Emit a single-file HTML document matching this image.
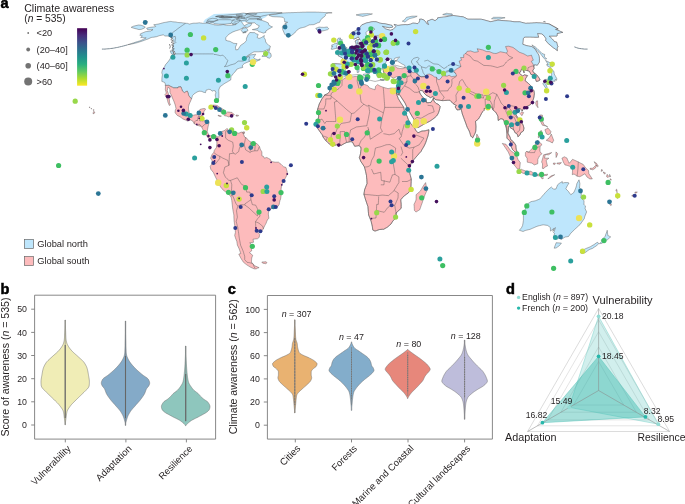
<!DOCTYPE html>
<html><head><meta charset="utf-8"><title>Climate awareness figure</title>
<style>html,body{margin:0;padding:0;background:#fff;overflow:hidden}svg{display:block}</style></head>
<body><svg width="685" height="504" viewBox="0 0 685 504" font-family="Liberation Sans, Arial, Helvetica, sans-serif">
<rect width="685" height="504" fill="#fff"/>
<clipPath id="eaclip"><path d="M336.3,78.4L335.3,77.4L334.5,76.7L333.7,76.0L332.6,76.2L331.4,76.4L331.6,74.9L331.7,73.5L330.7,72.9L331.5,71.3L331.8,70.0L332.0,68.6L331.9,67.6L331.8,66.5L331.3,64.8L332.8,63.7L333.8,63.7L334.7,63.7L336.1,63.8L337.6,63.9L339.0,64.0L340.4,64.1L341.3,64.1L342.2,64.1L342.5,63.1L342.9,62.0L343.0,60.7L343.0,59.3L342.4,58.3L341.7,57.3L340.6,56.9L339.5,56.4L338.5,56.0L338.1,55.0L339.0,54.6L339.9,54.3L341.2,54.3L342.5,54.4L342.1,52.7L343.1,53.2L344.1,53.1L345.0,53.0L346.0,52.4L346.9,51.8L346.9,50.6L347.9,50.2L348.8,49.9L350.1,48.9L351.0,47.2L352.0,46.4L353.0,46.3L354.0,46.2L355.0,46.1L356.0,46.0L356.2,44.6L356.0,42.9L355.3,41.3L355.8,40.4L357.0,39.9L358.3,39.5L359.1,39.5L359.9,39.5L359.4,38.5L358.9,37.6L357.9,36.7L357.4,37.5L356.1,38.2L354.9,38.8L354.0,38.8L353.0,38.7L351.8,37.5L351.5,36.4L351.2,35.4L351.0,34.5L350.9,33.6L351.6,32.4L352.7,31.9L353.8,31.5L354.7,31.2L355.6,30.8L356.4,30.2L357.3,29.6L358.3,29.0L359.3,28.3L359.9,27.5L360.5,26.6L361.2,25.7L361.9,24.8L363.0,24.4L364.1,24.0L365.1,23.5L366.2,23.1L367.2,22.8L368.3,22.6L369.2,22.4L370.1,22.2L371.0,21.9L371.8,21.8L372.6,21.7L373.4,21.6L374.3,21.7L375.1,21.7L375.9,21.7L377.1,22.1L378.4,22.5L379.7,23.1L380.9,23.3L382.1,23.5L383.3,23.6L384.4,23.7L385.6,23.9L386.9,24.2L388.1,24.5L389.4,24.8L390.7,25.1L392.0,25.4L392.4,26.1L392.9,26.9L392.3,27.1L391.6,27.4L390.5,27.5L389.3,27.7L388.3,27.5L387.3,27.3L386.3,27.1L385.3,26.9L384.3,26.7L383.3,26.5L382.3,26.3L383.4,27.1L384.5,28.0L385.7,29.0L386.8,29.3L388.0,29.6L389.1,30.0L390.3,30.3L391.2,30.0L392.1,29.8L393.0,29.5L393.7,28.8L394.4,28.1L395.1,27.4L395.9,26.5L395.0,25.5L394.2,24.4L394.9,24.6L395.7,24.8L396.7,25.1L397.7,25.4L398.8,25.3L399.9,25.2L401.0,25.0L402.1,24.9L403.2,24.8L404.2,24.7L405.3,24.6L406.2,24.7L407.2,24.8L408.1,24.6L409.0,24.4L409.9,24.3L410.7,24.1L411.5,23.7L412.2,23.4L412.9,23.1L414.2,23.2L415.4,23.3L416.6,23.5L417.8,23.6L418.5,22.9L419.1,22.3L419.5,21.2L419.8,20.2L419.6,19.2L420.7,19.2L421.8,19.2L423.0,19.7L424.2,20.2L424.9,21.1L425.7,22.0L426.4,23.0L427.2,24.0L428.7,24.6L428.2,23.4L427.7,22.3L427.2,21.2L428.0,20.8L428.9,20.5L429.7,20.2L430.5,19.8L431.3,19.5L432.1,19.2L433.5,19.9L435.1,20.7L435.7,20.2L436.3,19.7L436.9,19.2L437.6,18.7L437.7,17.8L438.7,17.6L439.6,17.5L440.6,17.4L441.5,17.3L442.5,17.2L443.4,17.1L444.4,17.0L445.3,16.9L446.2,16.7L447.0,16.6L447.9,16.4L448.8,16.2L449.6,16.1L450.4,16.0L451.2,15.8L451.9,15.7L452.7,15.6L453.5,15.5L454.6,15.7L455.8,15.9L457.0,16.1L458.2,16.2L459.5,16.4L460.7,16.6L462.0,16.7L463.3,16.9L464.8,17.6L466.3,18.4L467.9,19.2L468.8,19.2L469.8,19.2L470.8,19.2L471.8,19.2L472.7,19.2L473.8,19.2L474.9,19.2L476.0,19.2L477.1,19.2L478.2,19.2L479.3,19.2L480.5,19.2L481.6,19.3L483.3,19.7L485.1,20.2L486.8,20.7L488.7,21.2L490.6,21.7L491.4,21.5L492.3,21.4L493.1,21.2L494.0,21.0L494.8,20.8L495.6,20.7L496.5,20.5L497.3,20.3L498.2,20.2L499.4,20.3L500.7,20.4L501.9,20.5L503.2,20.6L504.5,20.7L505.7,20.8L507.0,20.9L508.3,21.0L509.6,21.1L510.8,21.2L512.5,21.5L514.1,21.8L515.2,21.8L516.3,21.8L517.4,21.8L518.6,21.8L519.7,21.8L521.6,22.3L523.5,22.8L525.5,23.3L526.6,23.3L527.6,23.2L528.7,23.2L529.8,23.2L530.8,23.1L531.9,23.1L532.9,23.0L533.9,22.9L534.7,22.9L535.5,22.8L536.3,22.7L537.5,22.8L538.6,22.9L539.7,22.9L540.9,23.0L542.0,23.1L543.2,23.2L544.4,23.3L545.6,23.4L546.8,23.5L548.2,23.8L549.6,24.1L551.7,25.3L553.9,26.5L556.1,27.7L558.2,29.0L557.3,29.1L556.3,29.2L555.4,29.4L557.8,30.3L560.2,31.3L562.7,32.4L561.8,32.5L560.8,32.7L559.9,32.9L559.0,33.1L558.0,33.3L557.1,33.5L557.1,34.3L557.1,35.1L557.0,36.0L555.8,36.0L554.5,36.0L553.3,36.0L552.0,36.0L551.1,36.0L550.1,36.1L549.1,36.1L550.7,37.5L552.3,39.0L553.5,40.4L554.6,41.8L555.5,41.9L556.5,42.0L556.9,43.3L557.2,44.6L557.6,45.8L558.1,47.0L557.5,47.4L557.0,47.9L557.2,49.2L557.4,50.6L555.5,49.2L553.6,47.9L551.9,46.5L550.2,45.1L548.4,43.7L547.4,42.5L546.4,41.3L545.4,40.1L545.9,39.5L546.3,39.0L545.4,37.7L544.5,36.5L543.5,35.2L541.6,33.8L540.2,33.7L538.8,33.6L537.5,33.5L537.9,34.7L538.2,35.9L538.6,37.2L537.3,37.2L536.1,37.2L534.8,37.2L533.5,37.1L532.2,37.1L530.8,37.0L529.6,37.0L528.3,37.0L527.1,37.0L525.8,37.0L524.6,37.0L524.2,37.6L523.7,38.1L523.3,38.7L523.2,39.6L523.1,40.4L523.0,41.3L522.9,42.3L522.8,43.3L522.7,44.2L524.7,45.0L526.8,45.7L528.4,46.0L530.0,46.3L531.6,46.5L533.2,47.6L534.8,48.7L535.8,50.4L536.8,52.1L537.8,53.5L538.7,54.8L539.1,56.6L539.4,58.4L539.4,60.2L539.4,62.0L538.7,63.1L538.0,64.1L537.3,65.2L536.0,64.9L534.6,64.6L534.3,65.4L533.9,66.2L534.0,67.4L534.1,68.6L533.4,69.6L532.8,70.5L533.0,71.9L535.0,73.5L536.9,75.0L538.2,76.7L539.4,78.4L540.1,80.0L539.0,80.6L538.0,81.2L537.1,81.3L536.3,81.4L535.6,79.4L534.9,78.1L534.3,76.8L533.6,75.4L532.2,74.9L530.9,74.4L530.2,72.9L529.4,71.3L527.6,70.7L526.3,70.4L525.0,70.0L523.7,69.6L523.9,71.2L524.1,72.9L523.8,71.7L523.4,70.5L521.6,69.0L521.0,70.5L520.4,72.1L519.6,72.4L518.8,72.7L520.0,73.8L521.2,74.8L522.8,76.0L523.6,75.4L524.4,74.8L526.0,75.2L527.6,75.6L526.9,76.5L526.3,77.5L525.7,78.4L525.4,79.5L525.1,80.6L526.8,82.0L528.4,83.4L530.4,85.3L532.3,87.3L532.4,88.9L534.0,90.8L534.2,92.2L534.4,93.7L534.2,95.3L534.0,96.8L533.7,98.1L533.3,99.4L532.8,100.7L532.2,102.1L531.3,103.4L530.4,104.7L529.4,105.2L528.3,105.8L527.3,106.4L526.2,107.0L524.8,107.8L523.4,108.5L522.8,109.8L522.3,111.1L521.2,109.8L520.2,108.5L519.1,108.5L518.1,108.5L517.1,109.4L516.1,110.2L515.8,112.1L515.5,113.9L516.5,115.5L517.4,117.2L519.1,118.8L520.8,120.5L521.6,122.1L522.4,123.7L523.2,125.3L523.6,126.7L524.0,128.1L523.7,129.6L523.4,131.0L522.1,131.9L520.7,132.8L520.1,134.8L519.0,135.8L517.9,136.8L517.6,135.4L517.2,134.1L516.1,133.3L514.9,132.6L514.3,131.1L513.6,129.7L511.9,128.7L510.2,127.7L509.8,125.9L508.4,126.6L508.5,127.9L508.6,129.2L508.3,131.1L507.9,133.0L509.0,135.2L510.2,137.4L510.5,138.7L510.9,139.9L512.1,140.6L513.9,142.3L514.9,143.8L515.8,145.2L516.0,147.2L516.2,149.2L516.8,151.0L517.4,152.8L516.1,153.0L514.9,151.9L513.8,150.8L512.6,149.7L511.7,147.8L510.9,145.9L510.6,143.9L510.4,142.7L510.2,141.4L508.5,139.8L506.9,138.1L506.9,136.0L506.9,133.9L506.7,132.0L506.5,130.1L506.3,128.1L505.6,125.9L504.9,123.7L504.1,121.5L503.3,119.4L502.1,119.0L500.9,118.7L499.5,119.6L498.2,120.5L498.0,118.3L497.9,116.1L496.8,114.1L495.7,112.2L494.4,111.2L493.2,110.2L492.3,108.5L491.4,106.8L490.5,107.1L489.5,107.4L488.4,107.7L487.2,107.9L485.7,108.2L484.1,108.5L484.3,110.2L483.2,111.3L482.0,112.4L481.3,113.9L480.6,115.4L479.5,117.3L478.4,119.1L477.0,120.2L475.5,121.3L475.7,123.2L475.9,125.0L476.0,126.8L475.9,128.9L475.8,131.0L475.2,133.0L474.4,134.6L473.6,136.1L472.7,137.9L471.7,137.0L470.8,136.1L470.3,134.4L469.8,132.7L469.2,131.0L468.2,129.1L467.2,127.3L466.5,125.4L465.8,123.4L465.1,121.5L464.4,119.6L463.7,117.7L463.0,115.8L462.3,113.9L461.9,112.3L461.5,110.7L461.2,109.2L460.7,108.0L460.3,106.8L460.3,108.2L460.3,109.6L458.7,109.8L457.1,110.0L456.1,108.4L455.0,106.8L456.4,105.5L455.0,104.8L453.7,104.0L452.3,102.7L450.9,101.5L449.8,100.2L448.5,100.3L447.2,100.3L445.9,100.4L444.7,100.5L443.4,100.6L442.2,100.6L440.7,100.4L439.3,100.2L437.8,100.0L436.3,99.8L435.2,99.4L434.1,98.0L433.1,96.6L431.8,97.1L430.5,97.7L429.0,96.8L427.6,96.0L426.1,95.2L425.0,94.0L423.9,92.9L423.2,91.7L422.4,90.6L421.4,90.6L420.4,90.6L419.3,91.6L420.0,93.2L420.8,94.7L421.8,96.0L422.9,97.2L423.8,98.5L424.5,100.0L425.2,101.5L426.1,101.9L426.3,100.4L425.9,98.7L425.4,99.8L426.1,101.3L426.7,102.7L428.1,102.7L429.6,102.5L431.0,102.3L432.2,100.4L432.8,99.3L433.4,98.1L433.7,99.7L434.0,101.3L435.4,102.5L436.7,103.8L438.0,104.0L439.1,105.2L440.2,106.4L439.8,108.5L439.2,110.7L438.7,112.3L438.0,113.9L437.3,115.0L436.5,116.1L435.3,117.2L434.0,118.3L432.6,119.3L431.2,120.3L429.7,121.3L428.5,121.9L427.2,122.5L426.0,123.1L424.7,123.7L423.2,124.7L421.6,125.6L420.0,126.5L418.4,127.5L417.2,127.6L416.0,127.7L415.3,125.7L414.6,123.7L414.3,121.5L414.0,119.4L412.9,117.7L411.9,116.1L410.8,114.2L409.7,112.3L408.6,110.4L407.5,108.5L406.7,106.7L405.9,105.0L405.1,103.2L403.7,101.0L402.3,98.9L400.9,96.8L399.5,94.7L399.3,93.2L399.1,91.6L399.0,91.6L398.7,93.4L398.4,95.2L397.0,93.7L396.2,92.2L395.3,90.8L396.0,92.4L396.6,94.1L397.2,95.8L397.8,97.2L398.3,98.7L399.3,100.3L400.2,101.8L401.2,103.4L402.5,105.4L403.8,107.4L404.1,109.2L404.4,110.9L404.7,112.6L405.9,114.4L407.1,116.1L407.7,117.8L408.4,119.6L409.1,121.3L410.4,123.1L411.7,124.8L413.2,126.5L414.7,128.1L415.6,130.1L416.8,131.5L417.9,132.8L419.3,132.2L420.6,131.6L421.9,131.0L423.6,130.9L425.2,130.8L426.4,130.4L427.7,130.1L428.9,129.7L428.8,131.2L428.6,132.8L428.3,134.3L428.0,135.9L427.2,138.1L426.5,140.3L425.7,142.6L425.0,144.2L424.2,145.9L423.1,147.8L422.0,149.6L421.0,151.5L419.3,153.3L417.7,155.2L416.0,157.1L414.8,158.5L413.5,160.0L412.4,161.5L411.3,163.1L410.5,165.1L410.0,166.9L409.6,168.7L409.2,170.4L409.7,171.1L409.8,172.4L409.9,173.8L410.4,175.6L410.9,177.5L411.3,179.3L411.2,181.5L411.1,183.7L411.0,185.9L410.8,188.1L411.1,189.2L409.6,191.2L408.1,193.2L406.8,194.0L405.6,194.9L404.3,195.8L402.5,197.7L400.8,199.7L400.9,201.3L401.1,202.9L401.2,204.4L401.2,206.4L401.2,208.3L399.4,209.9L397.7,211.5L396.1,212.9L396.1,215.1L396.0,217.1L394.6,219.2L392.8,221.1L391.9,222.5L391.0,224.0L389.3,225.5L387.6,227.0L386.3,227.8L385.0,228.5L383.7,229.3L382.4,229.3L381.0,229.4L379.7,229.5L378.1,230.0L376.6,230.6L375.0,231.1L373.9,230.6L372.8,230.1L372.7,229.3L372.5,227.9L372.3,226.4L371.9,224.7L371.5,223.0L371.1,221.3L370.3,219.2L369.5,217.1L368.6,215.1L368.5,213.3L368.3,211.6L368.2,209.9L368.0,208.1L367.9,206.4L367.1,204.3L366.4,202.2L365.7,200.1L365.1,198.2L364.5,196.2L363.9,194.3L364.1,192.7L364.4,191.2L364.6,189.7L365.4,187.6L366.2,185.6L367.0,183.5L366.9,181.5L366.8,179.5L366.6,177.5L366.5,175.6L366.0,173.6L365.6,171.6L365.1,169.5L364.7,168.1L364.3,166.7L363.1,164.9L362.0,163.2L360.8,161.5L360.1,159.6L359.3,157.7L359.9,155.7L360.5,153.7L360.7,151.5L361.0,149.2L360.8,147.0L359.8,146.3L358.8,145.7L357.6,145.9L356.3,146.1L354.7,146.3L353.8,144.7L353.0,143.0L352.2,141.9L351.3,141.8L350.4,141.7L349.0,142.0L347.7,142.3L346.4,142.6L344.7,143.4L343.1,144.3L341.4,145.2L341.3,145.5L339.7,144.9L338.1,144.3L336.7,144.8L335.2,145.2L333.8,145.7L332.3,146.1L330.7,144.9L329.0,143.7L327.4,142.1L325.7,140.6L324.4,138.8L323.0,137.0L322.2,134.8L321.1,133.3L320.1,131.9L318.9,130.2L317.7,128.6L317.5,127.3L317.3,125.9L316.7,124.6L316.2,123.3L317.0,121.9L317.9,120.5L318.3,118.3L318.7,116.1L318.4,114.5L318.1,112.8L317.8,111.2L317.5,109.6L318.1,107.7L318.7,105.7L319.3,103.8L320.2,102.2L321.0,100.6L321.9,98.9L323.1,97.2L324.4,95.6L324.6,94.9L326.1,94.3L327.6,93.7L328.5,92.7L329.5,91.6L329.9,89.8L329.8,88.6L329.7,87.5L330.7,85.6L331.8,83.8L333.2,83.2L334.4,82.4L335.0,80.9L335.7,79.4L335.9,78.8Z"/></clipPath>
<path d="M336.3,78.4L335.3,77.4L334.5,76.7L333.7,76.0L332.6,76.2L331.4,76.4L331.6,74.9L331.7,73.5L330.7,72.9L331.5,71.3L331.8,70.0L332.0,68.6L331.9,67.6L331.8,66.5L331.3,64.8L332.8,63.7L333.8,63.7L334.7,63.7L336.1,63.8L337.6,63.9L339.0,64.0L340.4,64.1L341.3,64.1L342.2,64.1L342.5,63.1L342.9,62.0L343.0,60.7L343.0,59.3L342.4,58.3L341.7,57.3L340.6,56.9L339.5,56.4L338.5,56.0L338.1,55.0L339.0,54.6L339.9,54.3L341.2,54.3L342.5,54.4L342.1,52.7L343.1,53.2L344.1,53.1L345.0,53.0L346.0,52.4L346.9,51.8L346.9,50.6L347.9,50.2L348.8,49.9L350.1,48.9L351.0,47.2L352.0,46.4L353.0,46.3L354.0,46.2L355.0,46.1L356.0,46.0L356.2,44.6L356.0,42.9L355.3,41.3L355.8,40.4L357.0,39.9L358.3,39.5L359.1,39.5L359.9,39.5L359.4,38.5L358.9,37.6L357.9,36.7L357.4,37.5L356.1,38.2L354.9,38.8L354.0,38.8L353.0,38.7L351.8,37.5L351.5,36.4L351.2,35.4L351.0,34.5L350.9,33.6L351.6,32.4L352.7,31.9L353.8,31.5L354.7,31.2L355.6,30.8L356.4,30.2L357.3,29.6L358.3,29.0L359.3,28.3L359.9,27.5L360.5,26.6L361.2,25.7L361.9,24.8L363.0,24.4L364.1,24.0L365.1,23.5L366.2,23.1L367.2,22.8L368.3,22.6L369.2,22.4L370.1,22.2L371.0,21.9L371.8,21.8L372.6,21.7L373.4,21.6L374.3,21.7L375.1,21.7L375.9,21.7L377.1,22.1L378.4,22.5L379.7,23.1L380.9,23.3L382.1,23.5L383.3,23.6L384.4,23.7L385.6,23.9L386.9,24.2L388.1,24.5L389.4,24.8L390.7,25.1L392.0,25.4L392.4,26.1L392.9,26.9L392.3,27.1L391.6,27.4L390.5,27.5L389.3,27.7L388.3,27.5L387.3,27.3L386.3,27.1L385.3,26.9L384.3,26.7L383.3,26.5L382.3,26.3L383.4,27.1L384.5,28.0L385.7,29.0L386.8,29.3L388.0,29.6L389.1,30.0L390.3,30.3L391.2,30.0L392.1,29.8L393.0,29.5L393.7,28.8L394.4,28.1L395.1,27.4L395.9,26.5L395.0,25.5L394.2,24.4L394.9,24.6L395.7,24.8L396.7,25.1L397.7,25.4L398.8,25.3L399.9,25.2L401.0,25.0L402.1,24.9L403.2,24.8L404.2,24.7L405.3,24.6L406.2,24.7L407.2,24.8L408.1,24.6L409.0,24.4L409.9,24.3L410.7,24.1L411.5,23.7L412.2,23.4L412.9,23.1L414.2,23.2L415.4,23.3L416.6,23.5L417.8,23.6L418.5,22.9L419.1,22.3L419.5,21.2L419.8,20.2L419.6,19.2L420.7,19.2L421.8,19.2L423.0,19.7L424.2,20.2L424.9,21.1L425.7,22.0L426.4,23.0L427.2,24.0L428.7,24.6L428.2,23.4L427.7,22.3L427.2,21.2L428.0,20.8L428.9,20.5L429.7,20.2L430.5,19.8L431.3,19.5L432.1,19.2L433.5,19.9L435.1,20.7L435.7,20.2L436.3,19.7L436.9,19.2L437.6,18.7L437.7,17.8L438.7,17.6L439.6,17.5L440.6,17.4L441.5,17.3L442.5,17.2L443.4,17.1L444.4,17.0L445.3,16.9L446.2,16.7L447.0,16.6L447.9,16.4L448.8,16.2L449.6,16.1L450.4,16.0L451.2,15.8L451.9,15.7L452.7,15.6L453.5,15.5L454.6,15.7L455.8,15.9L457.0,16.1L458.2,16.2L459.5,16.4L460.7,16.6L462.0,16.7L463.3,16.9L464.8,17.6L466.3,18.4L467.9,19.2L468.8,19.2L469.8,19.2L470.8,19.2L471.8,19.2L472.7,19.2L473.8,19.2L474.9,19.2L476.0,19.2L477.1,19.2L478.2,19.2L479.3,19.2L480.5,19.2L481.6,19.3L483.3,19.7L485.1,20.2L486.8,20.7L488.7,21.2L490.6,21.7L491.4,21.5L492.3,21.4L493.1,21.2L494.0,21.0L494.8,20.8L495.6,20.7L496.5,20.5L497.3,20.3L498.2,20.2L499.4,20.3L500.7,20.4L501.9,20.5L503.2,20.6L504.5,20.7L505.7,20.8L507.0,20.9L508.3,21.0L509.6,21.1L510.8,21.2L512.5,21.5L514.1,21.8L515.2,21.8L516.3,21.8L517.4,21.8L518.6,21.8L519.7,21.8L521.6,22.3L523.5,22.8L525.5,23.3L526.6,23.3L527.6,23.2L528.7,23.2L529.8,23.2L530.8,23.1L531.9,23.1L532.9,23.0L533.9,22.9L534.7,22.9L535.5,22.8L536.3,22.7L537.5,22.8L538.6,22.9L539.7,22.9L540.9,23.0L542.0,23.1L543.2,23.2L544.4,23.3L545.6,23.4L546.8,23.5L548.2,23.8L549.6,24.1L551.7,25.3L553.9,26.5L556.1,27.7L558.2,29.0L557.3,29.1L556.3,29.2L555.4,29.4L557.8,30.3L560.2,31.3L562.7,32.4L561.8,32.5L560.8,32.7L559.9,32.9L559.0,33.1L558.0,33.3L557.1,33.5L557.1,34.3L557.1,35.1L557.0,36.0L555.8,36.0L554.5,36.0L553.3,36.0L552.0,36.0L551.1,36.0L550.1,36.1L549.1,36.1L550.7,37.5L552.3,39.0L553.5,40.4L554.6,41.8L555.5,41.9L556.5,42.0L556.9,43.3L557.2,44.6L557.6,45.8L558.1,47.0L557.5,47.4L557.0,47.9L557.2,49.2L557.4,50.6L555.5,49.2L553.6,47.9L551.9,46.5L550.2,45.1L548.4,43.7L547.4,42.5L546.4,41.3L545.4,40.1L545.9,39.5L546.3,39.0L545.4,37.7L544.5,36.5L543.5,35.2L541.6,33.8L540.2,33.7L538.8,33.6L537.5,33.5L537.9,34.7L538.2,35.9L538.6,37.2L537.3,37.2L536.1,37.2L534.8,37.2L533.5,37.1L532.2,37.1L530.8,37.0L529.6,37.0L528.3,37.0L527.1,37.0L525.8,37.0L524.6,37.0L524.2,37.6L523.7,38.1L523.3,38.7L523.2,39.6L523.1,40.4L523.0,41.3L522.9,42.3L522.8,43.3L522.7,44.2L524.7,45.0L526.8,45.7L528.4,46.0L530.0,46.3L531.6,46.5L533.2,47.6L534.8,48.7L535.8,50.4L536.8,52.1L537.8,53.5L538.7,54.8L539.1,56.6L539.4,58.4L539.4,60.2L539.4,62.0L538.7,63.1L538.0,64.1L537.3,65.2L536.0,64.9L534.6,64.6L534.3,65.4L533.9,66.2L534.0,67.4L534.1,68.6L533.4,69.6L532.8,70.5L533.0,71.9L535.0,73.5L536.9,75.0L538.2,76.7L539.4,78.4L540.1,80.0L539.0,80.6L538.0,81.2L537.1,81.3L536.3,81.4L535.6,79.4L534.9,78.1L534.3,76.8L533.6,75.4L532.2,74.9L530.9,74.4L530.2,72.9L529.4,71.3L527.6,70.7L526.3,70.4L525.0,70.0L523.7,69.6L523.9,71.2L524.1,72.9L523.8,71.7L523.4,70.5L521.6,69.0L521.0,70.5L520.4,72.1L519.6,72.4L518.8,72.7L520.0,73.8L521.2,74.8L522.8,76.0L523.6,75.4L524.4,74.8L526.0,75.2L527.6,75.6L526.9,76.5L526.3,77.5L525.7,78.4L525.4,79.5L525.1,80.6L526.8,82.0L528.4,83.4L530.4,85.3L532.3,87.3L532.4,88.9L534.0,90.8L534.2,92.2L534.4,93.7L534.2,95.3L534.0,96.8L533.7,98.1L533.3,99.4L532.8,100.7L532.2,102.1L531.3,103.4L530.4,104.7L529.4,105.2L528.3,105.8L527.3,106.4L526.2,107.0L524.8,107.8L523.4,108.5L522.8,109.8L522.3,111.1L521.2,109.8L520.2,108.5L519.1,108.5L518.1,108.5L517.1,109.4L516.1,110.2L515.8,112.1L515.5,113.9L516.5,115.5L517.4,117.2L519.1,118.8L520.8,120.5L521.6,122.1L522.4,123.7L523.2,125.3L523.6,126.7L524.0,128.1L523.7,129.6L523.4,131.0L522.1,131.9L520.7,132.8L520.1,134.8L519.0,135.8L517.9,136.8L517.6,135.4L517.2,134.1L516.1,133.3L514.9,132.6L514.3,131.1L513.6,129.7L511.9,128.7L510.2,127.7L509.8,125.9L508.4,126.6L508.5,127.9L508.6,129.2L508.3,131.1L507.9,133.0L509.0,135.2L510.2,137.4L510.5,138.7L510.9,139.9L512.1,140.6L513.9,142.3L514.9,143.8L515.8,145.2L516.0,147.2L516.2,149.2L516.8,151.0L517.4,152.8L516.1,153.0L514.9,151.9L513.8,150.8L512.6,149.7L511.7,147.8L510.9,145.9L510.6,143.9L510.4,142.7L510.2,141.4L508.5,139.8L506.9,138.1L506.9,136.0L506.9,133.9L506.7,132.0L506.5,130.1L506.3,128.1L505.6,125.9L504.9,123.7L504.1,121.5L503.3,119.4L502.1,119.0L500.9,118.7L499.5,119.6L498.2,120.5L498.0,118.3L497.9,116.1L496.8,114.1L495.7,112.2L494.4,111.2L493.2,110.2L492.3,108.5L491.4,106.8L490.5,107.1L489.5,107.4L488.4,107.7L487.2,107.9L485.7,108.2L484.1,108.5L484.3,110.2L483.2,111.3L482.0,112.4L481.3,113.9L480.6,115.4L479.5,117.3L478.4,119.1L477.0,120.2L475.5,121.3L475.7,123.2L475.9,125.0L476.0,126.8L475.9,128.9L475.8,131.0L475.2,133.0L474.4,134.6L473.6,136.1L472.7,137.9L471.7,137.0L470.8,136.1L470.3,134.4L469.8,132.7L469.2,131.0L468.2,129.1L467.2,127.3L466.5,125.4L465.8,123.4L465.1,121.5L464.4,119.6L463.7,117.7L463.0,115.8L462.3,113.9L461.9,112.3L461.5,110.7L461.2,109.2L460.7,108.0L460.3,106.8L460.3,108.2L460.3,109.6L458.7,109.8L457.1,110.0L456.1,108.4L455.0,106.8L456.4,105.5L455.0,104.8L453.7,104.0L452.3,102.7L450.9,101.5L449.8,100.2L448.5,100.3L447.2,100.3L445.9,100.4L444.7,100.5L443.4,100.6L442.2,100.6L440.7,100.4L439.3,100.2L437.8,100.0L436.3,99.8L435.2,99.4L434.1,98.0L433.1,96.6L431.8,97.1L430.5,97.7L429.0,96.8L427.6,96.0L426.1,95.2L425.0,94.0L423.9,92.9L423.2,91.7L422.4,90.6L421.4,90.6L420.4,90.6L419.3,91.6L420.0,93.2L420.8,94.7L421.8,96.0L422.9,97.2L423.8,98.5L424.5,100.0L425.2,101.5L426.1,101.9L426.3,100.4L425.9,98.7L425.4,99.8L426.1,101.3L426.7,102.7L428.1,102.7L429.6,102.5L431.0,102.3L432.2,100.4L432.8,99.3L433.4,98.1L433.7,99.7L434.0,101.3L435.4,102.5L436.7,103.8L438.0,104.0L439.1,105.2L440.2,106.4L439.8,108.5L439.2,110.7L438.7,112.3L438.0,113.9L437.3,115.0L436.5,116.1L435.3,117.2L434.0,118.3L432.6,119.3L431.2,120.3L429.7,121.3L428.5,121.9L427.2,122.5L426.0,123.1L424.7,123.7L423.2,124.7L421.6,125.6L420.0,126.5L418.4,127.5L417.2,127.6L416.0,127.7L415.3,125.7L414.6,123.7L414.3,121.5L414.0,119.4L412.9,117.7L411.9,116.1L410.8,114.2L409.7,112.3L408.6,110.4L407.5,108.5L406.7,106.7L405.9,105.0L405.1,103.2L403.7,101.0L402.3,98.9L400.9,96.8L399.5,94.7L399.3,93.2L399.1,91.6L399.0,91.6L398.7,93.4L398.4,95.2L397.0,93.7L396.2,92.2L395.3,90.8L396.0,92.4L396.6,94.1L397.2,95.8L397.8,97.2L398.3,98.7L399.3,100.3L400.2,101.8L401.2,103.4L402.5,105.4L403.8,107.4L404.1,109.2L404.4,110.9L404.7,112.6L405.9,114.4L407.1,116.1L407.7,117.8L408.4,119.6L409.1,121.3L410.4,123.1L411.7,124.8L413.2,126.5L414.7,128.1L415.6,130.1L416.8,131.5L417.9,132.8L419.3,132.2L420.6,131.6L421.9,131.0L423.6,130.9L425.2,130.8L426.4,130.4L427.7,130.1L428.9,129.7L428.8,131.2L428.6,132.8L428.3,134.3L428.0,135.9L427.2,138.1L426.5,140.3L425.7,142.6L425.0,144.2L424.2,145.9L423.1,147.8L422.0,149.6L421.0,151.5L419.3,153.3L417.7,155.2L416.0,157.1L414.8,158.5L413.5,160.0L412.4,161.5L411.3,163.1L410.5,165.1L410.0,166.9L409.6,168.7L409.2,170.4L409.7,171.1L409.8,172.4L409.9,173.8L410.4,175.6L410.9,177.5L411.3,179.3L411.2,181.5L411.1,183.7L411.0,185.9L410.8,188.1L411.1,189.2L409.6,191.2L408.1,193.2L406.8,194.0L405.6,194.9L404.3,195.8L402.5,197.7L400.8,199.7L400.9,201.3L401.1,202.9L401.2,204.4L401.2,206.4L401.2,208.3L399.4,209.9L397.7,211.5L396.1,212.9L396.1,215.1L396.0,217.1L394.6,219.2L392.8,221.1L391.9,222.5L391.0,224.0L389.3,225.5L387.6,227.0L386.3,227.8L385.0,228.5L383.7,229.3L382.4,229.3L381.0,229.4L379.7,229.5L378.1,230.0L376.6,230.6L375.0,231.1L373.9,230.6L372.8,230.1L372.7,229.3L372.5,227.9L372.3,226.4L371.9,224.7L371.5,223.0L371.1,221.3L370.3,219.2L369.5,217.1L368.6,215.1L368.5,213.3L368.3,211.6L368.2,209.9L368.0,208.1L367.9,206.4L367.1,204.3L366.4,202.2L365.7,200.1L365.1,198.2L364.5,196.2L363.9,194.3L364.1,192.7L364.4,191.2L364.6,189.7L365.4,187.6L366.2,185.6L367.0,183.5L366.9,181.5L366.8,179.5L366.6,177.5L366.5,175.6L366.0,173.6L365.6,171.6L365.1,169.5L364.7,168.1L364.3,166.7L363.1,164.9L362.0,163.2L360.8,161.5L360.1,159.6L359.3,157.7L359.9,155.7L360.5,153.7L360.7,151.5L361.0,149.2L360.8,147.0L359.8,146.3L358.8,145.7L357.6,145.9L356.3,146.1L354.7,146.3L353.8,144.7L353.0,143.0L352.2,141.9L351.3,141.8L350.4,141.7L349.0,142.0L347.7,142.3L346.4,142.6L344.7,143.4L343.1,144.3L341.4,145.2L341.3,145.5L339.7,144.9L338.1,144.3L336.7,144.8L335.2,145.2L333.8,145.7L332.3,146.1L330.7,144.9L329.0,143.7L327.4,142.1L325.7,140.6L324.4,138.8L323.0,137.0L322.2,134.8L321.1,133.3L320.1,131.9L318.9,130.2L317.7,128.6L317.5,127.3L317.3,125.9L316.7,124.6L316.2,123.3L317.0,121.9L317.9,120.5L318.3,118.3L318.7,116.1L318.4,114.5L318.1,112.8L317.8,111.2L317.5,109.6L318.1,107.7L318.7,105.7L319.3,103.8L320.2,102.2L321.0,100.6L321.9,98.9L323.1,97.2L324.4,95.6L324.6,94.9L326.1,94.3L327.6,93.7L328.5,92.7L329.5,91.6L329.9,89.8L329.8,88.6L329.7,87.5L330.7,85.6L331.8,83.8L333.2,83.2L334.4,82.4L335.0,80.9L335.7,79.4L335.9,78.8Z" fill="#fdbbbc" stroke="#4a4a4a" stroke-width="0.42"/>
<path d="M312.7,17.8L312.4,18.7L312.0,19.7L311.7,20.7L311.3,21.7L311.0,22.8L310.6,24.0L310.3,25.2L309.9,26.4L309.5,27.7L309.2,29.0L308.8,30.3L308.4,31.7L308.0,33.1L307.7,34.5L307.3,36.0L306.9,37.5L306.5,39.0L306.2,40.5L305.8,42.1L305.4,43.7L305.1,45.4L304.7,47.0L304.4,48.7L304.1,50.4L303.7,52.1L303.4,53.9L303.1,55.7L302.7,57.5L302.4,59.3L302.1,61.1L301.8,63.0L301.5,64.8L301.2,66.7L300.9,68.6L300.7,70.5L300.4,72.5L300.1,74.4L299.9,76.4L299.6,78.4L299.4,80.4L299.1,82.4L298.9,84.4L298.7,86.5L298.4,88.5L298.2,90.6L299.8,90.1L301.3,89.6L302.9,89.1L304.5,88.6L306.0,88.1L307.6,87.6L309.1,87.1L310.6,86.6L312.2,86.2L313.7,85.7L315.2,85.2L316.8,84.7L318.3,84.2L319.8,83.7L321.3,83.2L322.8,82.8L324.4,82.3L325.9,81.8L327.4,81.3L328.9,80.8L330.4,80.4L331.9,79.9L333.3,79.4L334.8,78.9L336.3,78.5L337.7,78.2L339.0,77.9L340.4,77.7L341.7,77.4L343.2,77.0L344.7,76.6L346.2,76.2L347.7,75.8L349.2,75.4L350.7,75.3L352.2,75.1L353.7,74.9L355.2,74.8L356.6,74.6L358.1,74.4L359.4,74.7L360.6,75.0L361.9,75.2L363.0,76.6L364.4,78.0L365.9,79.4L367.4,79.7L368.9,80.1L370.5,80.4L372.0,80.7L373.5,81.1L375.1,81.4L376.5,81.1L377.8,80.8L379.2,80.5L380.6,80.2L382.0,80.0L383.3,79.7L384.7,79.4L384.5,77.7L384.2,76.0L384.0,74.3L383.7,72.7L383.5,71.0L383.2,69.4L382.9,68.3L382.5,67.3L383.8,67.0L385.1,66.7L386.1,66.7L387.4,66.5L388.7,66.3L390.0,66.1L391.3,65.9L392.6,65.6L393.9,65.4L395.2,65.2L396.6,65.6L398.0,65.9L399.5,66.3L400.9,66.6L402.3,67.0L403.7,67.3L405.1,67.7L406.6,67.7L408.2,68.4L408.9,70.4L409.8,70.7L410.7,71.1L411.1,71.9L412.3,72.3L413.5,72.7L414.6,72.4L415.6,72.1L416.3,73.3L417.3,73.7L418.6,75.4L419.8,76.1L421.1,76.8L422.5,76.7L424.0,76.7L425.4,76.6L425.4,75.8L426.3,75.1L427.3,74.4L428.3,74.2L429.4,74.0L430.6,74.5L431.9,75.0L433.3,76.0L434.6,77.0L435.6,77.1L436.5,77.2L437.5,79.2L439.1,79.8L440.0,79.0L441.0,78.2L441.8,77.0L442.5,75.8L443.7,75.8L444.8,75.8L446.0,76.0L447.1,76.2L448.1,75.7L449.1,75.2L450.4,76.0L451.8,76.8L453.2,76.4L454.3,76.3L455.5,76.1L456.6,76.0L456.2,74.7L455.8,73.5L453.9,71.7L454.6,70.7L455.4,69.8L456.3,69.2L457.1,68.6L458.1,68.1L459.0,67.7L460.0,67.1L461.0,66.5L460.4,64.8L459.8,63.0L459.1,61.1L460.3,60.7L461.5,60.2L461.1,58.8L460.6,57.5L461.7,57.5L462.7,57.5L463.7,57.5L463.7,56.1L463.7,54.8L464.4,54.3L465.0,53.7L465.6,53.5L466.2,52.8L466.7,52.0L467.3,51.3L468.4,51.2L469.4,51.1L470.5,50.9L471.9,51.4L473.3,51.9L474.7,52.3L476.0,52.1L477.2,51.9L478.4,51.6L477.8,50.2L477.2,48.7L478.4,49.0L479.6,49.2L481.1,49.6L482.7,49.9L484.7,50.8L486.6,51.6L488.0,51.6L489.3,51.6L491.2,52.4L493.1,53.2L494.6,53.4L496.1,53.5L497.2,53.1L498.3,52.7L499.3,52.2L500.4,51.8L501.7,52.0L503.0,52.3L504.3,52.5L505.4,52.8L506.5,53.0L507.0,52.1L507.5,51.3L506.8,49.6L506.1,47.9L505.6,46.5L506.6,46.4L507.7,46.3L508.7,46.2L510.1,46.6L511.6,47.0L513.0,47.4L515.0,48.9L517.1,50.5L519.1,52.1L520.7,52.7L522.3,53.3L523.9,53.9L525.8,55.0L527.7,56.0L528.6,55.8L529.6,55.6L530.5,55.4L531.4,55.1L531.8,56.2L532.2,57.3L532.7,58.7L533.3,60.2L532.3,60.7L531.3,61.3L532.4,63.1L533.6,65.0L533.9,66.2L534.7,66.7L536.7,68.6L538.7,70.5L539.3,72.5L539.9,74.4L540.5,76.4L541.0,78.4L541.0,80.4L540.9,82.4L541.4,84.4L541.9,86.5L542.3,88.5L543.7,90.6L545.1,92.7L546.5,94.7L547.9,96.8L549.2,98.9L550.5,101.0L552.5,102.1L554.4,103.2L556.4,104.2L558.4,105.3L560.3,106.4L562.3,107.4L564.2,108.5L566.2,109.6L568.1,110.7L570.1,111.8L571.7,111.8L573.3,111.8L574.9,111.8L576.5,111.8L578.1,111.8L579.7,111.8L581.4,111.8L583.0,111.8L584.6,111.8L586.2,111.8L587.8,111.8L589.4,111.8L591.0,111.8L592.6,111.8L594.2,111.8L595.8,111.8L597.5,111.8L599.1,111.8L600.7,111.8L602.3,111.8L603.9,111.8L605.5,111.8L607.1,111.8L608.7,111.8L610.3,111.8L611.9,111.8L613.5,111.8L615.2,111.8L616.8,111.8L618.4,111.8L620.0,111.8L621.6,111.8L623.2,111.8L624.8,111.8L626.4,111.8L628.0,111.8L629.6,111.8L631.3,111.8L632.9,111.8L634.5,111.8L633.6,109.6L632.7,107.4L631.7,105.3L630.7,103.2L629.7,101.0L628.6,98.9L627.4,96.8L626.3,94.7L625.1,92.7L623.8,90.6L622.5,88.5L621.2,86.5L619.8,84.4L618.4,82.4L617.0,80.4L615.5,78.4L614.0,76.4L612.4,74.4L610.8,72.5L609.2,70.5L607.5,68.6L605.8,66.7L604.1,64.8L602.3,63.0L600.5,61.1L598.6,59.3L596.7,57.5L594.8,55.7L592.8,53.9L590.9,52.1L588.8,50.4L586.8,48.7L584.7,47.0L582.6,45.4L580.5,43.7L578.3,42.1L576.2,40.5L574.0,39.0L571.7,37.5L569.5,36.0L567.3,34.5L565.0,33.1L562.8,31.7L560.5,30.3L558.3,29.0L556.0,27.7L553.8,26.4L551.6,25.2L549.4,24.0L547.2,22.8L545.1,21.7L543.0,20.7L541.0,19.7L539.0,18.7L537.1,17.8L535.3,16.9L533.5,16.1L531.9,15.3L530.3,14.6L528.9,13.9L527.5,13.3L526.3,12.8L525.2,12.3L524.2,11.9L523.4,11.5L522.4,11.5L521.4,11.5L520.4,11.5L519.4,11.5L518.5,11.5L517.5,11.5L516.5,11.5L515.5,11.5L514.5,11.5L513.5,11.5L512.5,11.5L511.5,11.5L510.5,11.5L509.5,11.5L508.5,11.5L507.5,11.5L506.5,11.5L505.6,11.5L504.6,11.5L503.6,11.5L502.6,11.5L501.6,11.5L500.6,11.5L499.6,11.5L498.6,11.5L497.6,11.5L496.6,11.5L495.6,11.5L494.6,11.5L493.6,11.5L492.6,11.5L491.7,11.5L490.7,11.5L489.7,11.5L488.7,11.5L487.7,11.5L486.7,11.5L485.7,11.5L484.7,11.5L483.7,11.5L482.7,11.5L481.7,11.5L480.7,11.5L479.7,11.5L478.8,11.5L477.8,11.5L476.8,11.5L475.8,11.5L474.8,11.5L473.8,11.5L472.8,11.5L471.8,11.5L470.8,11.5L469.8,11.5L468.8,11.5L467.8,11.5L466.8,11.5L465.8,11.5L464.9,11.5L463.9,11.5L462.9,11.5L461.9,11.5L460.9,11.5L459.9,11.5L458.9,11.5L457.9,11.5L456.9,11.5L455.9,11.5L454.9,11.5L453.9,11.5L452.9,11.5L451.9,11.5L451.0,11.5L450.0,11.5L449.0,11.5L448.0,11.5L447.0,11.5L446.0,11.5L445.0,11.5L444.0,11.5L443.0,11.5L442.0,11.5L441.0,11.5L440.0,11.5L439.0,11.5L438.1,11.5L437.1,11.5L436.1,11.5L435.1,11.5L434.1,11.5L433.1,11.5L432.1,11.5L431.1,11.5L430.1,11.5L429.1,11.5L428.1,11.5L427.1,11.5L426.1,11.5L425.1,11.5L424.2,11.5L423.2,11.5L422.2,11.5L421.2,11.5L420.2,11.5L419.2,11.5L418.2,11.5L417.2,11.5L416.2,11.5L415.2,11.5L414.2,11.5L413.2,11.5L412.2,11.5L411.2,11.5L410.3,11.5L409.3,11.5L408.3,11.5L407.3,11.5L406.3,11.5L405.3,11.5L404.3,11.5L403.3,11.5L402.3,11.5L401.3,11.5L400.3,11.5L399.3,11.5L398.3,11.5L397.4,11.5L396.4,11.5L395.4,11.5L394.4,11.5L393.4,11.5L392.4,11.5L391.4,11.5L390.4,11.5L389.4,11.5L388.4,11.5L387.4,11.5L386.4,11.5L385.4,11.5L384.4,11.5L383.5,11.5L382.5,11.5L381.5,11.5L380.5,11.5L379.5,11.5L378.5,11.5L377.5,11.5L376.5,11.5L375.5,11.5L374.5,11.5L373.5,11.5L372.5,11.5L371.5,11.5L370.5,11.5L369.6,11.5L368.6,11.5L367.6,11.5L366.6,11.5L365.6,11.5L364.6,11.5L363.6,11.5L362.6,11.5L361.6,11.5L360.6,11.5L359.6,11.5L358.6,11.5L357.6,11.5L356.7,11.5L355.7,11.5L354.7,11.5L353.7,11.5L352.7,11.5L351.7,11.5L350.7,11.5L349.7,11.5L348.7,11.5L347.7,11.5L346.7,11.5L345.7,11.5L344.7,11.5L343.7,11.5L342.8,11.5L341.8,11.5L340.8,11.5L339.8,11.5L338.8,11.5L337.8,11.5L336.8,11.5L335.8,11.5L334.8,11.5L333.8,11.5L332.8,11.5L331.8,11.5L330.8,11.5L329.8,11.5L328.9,11.5L327.9,11.5L326.9,11.5L325.9,11.5L324.9,11.5L323.9,11.5L322.9,11.5L321.9,11.5L320.9,11.5L319.9,11.5L318.9,11.5L317.9,11.5L316.9,11.5L316.0,11.5L315.0,11.5L314.8,11.9L314.7,12.3L314.5,12.8L314.3,13.3L314.1,13.9L313.8,14.6L313.6,15.3L313.3,16.1L313.0,16.9Z" fill="#bee6fc" clip-path="url(#eaclip)"/>
<path d="M336.3,78.4L335.3,77.4L334.5,76.7L333.7,76.0L332.6,76.2L331.4,76.4L331.6,74.9L331.7,73.5L330.7,72.9L331.5,71.3L331.8,70.0L332.0,68.6L331.9,67.6L331.8,66.5L331.3,64.8L332.8,63.7L333.8,63.7L334.7,63.7L336.1,63.8L337.6,63.9L339.0,64.0L340.4,64.1L341.3,64.1L342.2,64.1L342.5,63.1L342.9,62.0L343.0,60.7L343.0,59.3L342.4,58.3L341.7,57.3L340.6,56.9L339.5,56.4L338.5,56.0L338.1,55.0L339.0,54.6L339.9,54.3L341.2,54.3L342.5,54.4L342.1,52.7L343.1,53.2L344.1,53.1L345.0,53.0L346.0,52.4L346.9,51.8L346.9,50.6L347.9,50.2L348.8,49.9L350.1,48.9L351.0,47.2L352.0,46.4L353.0,46.3L354.0,46.2L355.0,46.1L356.0,46.0L356.2,44.6L356.0,42.9L355.3,41.3L355.8,40.4L357.0,39.9L358.3,39.5L359.1,39.5L359.9,39.5L359.4,38.5L358.9,37.6L357.9,36.7L357.4,37.5L356.1,38.2L354.9,38.8L354.0,38.8L353.0,38.7L351.8,37.5L351.5,36.4L351.2,35.4L351.0,34.5L350.9,33.6L351.6,32.4L352.7,31.9L353.8,31.5L354.7,31.2L355.6,30.8L356.4,30.2L357.3,29.6L358.3,29.0L359.3,28.3L359.9,27.5L360.5,26.6L361.2,25.7L361.9,24.8L363.0,24.4L364.1,24.0L365.1,23.5L366.2,23.1L367.2,22.8L368.3,22.6L369.2,22.4L370.1,22.2L371.0,21.9L371.8,21.8L372.6,21.7L373.4,21.6L374.3,21.7L375.1,21.7L375.9,21.7L377.1,22.1L378.4,22.5L379.7,23.1L380.9,23.3L382.1,23.5L383.3,23.6L384.4,23.7L385.6,23.9L386.9,24.2L388.1,24.5L389.4,24.8L390.7,25.1L392.0,25.4L392.4,26.1L392.9,26.9L392.3,27.1L391.6,27.4L390.5,27.5L389.3,27.7L388.3,27.5L387.3,27.3L386.3,27.1L385.3,26.9L384.3,26.7L383.3,26.5L382.3,26.3L383.4,27.1L384.5,28.0L385.7,29.0L386.8,29.3L388.0,29.6L389.1,30.0L390.3,30.3L391.2,30.0L392.1,29.8L393.0,29.5L393.7,28.8L394.4,28.1L395.1,27.4L395.9,26.5L395.0,25.5L394.2,24.4L394.9,24.6L395.7,24.8L396.7,25.1L397.7,25.4L398.8,25.3L399.9,25.2L401.0,25.0L402.1,24.9L403.2,24.8L404.2,24.7L405.3,24.6L406.2,24.7L407.2,24.8L408.1,24.6L409.0,24.4L409.9,24.3L410.7,24.1L411.5,23.7L412.2,23.4L412.9,23.1L414.2,23.2L415.4,23.3L416.6,23.5L417.8,23.6L418.5,22.9L419.1,22.3L419.5,21.2L419.8,20.2L419.6,19.2L420.7,19.2L421.8,19.2L423.0,19.7L424.2,20.2L424.9,21.1L425.7,22.0L426.4,23.0L427.2,24.0L428.7,24.6L428.2,23.4L427.7,22.3L427.2,21.2L428.0,20.8L428.9,20.5L429.7,20.2L430.5,19.8L431.3,19.5L432.1,19.2L433.5,19.9L435.1,20.7L435.7,20.2L436.3,19.7L436.9,19.2L437.6,18.7L437.7,17.8L438.7,17.6L439.6,17.5L440.6,17.4L441.5,17.3L442.5,17.2L443.4,17.1L444.4,17.0L445.3,16.9L446.2,16.7L447.0,16.6L447.9,16.4L448.8,16.2L449.6,16.1L450.4,16.0L451.2,15.8L451.9,15.7L452.7,15.6L453.5,15.5L454.6,15.7L455.8,15.9L457.0,16.1L458.2,16.2L459.5,16.4L460.7,16.6L462.0,16.7L463.3,16.9L464.8,17.6L466.3,18.4L467.9,19.2L468.8,19.2L469.8,19.2L470.8,19.2L471.8,19.2L472.7,19.2L473.8,19.2L474.9,19.2L476.0,19.2L477.1,19.2L478.2,19.2L479.3,19.2L480.5,19.2L481.6,19.3L483.3,19.7L485.1,20.2L486.8,20.7L488.7,21.2L490.6,21.7L491.4,21.5L492.3,21.4L493.1,21.2L494.0,21.0L494.8,20.8L495.6,20.7L496.5,20.5L497.3,20.3L498.2,20.2L499.4,20.3L500.7,20.4L501.9,20.5L503.2,20.6L504.5,20.7L505.7,20.8L507.0,20.9L508.3,21.0L509.6,21.1L510.8,21.2L512.5,21.5L514.1,21.8L515.2,21.8L516.3,21.8L517.4,21.8L518.6,21.8L519.7,21.8L521.6,22.3L523.5,22.8L525.5,23.3L526.6,23.3L527.6,23.2L528.7,23.2L529.8,23.2L530.8,23.1L531.9,23.1L532.9,23.0L533.9,22.9L534.7,22.9L535.5,22.8L536.3,22.7L537.5,22.8L538.6,22.9L539.7,22.9L540.9,23.0L542.0,23.1L543.2,23.2L544.4,23.3L545.6,23.4L546.8,23.5L548.2,23.8L549.6,24.1L551.7,25.3L553.9,26.5L556.1,27.7L558.2,29.0L557.3,29.1L556.3,29.2L555.4,29.4L557.8,30.3L560.2,31.3L562.7,32.4L561.8,32.5L560.8,32.7L559.9,32.9L559.0,33.1L558.0,33.3L557.1,33.5L557.1,34.3L557.1,35.1L557.0,36.0L555.8,36.0L554.5,36.0L553.3,36.0L552.0,36.0L551.1,36.0L550.1,36.1L549.1,36.1L550.7,37.5L552.3,39.0L553.5,40.4L554.6,41.8L555.5,41.9L556.5,42.0L556.9,43.3L557.2,44.6L557.6,45.8L558.1,47.0L557.5,47.4L557.0,47.9L557.2,49.2L557.4,50.6L555.5,49.2L553.6,47.9L551.9,46.5L550.2,45.1L548.4,43.7L547.4,42.5L546.4,41.3L545.4,40.1L545.9,39.5L546.3,39.0L545.4,37.7L544.5,36.5L543.5,35.2L541.6,33.8L540.2,33.7L538.8,33.6L537.5,33.5L537.9,34.7L538.2,35.9L538.6,37.2L537.3,37.2L536.1,37.2L534.8,37.2L533.5,37.1L532.2,37.1L530.8,37.0L529.6,37.0L528.3,37.0L527.1,37.0L525.8,37.0L524.6,37.0L524.2,37.6L523.7,38.1L523.3,38.7L523.2,39.6L523.1,40.4L523.0,41.3L522.9,42.3L522.8,43.3L522.7,44.2L524.7,45.0L526.8,45.7L528.4,46.0L530.0,46.3L531.6,46.5L533.2,47.6L534.8,48.7L535.8,50.4L536.8,52.1L537.8,53.5L538.7,54.8L539.1,56.6L539.4,58.4L539.4,60.2L539.4,62.0L538.7,63.1L538.0,64.1L537.3,65.2L536.0,64.9L534.6,64.6L534.3,65.4L533.9,66.2L534.0,67.4L534.1,68.6L533.4,69.6L532.8,70.5L533.0,71.9L535.0,73.5L536.9,75.0L538.2,76.7L539.4,78.4L540.1,80.0L539.0,80.6L538.0,81.2L537.1,81.3L536.3,81.4L535.6,79.4L534.9,78.1L534.3,76.8L533.6,75.4L532.2,74.9L530.9,74.4L530.2,72.9L529.4,71.3L527.6,70.7L526.3,70.4L525.0,70.0L523.7,69.6L523.9,71.2L524.1,72.9L523.8,71.7L523.4,70.5L521.6,69.0L521.0,70.5L520.4,72.1L519.6,72.4L518.8,72.7L520.0,73.8L521.2,74.8L522.8,76.0L523.6,75.4L524.4,74.8L526.0,75.2L527.6,75.6L526.9,76.5L526.3,77.5L525.7,78.4L525.4,79.5L525.1,80.6L526.8,82.0L528.4,83.4L530.4,85.3L532.3,87.3L532.4,88.9L534.0,90.8L534.2,92.2L534.4,93.7L534.2,95.3L534.0,96.8L533.7,98.1L533.3,99.4L532.8,100.7L532.2,102.1L531.3,103.4L530.4,104.7L529.4,105.2L528.3,105.8L527.3,106.4L526.2,107.0L524.8,107.8L523.4,108.5L522.8,109.8L522.3,111.1L521.2,109.8L520.2,108.5L519.1,108.5L518.1,108.5L517.1,109.4L516.1,110.2L515.8,112.1L515.5,113.9L516.5,115.5L517.4,117.2L519.1,118.8L520.8,120.5L521.6,122.1L522.4,123.7L523.2,125.3L523.6,126.7L524.0,128.1L523.7,129.6L523.4,131.0L522.1,131.9L520.7,132.8L520.1,134.8L519.0,135.8L517.9,136.8L517.6,135.4L517.2,134.1L516.1,133.3L514.9,132.6L514.3,131.1L513.6,129.7L511.9,128.7L510.2,127.7L509.8,125.9L508.4,126.6L508.5,127.9L508.6,129.2L508.3,131.1L507.9,133.0L509.0,135.2L510.2,137.4L510.5,138.7L510.9,139.9L512.1,140.6L513.9,142.3L514.9,143.8L515.8,145.2L516.0,147.2L516.2,149.2L516.8,151.0L517.4,152.8L516.1,153.0L514.9,151.9L513.8,150.8L512.6,149.7L511.7,147.8L510.9,145.9L510.6,143.9L510.4,142.7L510.2,141.4L508.5,139.8L506.9,138.1L506.9,136.0L506.9,133.9L506.7,132.0L506.5,130.1L506.3,128.1L505.6,125.9L504.9,123.7L504.1,121.5L503.3,119.4L502.1,119.0L500.9,118.7L499.5,119.6L498.2,120.5L498.0,118.3L497.9,116.1L496.8,114.1L495.7,112.2L494.4,111.2L493.2,110.2L492.3,108.5L491.4,106.8L490.5,107.1L489.5,107.4L488.4,107.7L487.2,107.9L485.7,108.2L484.1,108.5L484.3,110.2L483.2,111.3L482.0,112.4L481.3,113.9L480.6,115.4L479.5,117.3L478.4,119.1L477.0,120.2L475.5,121.3L475.7,123.2L475.9,125.0L476.0,126.8L475.9,128.9L475.8,131.0L475.2,133.0L474.4,134.6L473.6,136.1L472.7,137.9L471.7,137.0L470.8,136.1L470.3,134.4L469.8,132.7L469.2,131.0L468.2,129.1L467.2,127.3L466.5,125.4L465.8,123.4L465.1,121.5L464.4,119.6L463.7,117.7L463.0,115.8L462.3,113.9L461.9,112.3L461.5,110.7L461.2,109.2L460.7,108.0L460.3,106.8L460.3,108.2L460.3,109.6L458.7,109.8L457.1,110.0L456.1,108.4L455.0,106.8L456.4,105.5L455.0,104.8L453.7,104.0L452.3,102.7L450.9,101.5L449.8,100.2L448.5,100.3L447.2,100.3L445.9,100.4L444.7,100.5L443.4,100.6L442.2,100.6L440.7,100.4L439.3,100.2L437.8,100.0L436.3,99.8L435.2,99.4L434.1,98.0L433.1,96.6L431.8,97.1L430.5,97.7L429.0,96.8L427.6,96.0L426.1,95.2L425.0,94.0L423.9,92.9L423.2,91.7L422.4,90.6L421.4,90.6L420.4,90.6L419.3,91.6L420.0,93.2L420.8,94.7L421.8,96.0L422.9,97.2L423.8,98.5L424.5,100.0L425.2,101.5L426.1,101.9L426.3,100.4L425.9,98.7L425.4,99.8L426.1,101.3L426.7,102.7L428.1,102.7L429.6,102.5L431.0,102.3L432.2,100.4L432.8,99.3L433.4,98.1L433.7,99.7L434.0,101.3L435.4,102.5L436.7,103.8L438.0,104.0L439.1,105.2L440.2,106.4L439.8,108.5L439.2,110.7L438.7,112.3L438.0,113.9L437.3,115.0L436.5,116.1L435.3,117.2L434.0,118.3L432.6,119.3L431.2,120.3L429.7,121.3L428.5,121.9L427.2,122.5L426.0,123.1L424.7,123.7L423.2,124.7L421.6,125.6L420.0,126.5L418.4,127.5L417.2,127.6L416.0,127.7L415.3,125.7L414.6,123.7L414.3,121.5L414.0,119.4L412.9,117.7L411.9,116.1L410.8,114.2L409.7,112.3L408.6,110.4L407.5,108.5L406.7,106.7L405.9,105.0L405.1,103.2L403.7,101.0L402.3,98.9L400.9,96.8L399.5,94.7L399.3,93.2L399.1,91.6L399.0,91.6L398.7,93.4L398.4,95.2L397.0,93.7L396.2,92.2L395.3,90.8L396.0,92.4L396.6,94.1L397.2,95.8L397.8,97.2L398.3,98.7L399.3,100.3L400.2,101.8L401.2,103.4L402.5,105.4L403.8,107.4L404.1,109.2L404.4,110.9L404.7,112.6L405.9,114.4L407.1,116.1L407.7,117.8L408.4,119.6L409.1,121.3L410.4,123.1L411.7,124.8L413.2,126.5L414.7,128.1L415.6,130.1L416.8,131.5L417.9,132.8L419.3,132.2L420.6,131.6L421.9,131.0L423.6,130.9L425.2,130.8L426.4,130.4L427.7,130.1L428.9,129.7L428.8,131.2L428.6,132.8L428.3,134.3L428.0,135.9L427.2,138.1L426.5,140.3L425.7,142.6L425.0,144.2L424.2,145.9L423.1,147.8L422.0,149.6L421.0,151.5L419.3,153.3L417.7,155.2L416.0,157.1L414.8,158.5L413.5,160.0L412.4,161.5L411.3,163.1L410.5,165.1L410.0,166.9L409.6,168.7L409.2,170.4L409.7,171.1L409.8,172.4L409.9,173.8L410.4,175.6L410.9,177.5L411.3,179.3L411.2,181.5L411.1,183.7L411.0,185.9L410.8,188.1L411.1,189.2L409.6,191.2L408.1,193.2L406.8,194.0L405.6,194.9L404.3,195.8L402.5,197.7L400.8,199.7L400.9,201.3L401.1,202.9L401.2,204.4L401.2,206.4L401.2,208.3L399.4,209.9L397.7,211.5L396.1,212.9L396.1,215.1L396.0,217.1L394.6,219.2L392.8,221.1L391.9,222.5L391.0,224.0L389.3,225.5L387.6,227.0L386.3,227.8L385.0,228.5L383.7,229.3L382.4,229.3L381.0,229.4L379.7,229.5L378.1,230.0L376.6,230.6L375.0,231.1L373.9,230.6L372.8,230.1L372.7,229.3L372.5,227.9L372.3,226.4L371.9,224.7L371.5,223.0L371.1,221.3L370.3,219.2L369.5,217.1L368.6,215.1L368.5,213.3L368.3,211.6L368.2,209.9L368.0,208.1L367.9,206.4L367.1,204.3L366.4,202.2L365.7,200.1L365.1,198.2L364.5,196.2L363.9,194.3L364.1,192.7L364.4,191.2L364.6,189.7L365.4,187.6L366.2,185.6L367.0,183.5L366.9,181.5L366.8,179.5L366.6,177.5L366.5,175.6L366.0,173.6L365.6,171.6L365.1,169.5L364.7,168.1L364.3,166.7L363.1,164.9L362.0,163.2L360.8,161.5L360.1,159.6L359.3,157.7L359.9,155.7L360.5,153.7L360.7,151.5L361.0,149.2L360.8,147.0L359.8,146.3L358.8,145.7L357.6,145.9L356.3,146.1L354.7,146.3L353.8,144.7L353.0,143.0L352.2,141.9L351.3,141.8L350.4,141.7L349.0,142.0L347.7,142.3L346.4,142.6L344.7,143.4L343.1,144.3L341.4,145.2L341.3,145.5L339.7,144.9L338.1,144.3L336.7,144.8L335.2,145.2L333.8,145.7L332.3,146.1L330.7,144.9L329.0,143.7L327.4,142.1L325.7,140.6L324.4,138.8L323.0,137.0L322.2,134.8L321.1,133.3L320.1,131.9L318.9,130.2L317.7,128.6L317.5,127.3L317.3,125.9L316.7,124.6L316.2,123.3L317.0,121.9L317.9,120.5L318.3,118.3L318.7,116.1L318.4,114.5L318.1,112.8L317.8,111.2L317.5,109.6L318.1,107.7L318.7,105.7L319.3,103.8L320.2,102.2L321.0,100.6L321.9,98.9L323.1,97.2L324.4,95.6L324.6,94.9L326.1,94.3L327.6,93.7L328.5,92.7L329.5,91.6L329.9,89.8L329.8,88.6L329.7,87.5L330.7,85.6L331.8,83.8L333.2,83.2L334.4,82.4L335.0,80.9L335.7,79.4L335.9,78.8Z" fill="none" stroke="#4a4a4a" stroke-width="0.42"/>
<path d="M336.3,78.4L337.2,77.7L338.1,77.0L339.2,77.0L340.3,77.0L341.4,77.0L342.4,76.1L343.4,75.2L344.0,73.9L345.0,72.9L344.3,71.5L345.5,69.6L346.5,68.4L347.2,68.1L347.9,67.9L349.4,66.7L349.4,66.0L349.1,64.8L350.5,63.9L351.5,64.1L352.5,64.3L353.3,64.5L354.1,64.6L355.5,63.3L356.5,62.8L357.4,62.2L358.2,62.6L359.0,63.0L359.5,63.9L360.6,65.8L361.5,66.4L362.5,67.1L363.7,68.2L364.6,68.6L365.5,69.0L366.7,70.2L367.9,71.5L368.4,72.7L367.9,74.4L368.7,74.6L369.4,73.5L370.2,72.5L369.2,71.3L369.4,69.8L369.9,69.6L371.2,70.2L371.8,70.9L371.9,70.4L371.1,69.4L369.5,68.4L368.0,67.9L367.7,66.9L366.7,66.5L365.7,66.2L364.5,64.8L364.1,63.7L363.3,63.1L362.5,62.6L362.2,61.1L362.3,60.4L363.2,60.1L364.1,59.8L364.0,60.9L365.0,60.6L366.1,62.0L367.2,63.0L368.3,63.9L369.6,64.7L370.9,65.5L372.3,66.5L373.1,67.7L373.2,69.6L374.2,71.1L375.4,72.9L376.5,74.8L377.2,76.6L378.5,77.6L379.6,77.6L379.2,76.5L378.7,75.4L379.3,74.6L380.0,74.6L380.4,74.0L378.7,72.5L378.5,70.9L378.3,69.4L379.1,69.3L379.8,69.2L380.9,69.0L382.0,68.8L382.6,69.0L383.2,69.4L383.3,70.5L383.4,71.5L384.5,73.5L385.3,75.4L386.7,76.8L387.9,77.4L389.1,78.0L389.9,77.3L390.7,76.6L392.1,77.4L393.6,78.2L395.0,77.5L396.4,76.8L397.5,76.7L398.6,76.6L398.6,77.7L398.7,78.8L399.1,80.8L398.7,82.6L398.5,83.7L398.3,84.8L398.1,86.2L397.9,87.5L396.8,87.7L395.6,87.9L394.5,88.1L393.3,88.1L392.1,88.1L390.8,88.1L389.4,88.4L388.0,88.7L386.5,88.2L385.0,87.8L383.5,87.3L382.4,86.9L381.2,86.5L380.0,86.1L378.8,85.3L377.6,84.6L376.6,85.4L375.6,86.3L375.3,88.0L374.9,89.8L373.7,89.3L372.5,88.9L371.0,88.4L369.4,87.9L368.1,85.9L366.5,85.2L364.9,84.6L363.4,84.3L361.8,84.0L360.7,83.0L360.1,81.4L361.1,81.0L361.5,79.4L360.6,77.6L361.2,76.2L360.0,76.0L359.1,76.0L358.2,76.0L357.3,76.2L356.4,76.4L355.1,76.5L353.7,76.7L352.4,76.8L351.3,76.8L350.3,76.8L349.2,76.8L347.7,77.1L346.2,77.4L345.0,78.1L343.8,78.8L342.8,79.5L341.7,80.2L340.2,79.8L339.1,79.4L337.9,79.0L336.8,78.6L335.9,78.8Z" fill="#fff" stroke="#4a4a4a" stroke-width="0.42"/>
<path d="M385.5,67.5L387.0,68.2L388.2,68.2L389.5,68.2L390.7,68.2L392.0,67.5L393.3,66.7L394.6,66.7L395.8,66.7L396.7,67.4L397.6,68.1L398.5,68.2L399.4,68.4L400.5,68.5L401.6,68.6L402.7,68.6L403.9,68.1L405.1,67.7L405.0,66.5L404.8,65.4L403.5,64.7L402.2,64.1L400.6,63.1L398.9,62.0L397.3,60.9L396.6,60.6L395.8,60.6L395.1,60.6L396.6,61.1L395.6,61.3L394.5,61.5L393.5,61.8L392.5,62.0L390.8,60.4L392.0,59.3L390.5,58.7L389.0,58.2L387.9,58.4L387.4,59.5L386.8,60.6L386.3,61.6L385.7,62.6L384.9,64.5L385.0,65.6L385.2,66.7Z" fill="#fff" stroke="#4a4a4a" stroke-width="0.42"/>
<path d="M395.1,60.6L395.8,60.5L396.6,60.4L397.4,59.4L398.1,58.4L398.8,57.7L399.5,57.1L398.4,57.3L397.2,57.5L395.9,57.9L394.6,58.4L394.2,59.6Z" fill="#fff" stroke="#4a4a4a" stroke-width="0.42"/>
<path d="M359.9,39.5L360.6,40.4L361.3,41.3L361.6,42.9L362.5,42.9L363.4,42.9L363.9,41.8L364.9,41.8L365.8,40.5L365.8,39.4L365.8,38.2L366.6,37.6L367.4,37.0L367.8,35.7L367.0,35.3L366.2,34.9L366.1,33.8L366.0,32.6L366.7,31.7L367.5,30.8L368.4,30.6L369.3,30.3L370.2,29.0L371.2,27.9L372.2,27.9L373.2,27.9L374.0,28.4L374.9,29.0L374.0,30.0L373.2,30.6L372.3,31.1L371.4,31.7L370.9,31.5L371.0,32.6L371.2,33.8L371.6,34.6L372.1,35.4L372.5,35.4L373.6,35.5L374.8,35.6L375.9,35.7L377.1,35.5L378.3,35.4L379.5,35.2L380.5,35.5L381.5,35.8L382.5,36.1L381.6,36.3L380.8,36.5L379.9,36.7L378.9,36.8L377.8,36.8L376.8,36.8L375.8,36.9L375.0,37.0L374.3,37.2L374.5,38.2L375.2,38.5L375.8,38.4L375.8,39.5L375.7,40.5L374.7,40.0L373.6,39.5L372.4,39.9L371.9,41.3L372.2,42.6L371.6,43.3L371.0,43.9L370.2,44.3L369.4,44.7L368.5,44.4L367.7,44.1L366.8,44.5L365.8,44.9L364.7,45.2L363.5,45.5L362.7,45.0L361.8,44.6L360.6,45.0L359.3,45.4L359.2,45.5L358.2,44.7L357.9,44.1L357.8,42.9L358.1,41.8L358.2,40.5L358.3,39.5L359.1,39.5Z" fill="#fff" stroke="#4a4a4a" stroke-width="0.42"/>
<path d="M205,19.5L214,14.0L235,13.2L262,13.0L268,14.5L266,17L262,19L256,20.5L250,21L244,22L236,23.5L222,24L210,23.3L203,22.5Z" fill="#bee6fc"/>
<path d="M337.0,52.0L338.0,51.7L339.0,51.5L340.3,51.2L341.6,51.0L342.8,50.8L344.1,50.5L345.4,50.3L346.6,50.1L346.9,48.9L347.1,47.7L346.1,47.4L345.1,47.0L344.9,46.0L344.1,44.6L342.8,43.7L342.1,42.1L341.5,41.3L342.4,39.8L341.7,39.6L340.9,39.5L339.6,39.6L340.8,38.1L339.6,38.1L338.4,38.1L337.5,39.3L337.4,40.3L337.4,41.3L337.4,42.3L337.4,43.3L338.2,44.1L339.2,44.0L340.2,43.9L340.3,44.7L340.8,46.4L339.7,46.4L338.6,46.5L339.3,47.4L339.0,48.2L337.6,49.1L338.3,49.2L339.1,49.4L339.9,49.6L340.7,49.7L339.9,49.9L339.1,50.1L337.9,51.1ZM336.3,48.4L335.5,48.5L334.7,48.7L333.3,49.1L331.9,49.4L330.9,48.7L332.0,47.7L331.6,46.4L332.8,46.7L331.5,45.0L332.6,44.7L333.6,44.4L334.4,43.8L335.2,43.3L336.1,43.3L336.9,43.4L337.5,44.6L336.5,46.2L336.5,46.5L336.6,47.4L336.7,48.4ZM315.8,28.3L316.9,27.9L318.0,27.5L319.0,27.1L320.2,27.2L321.3,27.3L322.5,27.3L323.7,27.4L324.8,27.3L326.0,27.1L327.2,27.0L328.0,27.8L328.8,28.7L327.4,29.8L326.4,30.0L325.4,30.3L324.3,30.6L323.1,30.8L321.8,31.1L320.7,30.8L319.5,30.6L318.5,30.4L317.5,30.3L316.9,29.7L316.2,29.1ZM356.1,14.9L357.1,14.7L358.1,14.5L359.1,14.3L360.1,14.1L361.1,13.9L362.1,13.9L363.1,13.8L364.1,13.8L365.1,13.7L366.2,13.7L367.2,13.6L368.2,13.7L369.2,13.7L370.3,13.8L371.3,13.9L372.4,13.9L371.4,14.2L370.5,14.5L369.5,14.7L368.6,15.0L367.6,15.3L366.6,15.5L365.6,15.7L364.6,15.9L363.6,16.2L362.6,16.4L361.5,16.1L360.4,15.9L359.4,15.7L358.3,15.4L357.2,15.2ZM402.3,21.2L403.1,20.7L403.9,20.2L404.7,19.7L405.3,18.8L405.9,18.1L406.4,17.3L407.4,17.1L408.3,16.9L409.2,16.8L410.1,16.6L411.1,16.4L412.0,16.2L413.0,16.2L414.1,16.2L415.1,16.2L416.2,16.2L417.2,16.2L416.5,16.6L415.7,16.9L414.9,17.3L414.0,17.5L413.1,17.8L412.2,18.0L411.3,18.2L410.4,18.4L409.5,18.7L408.7,19.2L408.0,19.7L407.2,20.2L406.5,20.8L405.8,21.4L405.0,22.1L403.7,21.6ZM442.7,14.6L443.4,14.3L444.1,14.1L444.8,13.8L445.6,13.6L446.3,13.3L447.4,13.4L448.6,13.6L449.8,13.7L451.0,13.8L452.1,13.9L452.3,14.4L452.4,14.9L451.5,15.0L450.5,15.1L449.6,15.2L448.6,15.2L447.7,15.3L446.4,15.1L445.2,14.9L443.9,14.8ZM491.5,18.7L492.1,18.3L492.6,18.0L493.1,17.6L493.6,17.3L494.7,17.3L495.8,17.3L496.8,17.3L497.9,17.3L499.0,17.3L500.0,17.3L501.3,17.4L502.5,17.5L503.8,17.6L505.1,17.8L504.3,17.9L503.5,18.1L502.7,18.3L501.9,18.4L501.1,18.6L500.4,18.8L499.6,19.0L498.8,19.2L497.6,19.1L496.3,19.0L495.1,18.9L493.9,18.8L492.7,18.8ZM543.4,21.7L543.7,21.5L544.0,21.2L545.5,21.9L544.5,21.8ZM531.9,44.9L533.6,45.9L535.4,47.0L536.8,48.3L538.1,49.6L539.5,50.9L540.9,52.2L542.2,53.5L543.4,54.0L544.7,54.4L544.5,55.7L544.3,56.9L546.7,58.7L545.8,59.0L545.0,59.3L543.2,57.5L541.9,55.7L540.6,53.9L539.1,52.4L537.5,51.0L536.0,49.6L534.6,48.0L533.2,46.5ZM545.5,60.4L547.6,61.5L549.8,62.6L551.0,62.5L552.2,62.4L553.9,64.3L553.5,65.1L553.0,65.9L552.6,66.7L551.6,66.8L550.5,67.0L549.5,67.1L547.1,65.8L546.7,64.3L548.2,64.5L547.3,63.1L546.4,61.7ZM550.5,67.7L552.0,69.6L554.0,71.5L554.1,72.8L554.2,74.0L554.9,75.2L555.6,76.4L556.7,78.4L556.7,80.0L556.5,80.4L555.5,79.2L555.1,80.0L555.1,81.2L553.8,81.2L552.4,81.2L552.6,81.8L552.2,82.6L551.8,83.4L549.8,81.8L548.8,81.5L547.8,81.2L546.9,81.5L545.9,81.8L544.9,82.1L543.9,82.4L544.1,81.2L544.6,80.3L545.1,79.4L546.0,79.4L546.9,79.4L547.9,79.3L549.0,79.2L549.3,78.4L549.2,77.1L549.0,75.8L550.3,76.8L550.9,76.2L551.4,75.6L551.6,74.6L551.5,73.6L551.4,72.5L550.6,71.0L549.8,69.6L549.3,68.2L549.9,68.0ZM543.9,82.6L545.8,84.0L546.5,85.8L547.2,87.5L546.5,88.5L545.2,87.5L544.4,86.2L543.6,84.8L542.7,83.6L543.3,83.1ZM547.2,84.4L548.1,83.9L548.9,83.3L549.8,82.8L548.5,81.8L547.6,82.1L546.8,82.4ZM363.2,74.4L364.0,74.2L364.8,74.0L365.8,74.0L366.9,73.9L367.9,73.9L367.6,74.9L367.3,76.0L367.4,77.0L366.1,76.4L364.7,75.8L363.4,75.2ZM356.7,68.8L358.2,68.2L359.1,69.0L359.0,70.5L358.9,72.1L358.0,72.5L357.2,72.5L357.1,70.5ZM357.3,67.9L358.1,67.9L358.5,66.7L358.3,64.8L357.2,66.0ZM348.3,71.5L349.4,70.7L349.7,71.3L348.9,71.9ZM359.0,42.4L359.7,42.2L360.4,42.0L361.2,42.8L360.5,43.9L359.4,43.4ZM357.5,42.9L358.6,42.9L358.7,43.6L357.8,43.7ZM367.9,40.1L368.8,39.1L368.9,40.2L368.3,40.7ZM380.2,79.2L381.7,79.6L383.1,79.8L384.5,80.0L384.1,80.4L383.2,80.4L382.2,80.4L381.3,80.2L380.4,80.0ZM393.6,80.4L394.5,79.6L395.7,79.3L396.9,79.0L396.2,80.4L394.8,81.2L393.8,81.0ZM579.0,179.8L579.5,181.8L579.9,183.7L579.7,185.9L579.5,188.1L580.6,188.7L581.7,189.2L581.6,191.3L581.4,193.4L581.3,194.9L581.1,196.4L580.9,198.0L582.0,198.9L583.0,199.8L584.0,200.8L584.0,202.6L583.9,204.4L584.6,205.2L585.4,205.9L585.3,207.3L585.1,208.7L585.9,210.3L586.6,211.9L585.8,214.0L584.9,216.1L584.6,217.2L584.4,218.4L583.0,220.4L581.6,222.4L580.2,224.4L578.4,226.0L576.6,227.7L574.8,229.3L572.9,231.2L570.9,233.1L569.7,234.8L568.5,236.5L566.8,236.8L565.1,237.0L563.1,238.3L561.0,239.6L560.7,238.4L560.3,237.2L558.7,238.1L557.1,239.0L555.9,238.6L554.7,238.2L554.1,237.3L553.5,236.5L554.1,235.0L554.6,233.5L553.5,232.7L554.4,231.1L554.9,229.3L555.3,227.5L554.1,229.4L552.8,231.3L553.2,229.9L553.6,228.5L552.1,229.8L550.5,231.1L550.4,229.3L550.3,227.5L549.4,226.8L548.4,226.1L547.5,225.4L546.0,225.2L544.6,225.0L543.2,224.8L541.4,225.2L539.7,225.6L538.0,226.0L536.1,226.7L534.3,227.5L532.9,228.1L531.5,228.7L530.2,229.3L528.5,229.7L526.9,230.1L525.2,230.5L524.1,231.0L523.1,231.5L521.8,231.1L520.6,230.7L519.4,230.3L520.5,228.9L521.6,227.5L522.6,225.4L522.9,223.7L523.2,222.0L523.4,220.3L523.4,218.8L523.4,217.2L523.4,215.6L523.4,214.0L523.2,213.2L524.0,211.7L524.8,210.2L525.5,208.7L525.8,207.1L526.0,205.5L527.4,204.0L529.2,202.8L531.1,201.6L532.5,201.3L533.9,201.1L535.3,200.8L536.8,200.2L538.3,199.6L539.8,199.0L541.2,197.4L542.5,195.8L544.0,194.2L545.4,192.5L547.0,190.9L548.6,189.2L550.0,188.1L551.4,187.0L552.5,188.1L553.5,189.2L554.7,189.1L555.9,189.0L556.8,186.9L557.6,184.8L559.1,183.5L560.7,182.5L562.3,181.5L562.3,183.1L563.4,182.9L564.5,182.6L566.2,182.6L567.8,182.6L569.0,183.1L568.1,184.5L567.2,185.9L566.5,187.4L565.8,188.8L567.1,190.1L568.4,191.4L569.6,193.1L570.8,194.7L572.4,193.6L573.8,192.5L574.6,190.7L575.4,188.9L576.1,187.0L576.5,185.4L576.8,183.7L577.9,181.8ZM556.2,242.7L557.5,242.8L558.8,242.9L560.1,243.0L561.4,243.1L560.5,244.3L559.5,245.5L557.8,246.8L556.1,248.0L555.1,248.1L554.2,248.2L554.6,246.9L555.1,245.5L555.7,244.1ZM607.2,230.3L607.4,231.7L607.5,233.1L607.7,234.3L607.8,235.5L608.8,235.9L609.7,236.4L610.7,236.9L609.0,238.3L607.4,239.8L605.3,240.6L603.6,241.9L602.0,243.3L600.7,243.5L599.4,243.8L600.6,242.6L601.8,241.3L601.5,240.7L601.2,240.0L603.2,238.2L605.2,236.5L605.7,234.5L606.3,233.1L606.8,231.7ZM597.7,242.3L598.2,243.1L598.7,243.8L597.3,245.0L596.0,246.1L594.2,247.2L592.5,248.4L590.8,249.0L589.1,249.7L587.3,251.0L585.5,252.4L583.8,253.1L582.0,253.7L581.3,253.3L580.6,253.0L580.4,251.7L582.8,250.3L585.1,248.9L586.8,248.2L588.4,247.5L590.1,246.9L592.0,245.7L594.0,244.6L596.3,242.9ZM144.0,21.9L145.4,21.2L146.1,21.3L146.9,21.4L147.6,21.5L145.8,21.8L144.9,21.9ZM127.7,44.7L129.8,44.1L131.8,43.4L133.8,42.8L135.8,42.1L137.5,41.6L139.2,41.1L141.0,40.5L143.6,39.2L146.2,37.9L145.3,37.8L144.5,37.8L143.5,37.7L142.6,37.6L141.6,37.5L140.7,37.5L142.4,36.0L141.5,35.7L140.6,35.5L139.7,35.2L140.7,34.2L140.4,33.8L142.1,33.1L143.8,32.4L145.5,31.7L146.8,31.5L148.1,31.3L149.4,31.1L150.7,31.0L153.0,29.6L152.1,29.6L151.2,29.6L150.4,29.6L149.4,29.6L148.5,29.6L147.5,29.6L147.2,29.1L146.9,28.6L146.6,28.2L148.2,27.8L149.7,27.4L150.9,27.3L152.1,27.1L153.3,27.0L154.5,26.8L155.7,26.5L155.4,26.0L155.1,25.5L154.6,25.3L154.2,25.0L153.7,24.8L155.2,24.6L156.6,24.3L158.1,24.1L160.2,23.6L162.2,23.0L164.2,22.5L165.5,22.3L166.8,22.1L168.2,21.8L169.5,21.6L170.8,21.4L171.6,21.5L172.3,21.7L173.1,21.8L174.2,21.9L175.2,21.9L176.0,22.1L176.7,22.2L177.5,22.4L178.2,22.5L179.1,22.6L180.0,22.6L180.9,22.7L181.8,22.7L182.7,22.9L183.6,23.0L184.5,23.1L185.5,23.3L186.5,23.3L187.6,23.4L188.2,23.6L188.8,23.9L189.4,24.1L191.1,23.7L192.8,23.3L193.8,23.2L194.8,23.2L195.8,23.2L197.1,23.1L198.4,22.9L199.6,22.8L200.6,23.0L201.5,23.1L202.4,23.3L203.4,23.4L204.7,23.3L205.9,23.2L207.2,23.1L208.1,23.2L209.0,23.4L209.9,23.6L210.8,23.8L211.7,24.0L212.5,24.3L213.3,24.5L214.2,24.8L215.2,24.9L216.3,25.0L217.3,25.1L218.3,25.2L219.7,25.0L221.0,24.9L222.3,24.7L223.6,24.6L224.5,24.8L225.4,25.0L226.4,25.2L227.3,25.4L228.5,25.3L229.7,25.3L230.9,25.2L232.1,25.2L233.3,25.0L234.4,24.8L235.6,24.6L236.9,23.5L238.2,22.6L239.4,21.6L240.6,20.7L241.0,21.2L241.4,21.7L241.8,22.3L242.2,22.8L242.6,23.4L243.0,24.0L243.4,24.6L243.8,25.2L244.2,25.8L246.4,24.6L248.6,23.4L249.7,23.4L250.9,23.4L252.0,23.4L251.3,24.6L250.6,25.8L249.1,26.6L247.5,27.4L246.7,27.3L245.8,27.2L245.0,27.1L244.1,27.0L242.0,28.3L239.8,29.6L238.3,30.1L236.8,30.5L235.3,31.0L234.1,31.5L232.9,31.9L230.7,33.2L228.5,34.5L227.6,35.6L226.6,36.7L225.7,37.8L225.8,39.1L225.9,40.4L226.9,40.6L227.8,40.9L228.8,41.1L229.8,41.3L230.8,41.8L231.7,42.3L232.7,42.8L233.7,43.3L234.8,43.4L235.9,43.5L237.0,43.6L236.5,44.7L236.0,45.9L235.4,47.0L235.6,48.5L235.8,49.9L237.0,49.7L238.1,49.6L238.9,48.1L239.7,46.8L240.6,45.4L242.5,44.1L244.4,42.9L245.4,41.7L246.4,40.5L246.4,39.4L246.5,38.2L247.2,36.7L247.8,35.2L248.8,33.9L249.8,32.5L251.0,32.5L252.1,32.6L253.3,32.6L254.5,32.6L255.3,33.2L256.2,33.8L257.2,34.1L258.2,34.5L257.6,36.0L257.1,37.5L258.1,38.0L259.0,38.5L260.3,38.0L261.5,37.5L263.0,36.5L264.4,35.5L264.2,36.5L264.0,37.5L264.7,38.6L265.4,39.8L265.5,40.9L265.6,42.1L266.3,42.8L267.0,43.4L267.8,44.4L268.8,45.4L269.6,45.8L270.4,46.2L270.1,47.4L269.8,48.7L268.8,49.1L267.8,49.6L266.2,50.2L264.5,50.9L262.9,51.6L261.5,51.7L260.1,51.7L258.8,51.8L257.4,51.8L256.2,51.8L255.1,51.8L254.0,51.8L252.6,52.6L251.2,53.4L249.4,54.5L247.5,55.7L246.4,56.7L245.3,57.6L247.0,56.9L248.4,55.9L249.9,55.0L251.3,54.8L252.8,54.6L254.2,54.4L255.7,54.3L254.6,56.0L253.7,57.5L254.7,58.7L255.7,59.1L256.8,59.5L257.8,59.8L259.0,59.4L260.2,58.9L259.9,60.0L258.5,60.5L257.0,61.0L255.6,61.5L254.2,62.0L252.9,62.7L251.7,63.3L250.4,63.9L250.5,62.4L251.9,61.5L253.3,60.6L252.2,60.7L251.1,60.7L249.4,61.5L248.2,61.9L246.9,62.4L245.7,63.0L244.4,63.5L242.6,65.2L242.1,66.2L243.1,67.1L242.2,67.7L241.0,67.9L239.8,68.1L238.2,68.7L236.6,69.4L235.8,71.1L234.0,72.7L233.4,73.5L232.0,75.4L231.1,76.4L230.9,78.2L230.7,80.0L228.8,81.0L227.5,81.8L226.1,82.6L224.9,83.3L223.8,84.0L222.2,85.2L221.2,85.9L220.2,86.5L219.5,88.1L218.8,89.8L218.8,91.7L218.9,93.7L218.9,95.6L218.9,97.5L218.3,99.0L217.6,100.6L216.4,100.8L216.2,99.6L215.9,98.3L215.5,96.6L215.2,94.9L215.6,93.8L215.9,92.7L215.2,90.8L213.7,90.6L212.0,91.2L210.9,89.8L209.8,89.5L208.7,89.3L207.4,89.8L206.1,90.2L205.8,91.4L205.5,92.7L204.7,92.5L203.9,92.4L202.8,91.9L201.8,91.4L200.5,91.3L199.1,91.2L198.0,91.6L197.0,92.0L195.5,93.0L194.1,93.9L192.5,95.6L192.0,97.2L191.5,98.9L190.6,97.9L189.7,96.8L188.8,95.8L188.4,94.4L188.1,93.1L187.2,91.0L185.8,91.8L184.3,92.7L183.4,91.9L182.5,91.2L182.0,89.8L181.5,88.3L181.0,86.9L179.7,86.9L178.4,86.9L178.0,87.9L176.6,87.9L175.1,87.9L173.7,87.9L172.5,87.3L171.2,86.7L170.0,86.1L168.8,85.4L167.7,85.4L166.5,85.4L165.3,85.4L165.5,85.0L165.0,83.0L164.6,82.4L163.7,82.1L162.7,81.7L161.8,81.4L161.9,80.0L161.9,78.6L162.0,77.2L162.2,76.0L162.4,74.8L162.1,73.8L161.8,72.7L162.1,71.2L162.4,69.8L163.5,68.2L164.6,66.7L165.4,64.8L167.0,63.0L168.6,61.1L169.4,59.9L170.2,58.7L170.8,57.5L171.4,56.2L172.0,55.0L173.2,55.0L174.3,55.1L175.6,53.9L175.2,53.0L174.7,52.3L174.2,51.6L173.4,51.2L172.6,50.8L171.8,50.4L172.6,48.7L172.7,47.4L172.8,46.2L173.3,44.6L174.0,42.9L173.8,42.1L173.6,41.3L173.3,40.3L173.1,39.3L172.4,38.8L171.8,38.2L171.2,37.6L170.6,37.0L170.0,36.4L169.0,36.2L168.0,36.0L167.0,36.0L166.0,36.0L164.9,36.0L164.4,35.6L163.8,35.2L163.3,34.8L161.6,35.2L159.9,35.5L158.2,36.1L156.5,36.7L155.1,36.9L153.7,37.2L152.4,37.3L151.2,37.5L148.0,39.0L146.3,39.6L144.6,40.2L142.7,40.9L140.9,41.5L139.0,42.1L137.5,42.6L135.9,43.0L134.3,43.4L132.9,43.7L131.5,44.1L130.3,44.3L129.0,44.5ZM174.0,55.0L173.2,54.7L172.4,54.4L171.6,54.1L171.1,53.0L170.5,52.0L170.3,50.8L171.1,50.9L171.9,51.1L172.8,51.7L173.7,52.3L174.0,53.3L174.2,54.3ZM262.0,56.4L263.2,56.4L264.3,56.4L265.5,56.4L266.7,56.4L267.3,57.6L268.4,57.9L269.5,58.2L271.2,56.6L271.1,54.8L270.5,53.2L269.6,52.8L268.7,52.5L269.2,50.9L269.7,49.4L268.4,50.2L267.0,50.9L265.5,52.4L264.1,53.9L263.0,55.1ZM272.5,26.9L271.3,27.6L270.1,28.3L268.8,29.0L267.3,30.0L265.8,31.0L265.8,32.4L264.6,32.7L263.4,33.1L262.3,32.7L261.3,32.4L260.5,32.1L259.6,31.9L258.7,31.7L258.3,31.0L257.8,30.3L256.7,30.2L255.6,30.0L254.5,29.9L253.4,29.8L252.3,29.6L253.8,29.3L255.2,29.0L256.6,28.6L258.0,28.3L258.6,27.0L259.3,25.8L258.4,25.4L257.6,25.0L256.7,24.6L256.1,24.0L255.4,23.4L254.8,22.8L253.6,22.8L252.5,22.8L251.4,22.8L250.3,22.8L249.1,22.8L248.3,22.6L247.4,22.3L246.5,22.0L245.7,21.7L246.9,20.8L248.1,20.0L249.3,19.2L250.4,19.1L251.5,19.1L252.6,19.1L253.7,19.1L254.8,19.0L255.9,19.0L257.0,19.0L258.1,19.0L259.0,19.3L259.8,19.6L260.6,19.9L261.5,20.2L262.3,20.5L263.1,20.8L264.0,21.1L264.9,21.4L265.7,21.7L266.6,22.1L267.4,22.5L268.2,22.8L268.6,24.0L268.9,25.2L269.8,25.6L270.6,26.1L271.5,26.5L272.0,26.7ZM248.0,30.6L246.5,31.3L244.9,32.0L243.4,32.8L242.6,32.1L241.9,31.5L241.2,30.8L241.9,29.6L242.7,28.3L243.8,28.1L245.0,27.9L246.1,27.7L246.6,28.3L247.1,29.0L247.6,29.6ZM231.1,23.4L229.9,23.6L228.7,23.7L227.5,23.9L226.3,24.0L225.1,24.2L224.0,24.2L222.8,24.2L221.7,24.2L220.6,24.2L219.4,24.2L218.4,24.1L217.4,24.0L216.3,23.9L215.3,23.8L214.3,23.7L213.8,23.3L213.4,22.8L213.0,22.4L212.6,21.9L214.3,21.4L216.0,20.8L217.7,20.2L219.4,19.7L220.5,19.7L221.5,19.7L222.6,19.7L223.7,19.7L224.8,19.7L225.9,19.7L227.0,19.7L228.1,19.7L229.2,19.7L230.3,19.7L231.0,20.0L231.7,20.3L232.4,20.7L232.0,21.5L231.5,22.5ZM211.3,21.2L210.4,21.1L209.5,21.0L208.7,20.9L207.8,20.9L206.9,20.8L207.8,20.0L208.6,19.2L209.9,18.9L211.2,18.6L212.5,18.3L213.4,18.4L214.4,18.5L215.3,18.6L216.2,18.8L217.1,18.9L217.6,19.4L218.0,19.9L216.1,20.5L214.1,21.2L213.2,21.2L212.2,21.2ZM282.2,12.8L281.2,12.7L280.3,12.7L279.3,12.6L278.4,12.5L277.4,12.5L276.5,12.4L275.5,12.3L274.6,12.3L273.6,12.3L272.6,12.3L271.6,12.3L270.6,12.3L269.6,12.3L268.6,12.3L267.6,12.3L266.6,12.3L265.6,12.3L264.6,12.3L263.5,12.3L262.4,12.4L261.3,12.5L260.3,12.6L259.2,12.6L258.1,12.7L257.0,12.8L255.9,12.9L254.8,13.0L253.7,13.1L252.5,13.1L251.4,13.2L250.3,13.3L249.2,13.4L248.0,13.5L246.9,13.6L247.7,13.8L248.5,14.0L249.2,14.3L250.0,14.5L250.8,14.7L251.6,14.9L252.3,15.2L253.1,15.5L253.8,15.8L254.5,16.1L255.5,16.2L256.4,16.3L257.4,16.4L258.3,16.5L259.3,16.6L260.2,16.7L261.8,16.2L263.3,15.7L264.5,15.5L265.7,15.3L266.9,15.1L268.1,14.9L269.5,14.6L270.8,14.3L271.9,14.1L273.0,14.0L274.2,13.9L275.3,13.8L276.4,13.7L277.5,13.6L278.7,13.4L279.9,13.2L281.0,13.0ZM258.8,18.2L257.7,18.2L256.7,18.2L255.6,18.2L254.5,18.2L253.5,18.2L252.4,18.2L251.3,18.2L250.2,18.2L249.5,18.0L248.7,17.9L247.9,17.7L247.1,17.5L246.4,17.3L247.6,17.0L248.9,16.6L250.1,16.3L251.1,16.3L252.2,16.3L253.2,16.3L254.2,16.4L255.3,16.4L256.3,16.4L257.4,16.4L258.4,16.4L259.2,16.7L259.9,17.0L260.7,17.3ZM246.9,13.6L246.1,13.5L245.2,13.3L244.4,13.2L243.5,13.1L242.3,13.2L241.0,13.4L239.8,13.6L238.5,13.8L237.2,14.0L235.9,14.3L234.7,14.4L233.5,14.5L232.4,14.6L231.2,14.7L230.0,14.8L228.8,14.9L227.6,15.1L226.4,15.2L225.2,15.3L224.0,15.4L222.7,15.6L221.5,15.7L220.2,15.9L218.9,16.1L217.5,16.3L216.2,16.5L217.1,16.6L217.9,16.7L218.8,16.9L219.6,17.0L220.5,17.2L221.4,17.3L222.4,17.3L223.5,17.3L224.6,17.3L225.6,17.3L226.7,17.3L227.7,17.3L228.8,17.3L229.9,17.3L230.9,17.3L232.0,17.3L233.1,17.3L234.0,17.4L235.0,17.5L235.9,17.6L236.9,17.7L237.9,17.8L239.7,17.1L241.5,16.5L242.8,16.2L244.2,15.9L245.5,15.7L246.0,14.9L246.5,14.3ZM237.9,17.8L236.9,17.7L235.9,17.6L235.0,17.5L234.0,17.4L233.1,17.3L231.9,17.4L230.8,17.4L229.7,17.5L228.6,17.5L227.4,17.6L226.3,17.6L225.2,17.7L224.0,17.7L222.9,17.8L222.2,17.5L221.6,17.2L220.9,16.9L222.0,16.8L223.1,16.8L224.3,16.7L225.4,16.7L226.5,16.6L227.6,16.6L228.7,16.6L229.8,16.6L230.8,16.6L231.9,16.5L233.0,16.5L234.1,16.5L235.2,16.5L236.2,16.5L237.2,16.5L238.3,16.5L239.3,16.5L240.3,16.6L239.1,17.1ZM246.1,20.2L244.9,20.3L243.7,20.4L242.5,20.5L241.3,20.6L240.1,20.7L239.3,20.4L238.5,20.1L237.7,19.9L237.0,19.5L236.3,19.2L237.5,19.0L238.8,18.8L240.1,18.7L241.3,18.5L242.4,18.5L243.4,18.6L244.4,18.6L245.5,18.6L246.5,18.7L246.3,19.4ZM289.7,36.3L291.1,35.8L292.8,34.4L294.6,33.1L295.7,31.7L296.8,30.3L298.4,29.2L299.9,28.2L301.2,27.9L302.5,27.6L303.8,27.3L305.0,27.0L306.4,26.3L307.8,25.6L309.2,24.9L310.4,24.8L311.5,24.7L312.7,24.7L313.9,24.6L315.2,24.0L316.5,23.4L317.7,22.8L318.7,22.6L319.6,22.3L320.1,21.2L320.6,20.2L321.4,19.2L322.2,18.2L323.2,17.5L324.1,16.9L324.8,16.3L325.4,15.7L325.3,15.1L325.2,14.6L325.8,14.1L326.4,13.6L327.5,13.3L328.6,12.9L329.5,12.9L330.4,12.9L331.2,12.8L332.1,12.8L331.2,12.8L330.3,12.7L329.3,12.7L328.4,12.7L327.4,12.6L326.5,12.6L325.6,12.6L324.6,12.5L323.6,12.5L322.6,12.4L321.7,12.4L320.7,12.3L319.7,12.3L318.7,12.2L317.7,12.2L316.7,12.2L315.7,12.1L314.7,12.1L313.7,12.1L312.8,12.1L311.8,12.1L310.8,12.1L309.7,12.1L308.7,12.1L307.7,12.1L306.7,12.1L305.7,12.2L304.7,12.2L303.7,12.2L302.7,12.2L301.6,12.3L300.6,12.3L299.6,12.4L298.6,12.4L297.5,12.4L296.5,12.5L295.5,12.5L294.5,12.5L293.4,12.6L292.4,12.6L291.4,12.6L290.4,12.7L289.3,12.7L288.3,12.7L287.3,12.8L286.2,12.8L285.2,12.9L284.1,12.9L283.1,13.0L282.0,13.1L280.8,13.2L279.7,13.4L278.5,13.6L277.5,13.8L276.5,14.0L275.4,14.3L274.4,14.4L273.4,14.5L272.3,14.6L271.3,14.7L270.2,14.8L269.2,14.9L269.6,15.7L270.4,15.9L271.2,16.2L272.1,16.5L272.9,16.7L273.9,16.7L275.0,16.8L276.0,16.8L277.0,16.8L278.1,16.9L279.1,16.9L280.1,17.0L281.1,17.1L282.1,17.2L283.1,17.3L283.7,18.0L284.3,18.7L284.4,19.4L284.5,20.2L284.6,20.9L284.6,21.7L285.6,21.9L286.7,22.1L287.7,22.3L286.2,22.8L284.8,23.4L285.7,23.8L286.6,24.2L285.5,24.5L284.4,24.8L283.3,25.2L282.8,26.1L282.3,27.0L282.5,28.3L282.7,29.6L283.3,31.0L283.9,32.4L284.3,33.4L284.8,34.5L285.7,34.7L286.6,35.0L287.6,35.2L288.6,35.7ZM231.7,17.6L230.4,17.7L229.2,17.9L228.0,18.0L226.7,18.1L225.6,18.1L224.6,18.1L223.5,18.1L222.4,18.1L221.7,18.0L220.9,17.9L220.2,17.7L219.4,17.6L220.9,17.1L222.3,16.6L223.4,16.6L224.5,16.6L225.6,16.5L226.7,16.5L227.8,16.5L228.6,16.6L229.5,16.6L230.3,16.7L231.2,16.8L232.0,16.9ZM223.6,16.5L222.4,16.6L221.2,16.7L220.0,16.8L218.8,16.9L217.9,16.8L217.1,16.8L216.3,16.7L215.4,16.6L216.8,16.2L218.2,15.8L219.3,15.8L220.4,15.8L221.5,15.7L222.6,15.7L223.1,16.1ZM241.5,17.4L240.5,17.4L239.4,17.3L238.4,17.3L237.4,17.2L238.4,16.4L239.5,16.3L240.7,16.3L241.8,16.2L242.1,16.9ZM245.0,18.1L244.1,18.1L243.2,18.0L242.3,18.0L241.4,17.9L242.6,17.3L243.5,17.3L244.3,17.4L245.2,17.4ZM238.6,21.1L237.4,21.1L236.3,21.2L235.1,21.2L234.4,20.9L233.8,20.7L233.1,20.4L232.4,20.2L234.0,19.5L235.5,18.9L236.7,18.8L237.8,18.7L239.0,18.7L239.5,19.2L240.1,19.7L239.3,20.4ZM235.9,24.2L234.9,24.3L233.8,24.4L232.7,24.6L232.4,24.1L232.0,23.6L233.2,23.3L234.4,22.9L235.4,23.1L236.4,23.2ZM256.2,14.5L255.0,14.6L253.9,14.7L252.7,14.9L251.5,15.0L250.5,15.0L249.5,14.9L248.6,14.8L247.6,14.8L246.6,14.7L246.1,14.3L245.5,13.9L246.9,13.7L248.2,13.4L249.5,13.2L250.5,13.2L251.5,13.2L252.5,13.2L253.5,13.2L254.5,13.2L255.3,13.4L256.1,13.6L257.0,13.7L256.6,14.1ZM241.5,15.6L240.4,15.6L239.4,15.5L238.4,15.5L237.4,15.5L236.4,15.5L236.3,14.7L237.4,14.7L238.5,14.6L239.7,14.5L240.8,14.5L241.4,14.6L242.0,14.8L242.7,15.0ZM261.7,19.9L260.7,19.8L259.6,19.8L258.6,19.7L257.5,19.7L257.1,18.9L258.2,18.8L259.3,18.8L260.4,18.8L261.6,18.8L261.6,19.3ZM245.9,32.6L244.9,32.7L243.8,32.7L242.8,32.8L244.1,31.8L245.2,31.8L246.3,31.8ZM212.6,21.9L211.8,21.8L211.0,21.7L210.2,21.5L209.4,21.4L207.7,21.8L206.0,22.3L206.9,22.5L207.7,22.7L208.6,22.9L209.5,23.1L211.0,22.5ZM131.2,27.3L133.5,26.2L136,25.6L138.5,25.0L141,25.2L143.2,26.0L145.3,27.2L144,28.2L141.5,29.3L139,29.6L136.5,28.9L134,28.3Z" fill="#bee6fc" stroke="#4a4a4a" stroke-width="0.42"/>
<path d="M537.6,100.8L537.6,102.3L537.7,103.8L537.6,105.3L537.8,106.5L538.0,107.7L537.1,106.5L536.2,105.3L535.7,103.2L536.3,101.0ZM520.0,113.5L520.9,112.6L521.8,111.8L523.6,112.6L522.8,114.1L521.9,115.7ZM476.8,134.1L477.8,135.8L478.8,137.5L479.8,139.2L479.2,140.9L478.7,142.6L477.0,142.3L476.7,140.2L476.4,138.1L476.6,136.1ZM539.7,115.0L541.0,115.0L542.3,115.0L542.6,117.2L543.0,119.4L542.8,121.5L543.4,123.2L544.1,124.8L545.9,125.9L547.8,127.0L545.9,125.9L544.2,125.6L542.5,125.3L541.6,123.7L540.8,122.1L540.0,120.5L539.9,118.6L539.8,116.8ZM546.2,140.3L547.8,139.0L549.3,137.7L550.3,135.9L551.3,134.1L552.1,136.2L552.9,138.3L553.7,140.3L553.0,141.7L552.3,143.0L551.0,142.2L549.7,141.4L547.9,140.9ZM544.9,129.7L546.4,128.9L548.0,128.1L549.5,129.8L550.9,131.5L550.4,133.7L549.3,134.2L548.1,134.8L546.3,133.7L545.6,131.7ZM538.0,137.2L538.8,135.5L539.6,133.8L540.3,132.1L541.1,130.3L541.7,131.5L540.8,133.5L539.8,135.6L538.7,137.7ZM502.3,143.4L503.6,143.7L504.8,144.0L506.0,144.3L507.5,146.3L509.0,148.3L510.4,150.4L511.9,151.5L513.4,152.6L514.8,153.7L516.3,154.8L517.1,157.1L517.9,159.3L519.1,161.0L520.3,162.6L520.1,164.7L519.9,166.8L519.7,168.9L518.6,169.0L517.5,169.1L516.4,167.7L515.3,166.3L514.1,164.9L513.1,162.6L512.1,160.4L511.0,158.2L510.1,156.2L509.2,154.2L508.3,152.1L506.9,150.0L505.4,147.8L503.9,145.6ZM518.5,171.1L519.9,170.2L521.3,169.3L522.7,169.9L524.0,170.4L525.6,170.9L527.1,171.3L528.4,171.3L529.6,171.3L530.9,171.3L532.3,172.2L533.7,173.1L533.3,175.3L532.0,175.1L530.6,174.8L529.2,174.5L527.8,174.2L526.2,173.9L524.6,173.6L523.0,173.3L521.4,172.4L519.8,171.6ZM525.4,152.6L526.4,151.5L527.5,151.8L528.7,152.1L530.3,150.5L531.9,148.8L533.5,146.8L535.0,144.8L536.4,142.6L537.7,140.3L539.3,142.1L540.7,143.3L542.1,144.6L541.1,145.5L540.1,146.3L540.0,148.1L540.0,149.8L539.9,151.5L541.0,152.6L542.0,153.7L540.7,154.8L539.5,155.9L538.7,157.6L537.8,159.3L537.8,161.5L537.7,163.8L536.0,164.3L534.3,164.9L533.1,164.0L531.9,163.1L530.7,162.9L529.4,162.6L528.4,162.4L527.3,162.2L527.2,160.2L527.1,158.2L525.4,155.9L525.4,154.3ZM543.6,154.8L545.3,154.4L546.9,153.9L548.5,153.5L550.1,153.0L551.7,152.6L550.2,153.7L548.6,154.8L547.0,154.7L545.3,154.6L544.9,156.4L544.5,158.2L546.0,158.2L547.4,158.2L548.9,158.2L547.5,159.3L546.1,160.4L546.6,162.3L547.0,164.1L547.5,166.0L546.2,166.5L544.9,167.1L544.0,168.4L542.4,168.4L542.4,166.9L542.5,165.3L542.5,163.8L541.6,162.0L542.2,160.0L542.8,157.9L543.3,155.9ZM561.9,158.2L563.1,157.5L564.4,156.8L565.6,157.4L566.8,157.9L567.6,159.7L568.4,161.5L569.2,163.3L570.9,161.3L572.6,159.3L573.9,159.9L575.2,160.5L576.5,161.1L577.8,161.7L579.2,162.4L580.5,163.1L581.9,163.8L583.2,164.4L584.5,166.3L585.9,168.2L587.2,169.3L588.5,170.4L588.7,172.1L588.9,173.8L590.1,175.5L591.2,177.2L592.3,178.9L591.1,178.9L589.8,178.9L588.5,178.0L587.1,177.1L586.0,175.4L584.8,173.8L583.0,174.9L581.2,176.0L579.6,176.7L578.3,176.4L577.1,176.2L575.6,175.1L574.0,174.0L572.3,174.7L572.4,172.9L572.5,171.2L572.5,169.5L572.5,167.8L571.4,167.2L570.2,166.6L569.0,166.0L567.7,165.6L566.3,165.2L564.9,164.9L564.2,163.5L563.4,162.2L562.7,160.2ZM590.0,168.4L591.4,168.3L592.8,168.2L594.2,166.9L595.5,165.5L596.7,165.5L596.0,166.9L595.3,168.2L594.0,169.0L592.7,169.8L591.5,169.5L590.2,169.3ZM594.1,161.7L595.3,162.5L596.5,163.3L597.4,164.8L598.3,166.2L597.6,166.7L596.6,165.4L595.6,164.2L594.9,163.0ZM425.6,182.6L426.0,184.6L426.3,186.5L426.7,188.4L427.0,190.3L426.0,192.5L425.0,194.7L424.2,196.9L423.5,199.0L422.7,201.2L422.0,203.4L421.2,205.5L420.5,207.6L419.7,209.8L418.5,210.5L417.2,211.3L416.0,212.1L415.2,211.3L414.4,210.4L414.3,208.4L414.2,206.4L414.0,204.4L415.0,202.3L416.0,200.1L416.1,198.3L416.1,196.5L416.1,194.7L417.5,193.5L419.0,192.2L420.4,191.0L421.4,189.3L422.3,187.6L423.3,185.9L424.4,184.3ZM165.3,85.4L166.5,85.4L167.7,85.4L168.8,85.4L170.0,86.1L171.2,86.7L172.5,87.3L173.7,87.9L175.1,87.9L176.6,87.9L178.0,87.9L178.4,86.9L179.7,86.9L181.0,86.9L181.5,88.3L182.0,89.8L182.5,91.2L183.4,91.9L184.3,92.7L185.8,91.8L187.2,91.0L188.1,93.1L188.4,94.4L188.8,95.8L189.7,96.8L190.6,97.9L191.5,98.9L190.6,101.0L189.9,102.6L189.2,104.2L188.8,105.5L188.5,106.8L188.5,108.2L188.6,109.6L188.9,111.2L189.2,112.8L189.7,113.5L190.5,114.1L191.2,114.8L191.9,115.7L193.6,115.2L195.3,114.8L196.9,114.8L197.9,113.5L199.0,112.2L199.4,110.9L199.8,109.6L201.3,109.0L202.9,108.7L204.5,108.5L205.6,109.0L204.9,110.1L204.1,111.3L203.5,113.2L202.8,115.0L201.8,117.2L201.3,118.6L200.8,120.0L202.3,120.9L203.6,120.7L204.8,120.5L206.2,120.7L207.5,120.9L208.3,121.8L209.1,122.6L208.5,124.8L208.0,127.0L207.6,129.2L207.2,131.5L208.2,133.7L209.3,135.9L210.7,135.7L212.1,135.4L213.8,134.6L215.0,135.2L216.2,135.9L217.3,136.8L218.6,137.0L220.2,134.8L220.6,132.8L221.8,131.5L222.9,131.1L224.0,130.8L225.2,130.0L226.3,129.2L227.1,128.4L228.2,130.1L227.1,131.5L228.3,130.7L229.5,129.9L229.9,129.0L231.4,130.6L232.9,132.6L234.2,132.4L235.4,132.3L237.0,132.8L238.6,133.2L239.9,132.7L241.2,132.1L242.8,132.3L243.5,134.1L244.2,135.9L244.5,137.0L245.5,137.5L246.6,138.1L247.7,139.4L248.9,140.8L250.5,141.7L252.2,142.6L253.8,142.8L255.4,143.2L257.1,143.7L258.2,145.0L259.5,146.6L259.9,147.9L260.3,149.2L261.1,150.6L261.9,151.9L261.9,153.9L261.9,155.9L263.5,156.4L264.4,158.2L265.6,157.8L266.8,157.5L268.5,158.4L270.2,159.3L271.3,161.5L272.6,161.7L273.9,162.0L275.2,162.2L276.8,162.2L278.5,162.2L279.7,163.2L281.0,164.2L282.2,165.4L283.5,166.7L284.8,167.1L286.0,167.5L286.6,169.8L287.3,172.0L287.1,173.4L287.0,174.9L286.4,176.1L285.8,177.3L284.9,178.9L283.9,180.4L282.8,182.6L281.7,184.8L281.4,186.8L281.1,188.8L281.1,190.8L281.2,192.7L281.2,194.7L280.9,196.9L280.6,199.0L279.9,200.8L279.5,202.6L279.2,204.4L277.8,206.6L276.8,206.5L275.8,206.4L274.9,206.8L273.9,207.2L272.5,208.0L271.2,208.7L270.0,210.1L268.8,211.5L268.5,212.7L268.3,214.0L268.6,216.1L268.9,218.2L268.2,219.0L267.4,219.9L266.7,221.6L266.0,223.4L265.4,224.5L264.8,225.6L264.0,227.2L263.3,228.9L262.5,230.1L261.7,231.3L260.7,231.3L259.7,231.3L258.4,230.9L257.1,230.5L256.2,230.7L258.0,232.5L259.6,234.3L259.4,235.9L259.2,237.4L258.3,238.1L257.4,238.8L255.9,238.9L254.5,239.1L253.0,239.2L253.3,240.8L253.5,242.3L252.2,242.5L251.0,242.7L249.7,242.9L251.0,244.0L252.2,245.2L252.9,246.3L252.1,247.1L251.4,248.0L251.5,249.4L251.7,250.8L250.6,251.7L249.5,252.6L251.1,254.0L252.7,255.3L252.2,256.7L251.7,258.0L251.6,259.3L251.5,260.6L251.5,261.5L251.6,262.5L253.1,263.8L253.8,264.8L254.5,265.7L256.0,266.3L257.6,267.0L259.1,267.7L258.4,267.9L257.6,268.1L256.9,268.5L256.1,268.9L255.1,268.9L254.0,268.8L252.4,268.1L250.7,267.3L248.7,266.1L246.7,264.8L245.1,263.6L243.5,262.3L242.4,260.6L241.3,258.9L240.3,257.1L239.5,255.6L238.8,254.1L239.8,253.8L240.8,253.5L240.2,252.0L239.7,250.5L239.2,248.9L238.3,247.0L237.4,245.2L237.1,243.3L236.8,241.3L236.0,239.4L235.3,237.4L234.7,235.5L235.0,234.0L235.4,232.5L235.3,230.5L235.3,228.5L235.0,226.8L234.7,225.1L234.4,223.4L234.3,222.2L234.1,221.1L234.0,219.1L233.9,217.1L233.9,215.1L233.5,213.3L233.2,211.5L232.9,209.7L232.6,207.9L232.4,206.0L232.2,204.2L232.0,202.4L231.8,200.6L231.4,198.7L231.1,196.9L230.1,195.8L229.0,194.7L228.0,193.7L227.0,192.7L225.2,191.5L223.4,190.3L222.0,188.7L220.6,187.0L219.5,185.0L218.5,182.9L217.5,180.9L216.5,179.0L215.5,177.1L214.5,174.9L213.5,172.7L212.2,171.0L210.8,169.3L210.5,167.9L210.2,166.4L211.0,165.1L211.8,163.8L212.0,162.3L212.2,160.9L211.4,159.5L210.6,158.2L211.4,156.2L212.1,154.2L213.8,152.6L214.3,150.4L215.4,148.9L216.4,147.5L216.6,145.6L216.9,143.7L216.8,142.0L216.7,140.3L215.7,138.1L214.7,137.1L213.7,136.1L212.0,137.7L210.2,138.8L209.0,138.1L207.8,137.4L206.6,135.7L205.3,133.9L204.6,132.7L203.9,131.5L203.0,129.8L202.2,128.1L201.4,126.4L200.3,126.2L199.2,125.9L198.0,125.5L196.8,125.1L195.5,124.4L194.2,123.7L193.4,122.3L192.6,120.9L191.6,120.5L190.6,120.0L189.1,120.6L187.6,121.1L186.5,120.6L185.4,120.0L184.0,119.4L182.5,118.7L181.4,117.8L180.3,117.0L178.8,116.2L177.3,115.4L176.2,114.1L175.2,112.8L175.2,110.7L176.0,108.5L175.6,106.7L175.2,104.9L174.5,103.0L173.8,101.0L173.1,99.5L172.4,97.9L171.8,96.4L171.2,94.9L170.6,93.8L170.0,92.7L169.9,90.8L169.9,88.9L169.1,87.9L168.2,86.9L167.7,88.7L167.2,90.6L167.8,92.1L168.4,93.7L168.6,95.3L168.8,96.8L169.1,98.4L169.4,100.0L169.5,101.4L169.6,102.7L170.4,104.9L169.3,105.5L168.6,103.8L167.9,102.1L167.5,100.0L166.9,98.6L166.3,97.2L165.6,96.0L164.9,94.7L166.3,93.1L165.8,91.3L165.3,89.5L165.4,88.2L165.5,86.9ZM208.9,107.7L210.7,106.5L212.4,105.3L213.6,105.2L214.9,105.1L216.0,105.3L217.2,105.5L218.3,106.3L219.5,107.1L220.7,107.9L222.1,108.7L223.6,109.6L224.5,110.5L225.4,111.3L224.3,111.6L223.2,112.0L221.6,112.0L220.0,112.0L219.9,110.2L218.7,109.3L217.4,108.3L215.9,107.7L214.5,107.0L213.1,107.3L211.7,107.6L210.3,107.9ZM224.3,115.2L225.9,113.6L227.5,112.0L229.0,112.1L230.5,112.3L232.0,112.4L233.2,113.6L234.4,114.8L232.9,115.2L231.5,115.7L230.2,116.3L228.9,117.0L227.7,116.5L226.6,116.1L225.5,115.9L224.4,115.7ZM218.0,115.2L219.1,115.5L220.3,115.8L221.4,116.1L220.0,116.5L219.0,116.1L218.1,115.7ZM236.1,115.0L237.4,115.2L238.6,115.4L238.2,116.1L237.1,116.1L236.0,116.1ZM243.0,131.9L244.6,131.9L244.4,133.4L242.9,133.4ZM261.8,262.0L262.9,261.9L264.0,261.9L265.1,261.8L266.2,261.8L267.0,262.8L266.3,263.3L265.6,263.7L264.2,263.4L262.7,263.2ZM608.6,200.6L609.6,202.1L610.6,203.6L611.6,205.1L610.6,205.5L609.9,204.4L609.2,203.4L608.4,202.3ZM534.6,174.0L535.5,174.7L534.6,175.6ZM536.2,174.4L537.2,174.4L536.7,175.8ZM537.7,174.2L539.4,174.3L541.0,174.4L540.1,175.6L538.7,175.8L537.4,176.0ZM542.3,174.9L543.6,174.7L545.0,174.6L546.3,174.4L547.6,174.2L547.2,175.3L545.6,175.5L544.0,175.6L542.3,175.8ZM547.9,178.9L549.3,177.4L550.7,176.0L552.0,175.6L553.4,175.1L554.7,174.7L553.3,175.6L551.9,176.4L550.6,177.3L549.2,178.1ZM540.7,177.3L542.1,177.7L543.6,178.0L542.4,178.9L541.6,178.1ZM556.0,151.9L557.7,153.7L556.9,155.9L556.1,157.5L556.0,155.6L555.9,153.7ZM553.4,163.1L554.4,163.1L555.4,163.1L554.7,164.6L553.4,164.2ZM556.8,163.1L558.3,162.9L559.9,162.8L561.4,162.6L560.0,164.2L558.6,164.0L557.2,163.8ZM601.8,169.3L602.5,170.9L601.1,171.3ZM603.2,172.0L604.4,172.4L605.5,172.9L604.5,174.2ZM607.0,174.4L608.1,175.4L609.1,176.4L608.1,177.5L606.6,176.7ZM609.6,174.4L610.5,176.4L609.9,177.1L609.7,175.8ZM610.1,178.7L611.5,179.8L610.3,180.0ZM632.0,195.1L633.0,195.2L634.0,195.4L633.2,196.2L631.9,196.2ZM634.9,192.1L636.1,192.0L637.3,191.9L636.2,193.2L635.0,193.0ZM616.4,189.2L617.2,189.9L616.5,191.2L616.0,190.6ZM616.7,191.4L617.5,192.1L616.8,192.7ZM617.2,194.7L617.9,194.9L617.2,195.6ZM617.9,197.1L618.3,197.7L617.4,198.4ZM93.9,111.3L94.9,112.8L93.1,113.9L93.3,112.4ZM93.3,109.6L94.2,110.0L93.4,110.5ZM91.2,108.3L91.9,109.0L91.3,109.0ZM89.3,107.0L90.1,107.0L89.5,107.7Z" fill="#fdbbbc" stroke="#4a4a4a" stroke-width="0.42"/>
<path d="M412.0,60.2L411.3,62.0L412.2,63.4L413.2,64.8L414.2,66.0L415.2,67.1L416.2,68.3L417.2,69.6L418.5,69.8L417.8,71.1L417.2,72.5L417.3,73.7L418.6,75.4L419.8,76.1L421.1,76.8L422.5,76.7L424.0,76.7L425.4,76.6L425.1,75.4L424.1,74.0L423.1,72.5L422.6,70.5L421.7,68.6L421.6,66.7L420.6,65.8L419.6,65.1L418.5,64.5L418.0,63.2L417.5,62.0L416.4,61.9L417.1,61.2L417.7,60.6L418.5,59.5L419.2,58.4L418.3,57.8L417.3,57.3L416.1,57.6L414.8,58.0L413.6,58.4L412.8,59.3Z" fill="none" stroke="#4a4a4a" stroke-width="0.42"/>
<path d="M127.1,45.0L125.2,45.5L123.3,46.0L121.4,46.5L119.6,46.9L117.7,47.4L116.3,47.6L114.8,47.9L113.4,48.2L112.0,48.4L110.7,48.5L109.4,48.7L107.9,48.8L106.5,48.9L105.0,49.1L103.6,49.1L102.3,49.1M587.2,49.1L585.9,49.1L584.5,49.1L583.0,48.9L581.4,48.7L579.8,48.5L578.1,48.2L576.4,47.6L574.7,47.0" fill="none" stroke="#6f7f8a" stroke-width="0.9" stroke-linecap="round"/>
<path d="M175.2,53.9L176.6,53.9L177.9,53.9L179.3,53.9L180.7,53.9L182.0,53.9L183.4,53.9L184.8,53.9L186.2,53.9L187.5,53.9L188.9,53.9L190.3,53.9L191.6,53.9L193.0,53.9L194.4,53.9L195.7,53.9L197.1,53.9L198.5,53.9L199.8,53.9L201.2,53.9L202.6,53.9L203.9,53.9L205.3,53.9L206.7,53.9L208.0,53.9L209.4,53.9L210.8,53.9L212.2,53.9L213.5,53.9L214.0,54.4L215.1,54.5L216.1,54.6L217.2,54.9L218.2,55.1L219.2,55.4L220.3,55.7L221.5,55.4L222.8,55.1L223.6,55.9L224.4,56.7L225.2,57.6L226.0,58.4L226.9,59.5L227.8,60.6L227.2,62.0L226.6,63.4L226.0,64.8L224.4,66.7L225.9,66.4L227.5,66.2L229.2,65.5L230.9,64.8L232.3,64.5L233.6,64.1L235.0,63.7L236.6,62.4L238.2,61.1L239.4,61.1L240.7,61.1L241.9,61.1L243.2,61.1L245.2,59.6L246.6,58.2L248.0,56.7L248.9,56.8L249.8,56.9L249.3,58.4L248.9,59.8L249.4,61.5M185.5,23.3L183.9,24.4L182.3,25.5L180.7,26.6L179.0,27.8L177.4,29.0L175.8,30.3L174.1,31.5L172.5,32.8L170.8,34.2L169.2,35.5L170.2,35.7L171.2,36.0L171.2,36.7L171.3,37.5L173.3,36.9L175.2,36.3L175.4,37.2L175.6,38.2L175.2,39.8L174.9,41.3L175.4,41.8L175.9,42.3L174.5,43.7M194.2,123.7L194.9,121.5L195.9,120.5L197.5,120.5L197.8,118.5L198.2,116.5L199.2,116.5L200.3,116.5L202.0,115.2M200.3,116.5L199.9,118.6L199.6,120.7L201.2,121.1M197.4,125.5L198.9,124.0L200.1,124.8L201.1,126.2M201.8,127.3L203.0,126.0L204.2,124.8L206.0,123.7L207.5,123.2L209.1,122.6M204.0,131.2L205.3,131.3L206.7,131.5L207.2,131.7M208.0,137.9L208.3,136.3L208.7,134.8M216.1,139.9L216.7,138.3L217.3,136.8M227.2,130.1L225.6,131.5L225.6,133.7L225.6,135.9L225.6,138.1L227.0,139.2L228.3,140.3L229.8,140.9L231.2,141.5L232.7,142.1L233.0,144.0L233.3,145.9L233.0,147.8L232.7,149.6L232.4,151.5L233.7,153.3L232.3,153.4L230.9,153.6L229.5,153.7L229.4,155.6L229.3,157.6L229.2,159.5L229.1,161.4L229.1,163.4L229.0,165.3L228.6,163.7L228.3,162.0L227.9,160.4L226.2,159.7L224.6,158.9L222.9,158.2L221.3,157.2L219.6,156.2L218.3,155.6L217.1,155.0L215.6,153.9L214.1,152.8M219.6,156.2L219.9,158.2L218.5,160.0L217.0,161.9L215.6,163.8L214.3,163.7L213.0,163.6L211.7,163.5M229.0,165.3L227.6,165.9L226.2,166.5L224.8,167.1L224.3,169.0L223.9,170.8L223.4,172.7L224.4,174.9L225.4,177.1L227.1,178.8L228.9,180.4L230.5,180.4L231.2,182.6L231.8,184.8L231.7,186.7L231.6,188.5L231.5,190.3L231.8,192.5L232.1,194.7L230.9,196.4M230.5,180.4L231.9,179.9L233.2,179.4L234.6,178.8L235.9,178.3L237.3,177.8L238.7,180.0L240.1,182.2L241.6,184.4L243.0,185.1L244.4,185.7L245.8,186.4L246.1,188.3L246.4,190.2L246.7,192.1L248.3,192.1L250.0,192.1L250.2,194.0L250.5,195.9L250.7,197.8L251.0,199.7L249.8,200.5L248.6,201.3L247.4,202.2L246.2,203.0L245.0,203.8L244.7,204.9L243.4,204.8L242.1,204.7L240.8,204.6L239.3,205.4L237.9,206.1L236.8,204.8L235.8,203.4L235.1,201.6L234.4,199.8L233.7,198.0L232.9,196.3L232.1,194.7M237.9,206.1L237.4,207.7L236.9,209.3L236.5,210.8L236.8,212.9L237.1,215.1L237.4,217.1L236.8,219.2L236.2,221.3L236.7,223.4L237.2,225.4L237.8,227.5L238.0,229.5L238.4,231.5L238.7,233.5L238.9,235.2L239.1,236.9L239.4,238.7L239.7,240.4L240.0,242.0L240.3,243.6L240.6,245.2L241.4,247.0L242.2,248.9L243.0,250.8L243.6,252.6L244.1,254.4L244.7,256.2L244.7,258.0L244.7,259.7L245.9,261.0L247.1,262.3L248.3,262.5L249.5,262.7L250.7,263.0L252.0,263.2L253.0,264.2L253.6,265.5L254.2,266.8L254.9,268.1M244.7,204.9L246.2,206.0L247.8,207.1L249.3,208.3L251.2,210.1L253.1,211.9L254.5,213.2L256.0,214.6L257.4,215.9L257.9,214.0L258.5,212.1L257.9,210.4L257.4,208.7L256.5,206.9L255.6,205.1L253.9,204.9L252.3,204.6L251.9,203.0L251.4,201.3L251.0,199.7M258.5,212.1L259.3,214.1L260.1,216.1L259.0,217.1L258.0,218.2L256.7,220.0L255.5,221.7L255.6,223.6L255.7,225.6L255.8,227.5L255.9,229.5M255.5,221.7L256.7,222.2L257.9,222.7L259.0,223.2L260.9,224.8L262.8,226.4L263.1,227.7L263.4,228.9M233.7,153.3L235.3,154.2L237.0,152.8L238.7,151.5L239.1,149.5L239.6,147.5L240.8,147.2L242.1,147.0L243.1,145.7L244.2,144.3L244.6,142.5L245.0,140.7L245.4,138.8L245.8,137.0M244.2,144.3L244.6,146.2L245.2,148.1L245.7,149.9L247.2,150.8L248.7,151.7L250.3,152.6L251.1,151.5L252.3,151.3L253.5,151.0L254.8,150.8L256.3,150.8L257.7,150.8L258.5,148.7L259.3,146.6M250.5,142.6L250.4,144.8L250.4,147.0L250.3,149.2L250.3,151.5M255.4,143.0L255.3,144.9L255.1,146.9L254.9,148.9L254.8,150.8M342.2,80.2L342.1,81.9L342.0,83.7L342.0,85.4L340.5,87.0L339.0,88.5L337.5,89.5L335.9,90.4L334.3,91.4L332.8,92.3L331.2,93.3L331.1,95.4L329.7,95.4L328.3,95.4L326.9,95.4L325.5,95.4L324.1,95.4M331.1,96.2L331.1,97.6L331.0,98.9L329.7,98.9L328.4,98.9L327.1,98.9L325.8,98.9L325.8,100.7L325.7,102.5L325.6,104.2L325.1,105.8L324.5,107.4L323.9,109.0L322.3,109.0L320.7,109.0L319.1,109.0L317.5,109.0M331.1,96.2L332.6,97.4L334.1,98.6L335.6,99.8L337.1,101.0L338.7,102.5L340.3,103.9L341.9,105.3L343.5,106.7L345.1,108.2L346.7,109.6L348.3,110.9L349.9,112.2L351.5,113.5L352.8,113.3L354.1,113.1L355.5,111.8L356.9,110.5L358.3,109.3L359.7,108.0L361.1,106.7L362.5,105.5L363.8,104.2M359.5,90.2L359.7,92.1L360.0,94.1L360.3,96.1L360.5,98.1L360.8,100.1L361.1,102.1L362.5,103.2L363.8,104.2M357.6,76.6L357.5,78.1L357.3,79.7L357.2,81.2L357.6,83.0L358.1,84.8L358.5,86.5L359.0,88.4L359.5,90.2M362.3,84.0L361.5,85.8L360.6,87.5L360.0,88.8L359.5,90.2M383.2,87.3L383.4,89.3L383.6,91.2L383.7,93.2L383.9,95.2L384.0,97.2L384.2,99.3L384.3,101.3L384.5,103.3L384.6,105.4L384.7,107.4L384.3,109.2L383.9,111.0L383.4,112.8L381.8,112.0L380.1,111.2L378.5,110.3L376.8,109.5L375.2,108.6L373.5,107.8L371.9,107.0L370.3,106.1L368.7,105.3L367.1,106.2L365.5,105.2L363.8,104.2M384.7,107.4L386.3,107.4L387.9,107.4L389.5,107.4L391.1,107.4L392.7,107.4L394.2,107.4L395.8,107.4L397.4,107.4L399.0,107.4L400.6,107.4L402.2,107.4L403.8,107.4M324.8,123.5L326.2,121.5L327.8,121.5L329.4,121.5L331.0,121.5L332.6,121.5L334.2,121.5L335.8,121.5L335.8,119.6L335.6,117.6L335.5,115.7L335.3,113.7L335.2,111.8L335.0,109.8L334.9,107.9L334.7,105.9L334.6,104.0L334.4,102.1L335.8,101.6L337.1,101.0M351.5,113.5L351.2,115.5L350.8,117.6L350.5,119.7L350.1,121.8L348.9,122.1L347.6,122.4L346.4,122.6L345.1,122.9L343.9,123.0L342.7,123.2L341.5,123.3L340.2,124.9L338.8,126.5L337.5,128.1L336.6,130.3L335.7,132.6L334.3,132.9L332.9,133.3L331.6,133.7L331.3,135.5L331.0,137.4L330.7,139.2L331.1,140.9L331.5,142.7L331.9,144.4L332.3,146.1M368.7,105.3L369.0,107.4L369.3,109.6L369.7,111.8L369.3,113.9L368.8,116.1L368.4,118.3L367.9,120.5L367.4,122.6L367.0,124.8L367.0,125.7L365.5,125.9L364.0,126.0L362.6,126.2L361.1,126.4L359.5,126.6L357.8,126.8L356.2,127.0L354.8,127.8L353.4,128.5L352.0,129.2L350.6,129.9L350.2,131.9L349.7,133.9L349.2,135.9L349.2,137.8L349.2,139.7L349.2,141.7M383.4,112.8L382.9,115.0L382.4,117.2L381.9,119.4L381.4,121.5L381.1,123.7L380.8,125.8L380.5,127.9L381.4,129.7L382.4,131.5L381.7,131.9L380.1,132.9L378.5,134.0L376.9,135.0L375.2,136.1L373.6,137.1L372.0,138.2L370.3,139.2L370.0,137.2L369.6,135.2L369.3,133.2L368.9,131.2L368.5,129.2L367.8,127.0M383.4,133.7L384.9,133.9L386.3,134.2L387.8,134.5L389.2,134.8L390.8,134.4L392.5,134.0L394.1,133.7L395.7,132.2L397.3,130.7L398.9,129.2L399.5,131.1L400.1,132.9L400.7,134.8M404.3,124.2L403.8,126.0L403.3,127.8L402.8,129.6L402.2,131.5L401.9,133.3L401.5,135.1L401.1,137.0L400.2,137.8L399.2,138.5L400.4,140.3L401.7,142.1L402.9,143.9L404.2,145.7L405.4,146.3L406.7,146.9L408.0,147.5L409.3,148.1L410.9,147.8L412.5,147.5L414.1,147.2L415.4,146.6L416.7,146.0L417.9,145.4L419.2,144.8L420.8,142.6L422.4,140.3L423.9,138.1L422.3,137.5L420.7,136.9L419.1,136.2L417.5,135.6L415.9,135.0M358.8,145.7L359.6,143.9L360.4,142.1L361.3,140.3L362.9,138.7L364.5,137.0L365.5,135.1L366.5,133.1L367.5,131.2L368.5,129.2M365.1,167.1L366.5,166.9L367.9,166.7L369.2,166.0L370.4,165.3L370.8,163.7L371.2,162.0L371.6,160.4L372.8,158.2L374.1,155.9L374.4,154.0L374.7,152.0L375.1,150.1L375.4,148.1L376.8,147.7L378.3,147.3L379.7,147.0L381.2,146.6L382.8,146.0L384.5,145.4L386.1,144.8L387.4,144.7L388.7,144.6L390.1,144.6L391.5,145.5L392.9,146.3L394.3,147.2L395.7,148.1L395.4,150.3L395.0,152.5L394.6,154.7L394.2,156.9L393.8,159.1L393.5,160.9L393.1,162.6L393.5,164.9L393.9,167.1L394.3,169.3L394.6,171.0L394.8,172.7L395.0,174.4L393.7,174.7L392.4,174.9L391.8,176.7L391.1,178.5L390.5,180.4L389.9,182.2L388.5,181.9L387.0,181.6L385.6,181.3L384.2,181.0L382.8,180.7L381.4,180.4L381.2,178.4L381.1,176.3L380.9,174.3L380.7,172.2L379.3,172.6L378.0,172.9L376.6,173.3L375.2,173.6L373.8,174.0L373.0,172.4L372.3,170.7L371.5,169.1M363.7,194.3L365.2,194.4L366.7,194.6L368.2,194.7L369.7,194.8L371.2,195.0L372.7,195.1L374.1,195.3L375.6,195.4L377.1,195.6L378.5,195.5L379.8,195.4L381.1,195.2L382.5,195.1L384.0,195.2L385.6,195.4M380.8,184.8L382.4,184.8L384.0,184.8L384.1,182.6L384.2,180.4M370.5,218.4L371.9,218.3L373.2,218.2L374.6,218.1L376.0,218.0L376.1,216.1L376.2,214.2L376.3,212.3L376.4,210.4L376.5,208.4L376.6,206.4L376.7,204.4L378.3,204.4L378.4,202.4L378.5,200.4L378.6,198.4L378.7,196.4M376.4,210.4L378.0,210.8L379.5,211.2L381.1,211.6L382.7,211.9L384.2,212.3L385.4,210.8L386.5,209.2L387.7,207.6L389.1,206.7L390.4,205.8L391.7,204.9L393.2,205.1L394.7,205.3L395.0,206.8L395.2,208.3L395.5,209.8L395.8,211.5L396.1,213.2L396.4,214.8M385.6,195.4L387.0,195.5L388.5,195.6L389.9,194.3L391.3,193.1L392.8,191.8L394.2,190.6L395.6,191.4L396.9,192.2L398.2,193.0L398.1,194.6L398.1,196.3L398.0,198.0L397.2,199.8L396.4,201.6L395.6,203.5L394.7,205.3M395.0,174.4L396.3,175.3L397.6,176.1L398.9,176.9L398.9,178.8L398.9,180.7L398.9,182.6L397.6,184.6L396.4,186.6L395.2,188.6L393.9,190.6M400.9,158.2L402.4,159.6L403.9,161.0L405.4,162.4L406.8,163.8L408.2,165.1L409.6,166.4M411.3,179.3L409.9,180.1L408.5,180.8L407.1,181.5L405.9,181.5L404.6,181.5L403.3,181.5L402.0,181.5M401.0,146.6L401.6,148.6L402.2,150.6L402.7,152.6L401.8,154.2L400.9,155.7M412.7,159.5L412.7,157.5L412.7,155.6L412.7,153.6L412.7,151.7L412.7,149.7L413.4,148.5L414.1,147.2M317.9,120.5L319.3,120.0L320.6,119.6L322.0,119.1L322.9,120.6L323.9,122.1L324.8,123.5M339.6,144.6L339.8,142.4L340.0,140.2L340.1,138.0L340.3,135.9L340.2,133.8L340.1,131.7L341.7,131.6L343.2,131.5L344.7,131.5L345.0,133.7L345.3,135.9L345.6,138.1L346.1,140.2L346.7,142.3M325.9,140.6L326.7,139.0L327.4,137.4L325.9,136.9L324.5,136.4L323.0,135.9M320.2,127.9L321.8,128.1L323.4,128.2L325.1,128.4L326.1,128.4M465.6,53.5L467.0,54.4L468.5,55.2L470.0,56.0L471.2,57.4L472.4,58.8L473.6,60.2L474.9,60.6L476.3,60.9L477.7,61.3L479.7,62.7L481.7,64.0L483.8,65.4L485.2,65.5L486.5,65.5L487.9,65.6L489.3,65.7L490.7,65.8L492.4,66.2L494.1,66.6L495.8,67.1L497.4,67.5L498.7,67.1L499.9,66.7L501.2,66.3L502.4,66.0L503.6,65.6L504.3,64.6L505.0,63.5L505.8,62.8L506.5,62.0L507.3,61.3L508.0,60.6L508.7,59.8L509.7,59.3L510.8,58.8L511.8,58.3L512.8,57.8L510.9,56.9L508.9,56.0L507.7,54.5L506.5,53.0M468.9,90.6L470.7,91.4L472.4,92.1L474.1,92.9L475.8,93.7L477.2,93.9L478.6,94.2L480.0,94.4L481.4,94.7L482.8,94.9L483.2,96.5L483.6,98.1L482.2,97.8L480.8,97.6L479.4,97.3L478.1,97.1L476.7,96.8L474.9,95.9L473.1,94.9L471.4,94.0L469.6,93.1L469.3,91.8L468.9,90.6M462.4,79.4L463.5,81.4L464.7,83.4L465.8,85.4L467.3,87.0L468.7,88.6L470.2,90.2M483.9,95.8L485.1,95.6L486.3,95.5L487.6,95.3L488.8,95.2L490.1,94.3L491.4,93.5L492.7,92.7L494.1,93.2L495.4,93.8L496.8,94.3L496.2,96.0L495.6,97.7L495.0,99.4L494.3,101.0L494.2,103.2L494.1,105.3L494.0,107.4L492.9,109.6M485.5,107.4L485.4,105.3L485.3,103.2L485.2,101.0L485.1,98.9L486.8,99.6L488.6,100.2L490.3,100.8L491.1,102.5L492.0,104.2L492.3,106.0L492.6,107.8L492.9,109.6M453.2,103.8L454.3,102.9L455.3,102.0L456.3,101.0L456.2,99.1L456.1,97.1L455.9,95.2L456.9,93.3L458.0,91.5L459.0,89.8L458.9,88.1L458.9,86.5L458.9,84.8L459.3,83.1L459.7,81.4L460.9,80.4L462.1,79.4M439.4,91.0L440.8,91.0L442.2,90.9L443.6,90.9L445.1,90.9L446.5,90.8L447.9,90.8L448.4,89.6L448.9,88.5L450.1,87.6L451.2,86.7L451.7,84.7L452.0,82.8L451.9,81.1L451.8,79.4L452.9,78.6L454.0,77.9L455.1,77.2L456.2,76.4M442.2,100.6L443.2,98.9L444.2,97.2L442.6,95.2L441.0,93.1L439.4,91.0L439.0,89.2L438.7,87.5L437.9,85.4L437.2,83.4L436.5,81.4L436.5,80.0L436.5,78.6L436.5,77.2M419.2,90.6L418.7,89.0L418.2,87.5L416.8,85.4L415.4,84.0L414.0,82.6L413.6,80.7L413.3,78.8L412.1,77.3L410.9,75.8L410.8,74.2L410.8,72.7L410.7,71.1M408.0,76.2L407.4,77.3L406.9,78.4L406.9,80.0L407.0,81.6L406.2,83.0L405.4,84.4L404.6,85.9L406.2,86.7L407.9,87.5L409.5,88.3L411.1,89.6L412.7,90.9L414.3,92.2L415.7,92.3L417.1,92.4L418.2,92.0L419.3,91.6M398.9,78.4L400.3,77.6L401.6,76.8L403.1,76.6L404.6,76.4L405.7,76.3L406.8,76.3L408.0,76.2L409.4,76.0L410.9,75.8M399.2,91.8L400.6,90.7L402.0,89.5L403.2,87.5L404.6,85.9M414.3,119.6L415.6,118.5L416.9,117.4L418.3,117.7L419.6,118.0L421.0,118.3L422.6,117.4L424.1,116.5L425.6,115.7L427.2,114.8L428.7,113.9L430.1,113.4L431.5,112.8L432.9,112.3L434.2,111.8L433.7,109.8L433.1,107.9L432.5,105.9L430.9,105.7L429.3,105.5L427.6,105.3M399.7,83.8L400.9,83.7L402.2,83.5L403.4,83.4L404.6,82.8L405.8,82.2L407.0,81.6M507.0,109.0L505.1,107.0L503.2,105.1L501.2,103.2L500.4,101.4L499.5,99.6L498.6,97.8L497.7,96.1L496.8,94.3M505.7,110.9L506.6,113.0L507.5,115.1L508.4,117.2L509.6,116.6L510.7,116.1L512.4,116.6L514.1,117.2L515.1,119.4L516.0,121.5L516.9,123.7L515.6,123.8L514.3,123.9L512.9,124.0L513.1,125.9L513.4,127.8L513.6,129.7M505.1,120.5L505.7,122.6L506.3,124.8L506.8,127.0L507.2,128.9L507.5,130.7L507.9,132.6M505.7,110.9L506.3,109.9L507.0,109.0M508.0,106.6L509.4,108.3L510.8,110.0L512.1,111.8L513.8,113.9L515.5,116.1L517.2,118.3L518.8,120.5L519.5,122.1L520.2,123.7L520.0,125.9L519.8,128.1L519.6,130.3L518.1,131.6L516.6,132.8M518.1,108.5L516.5,107.4L514.8,106.4L513.4,106.2L512.0,105.9L510.7,105.7L509.3,106.2L508.0,106.6L507.5,107.8L507.0,109.0M510.2,141.4L511.4,142.2L512.6,143.0L513.5,142.1M527.6,70.7L527.9,69.2L528.1,67.7L529.2,67.2L530.4,66.7L531.4,66.3L532.3,66.0L533.9,66.2M532.7,75.0L533.4,74.4L534.0,73.9L535.0,73.3M526.4,151.5L527.7,151.8L529.0,152.2L530.4,152.6L531.7,152.6L533.1,152.6L534.5,152.6L535.3,150.4L536.0,148.1L537.2,147.6L538.3,147.1L539.4,146.6M578.3,161.7L578.2,163.8L578.1,165.9L578.0,168.0L577.8,170.0L577.6,172.1L577.3,174.2L577.1,176.2M424.3,61.1L425.4,60.8L426.5,60.5L427.5,60.2L429.1,61.1L430.6,62.0L432.2,63.0L433.8,63.9L435.2,64.0L436.7,64.1L438.2,64.3L440.1,65.7L442.1,67.2L444.0,68.6L445.0,68.0L446.0,67.4L447.0,66.7L448.0,65.6L449.1,65.2L450.1,64.8L451.2,64.5L452.7,64.6L454.2,64.7L455.7,64.8L457.0,65.3L458.3,65.7L459.6,66.1L461.0,66.5M421.5,66.9L422.7,67.2L423.9,67.5L425.1,67.8L426.3,68.1L427.5,66.9L428.6,65.8L430.2,66.2L431.8,66.7L433.1,67.7L434.5,68.6L436.1,69.9L437.7,71.2L439.3,72.5L440.9,73.5L442.4,74.4L443.9,75.4M445.7,71.5L447.0,71.0L448.3,70.5L449.6,70.1L450.9,69.6L453.1,71.5M445.5,75.8L445.4,74.1L445.3,72.5L446.4,72.2L447.5,71.8L448.6,71.5L450.1,71.5L451.6,71.5L453.1,71.5L454.4,72.5L455.8,73.5" fill="none" stroke="#4a4a4a" stroke-width="0.42"/>
<path d="M312.7,17.8L312.4,18.7L312.0,19.7L311.7,20.7L311.3,21.7L311.0,22.8L310.6,24.0L310.3,25.2L309.9,26.4L309.5,27.7L309.2,29.0L308.8,30.3L308.4,31.7L308.0,33.1L307.7,34.5L307.3,36.0L306.9,37.5L306.5,39.0L306.2,40.5L305.8,42.1L305.4,43.7L305.1,45.4L304.7,47.0L304.4,48.7L304.1,50.4L303.7,52.1L303.4,53.9L303.1,55.7L302.7,57.5L302.4,59.3L302.1,61.1L301.8,63.0L301.5,64.8L301.2,66.7L300.9,68.6L300.7,70.5L300.4,72.5L300.1,74.4L299.9,76.4L299.6,78.4L299.4,80.4L299.1,82.4L298.9,84.4L298.7,86.5L298.4,88.5L298.2,90.6L299.8,90.1L301.3,89.6L302.9,89.1L304.5,88.6L306.0,88.1L307.6,87.6L309.1,87.1L310.6,86.6L312.2,86.2L313.7,85.7L315.2,85.2L316.8,84.7L318.3,84.2L319.8,83.7L321.3,83.2L322.8,82.8L324.4,82.3L325.9,81.8L327.4,81.3L328.9,80.8L330.4,80.4L331.9,79.9L333.3,79.4L334.8,78.9L336.3,78.5L337.7,78.2L339.0,77.9L340.4,77.7L341.7,77.4L343.2,77.0L344.7,76.6L346.2,76.2L347.7,75.8L349.2,75.4L350.7,75.3L352.2,75.1L353.7,74.9L355.2,74.8L356.6,74.6L358.1,74.4L359.4,74.7L360.6,75.0L361.9,75.2L363.0,76.6L364.4,78.0L365.9,79.4L367.4,79.7L368.9,80.1L370.5,80.4L372.0,80.7L373.5,81.1L375.1,81.4L376.5,81.1L377.8,80.8L379.2,80.5L380.6,80.2L382.0,80.0L383.3,79.7L384.7,79.4L384.5,77.7L384.2,76.0L384.0,74.3L383.7,72.7L383.5,71.0L383.2,69.4L382.9,68.3L382.5,67.3L383.8,67.0L385.1,66.7L386.1,66.7L387.4,66.5L388.7,66.3L390.0,66.1L391.3,65.9L392.6,65.6L393.9,65.4L395.2,65.2L396.6,65.6L398.0,65.9L399.5,66.3L400.9,66.6L402.3,67.0L403.7,67.3L405.1,67.7L406.6,67.7L408.2,68.4L408.9,70.4L409.8,70.7L410.7,71.1L411.1,71.9L412.3,72.3L413.5,72.7L414.6,72.4L415.6,72.1L416.3,73.3L417.3,73.7L418.6,75.4L419.8,76.1L421.1,76.8L422.5,76.7L424.0,76.7L425.4,76.6L425.4,75.8L426.3,75.1L427.3,74.4L428.3,74.2L429.4,74.0L430.6,74.5L431.9,75.0L433.3,76.0L434.6,77.0L435.6,77.1L436.5,77.2L437.5,79.2L439.1,79.8L440.0,79.0L441.0,78.2L441.8,77.0L442.5,75.8L443.7,75.8L444.8,75.8L446.0,76.0L447.1,76.2L448.1,75.7L449.1,75.2L450.4,76.0L451.8,76.8L453.2,76.4L454.3,76.3L455.5,76.1L456.6,76.0L456.2,74.7L455.8,73.5L453.9,71.7L454.6,70.7L455.4,69.8L456.3,69.2L457.1,68.6L458.1,68.1L459.0,67.7L460.0,67.1L461.0,66.5L460.4,64.8L459.8,63.0L459.1,61.1L460.3,60.7L461.5,60.2L461.1,58.8L460.6,57.5L461.7,57.5L462.7,57.5L463.7,57.5L463.7,56.1L463.7,54.8L464.4,54.3L465.0,53.7L465.6,53.5L466.2,52.8L466.7,52.0L467.3,51.3L468.4,51.2L469.4,51.1L470.5,50.9L471.9,51.4L473.3,51.9L474.7,52.3L476.0,52.1L477.2,51.9L478.4,51.6L477.8,50.2L477.2,48.7L478.4,49.0L479.6,49.2L481.1,49.6L482.7,49.9L484.7,50.8L486.6,51.6L488.0,51.6L489.3,51.6L491.2,52.4L493.1,53.2L494.6,53.4L496.1,53.5L497.2,53.1L498.3,52.7L499.3,52.2L500.4,51.8L501.7,52.0L503.0,52.3L504.3,52.5L505.4,52.8L506.5,53.0L507.0,52.1L507.5,51.3L506.8,49.6L506.1,47.9L505.6,46.5L506.6,46.4L507.7,46.3L508.7,46.2L510.1,46.6L511.6,47.0L513.0,47.4L515.0,48.9L517.1,50.5L519.1,52.1L520.7,52.7L522.3,53.3L523.9,53.9L525.8,55.0L527.7,56.0L528.6,55.8L529.6,55.6L530.5,55.4L531.4,55.1L531.8,56.2L532.2,57.3L532.7,58.7L533.3,60.2L532.3,60.7L531.3,61.3L532.4,63.1L533.6,65.0L533.9,66.2L534.7,66.7L536.7,68.6L538.7,70.5L539.3,72.5L539.9,74.4L540.5,76.4L541.0,78.4L541.0,80.4L540.9,82.4L541.4,84.4L541.9,86.5L542.3,88.5L543.7,90.6L545.1,92.7L546.5,94.7L547.9,96.8L549.2,98.9L550.5,101.0L552.5,102.1L554.4,103.2L556.4,104.2L558.4,105.3L560.3,106.4L562.3,107.4L564.2,108.5L566.2,109.6L568.1,110.7L570.1,111.8L571.7,111.8L573.3,111.8L574.9,111.8L576.5,111.8L578.1,111.8L579.7,111.8L581.4,111.8L583.0,111.8L584.6,111.8L586.2,111.8L587.8,111.8L589.4,111.8L591.0,111.8L592.6,111.8L594.2,111.8L595.8,111.8L597.5,111.8L599.1,111.8L600.7,111.8L602.3,111.8L603.9,111.8L605.5,111.8L607.1,111.8L608.7,111.8L610.3,111.8L611.9,111.8L613.5,111.8L615.2,111.8L616.8,111.8L618.4,111.8L620.0,111.8L621.6,111.8L623.2,111.8L624.8,111.8L626.4,111.8L628.0,111.8L629.6,111.8L631.3,111.8L632.9,111.8L634.5,111.8L633.6,109.6L632.7,107.4L631.7,105.3L630.7,103.2L629.7,101.0L628.6,98.9L627.4,96.8L626.3,94.7L625.1,92.7L623.8,90.6L622.5,88.5L621.2,86.5L619.8,84.4L618.4,82.4L617.0,80.4L615.5,78.4L614.0,76.4L612.4,74.4L610.8,72.5L609.2,70.5L607.5,68.6L605.8,66.7L604.1,64.8L602.3,63.0L600.5,61.1L598.6,59.3L596.7,57.5L594.8,55.7L592.8,53.9L590.9,52.1L588.8,50.4L586.8,48.7L584.7,47.0L582.6,45.4L580.5,43.7L578.3,42.1L576.2,40.5L574.0,39.0L571.7,37.5L569.5,36.0L567.3,34.5L565.0,33.1L562.8,31.7L560.5,30.3L558.3,29.0L556.0,27.7L553.8,26.4L551.6,25.2L549.4,24.0L547.2,22.8L545.1,21.7L543.0,20.7L541.0,19.7L539.0,18.7L537.1,17.8L535.3,16.9L533.5,16.1L531.9,15.3L530.3,14.6L528.9,13.9L527.5,13.3L526.3,12.8L525.2,12.3L524.2,11.9L523.4,11.5L522.4,11.5L521.4,11.5L520.4,11.5L519.4,11.5L518.5,11.5L517.5,11.5L516.5,11.5L515.5,11.5L514.5,11.5L513.5,11.5L512.5,11.5L511.5,11.5L510.5,11.5L509.5,11.5L508.5,11.5L507.5,11.5L506.5,11.5L505.6,11.5L504.6,11.5L503.6,11.5L502.6,11.5L501.6,11.5L500.6,11.5L499.6,11.5L498.6,11.5L497.6,11.5L496.6,11.5L495.6,11.5L494.6,11.5L493.6,11.5L492.6,11.5L491.7,11.5L490.7,11.5L489.7,11.5L488.7,11.5L487.7,11.5L486.7,11.5L485.7,11.5L484.7,11.5L483.7,11.5L482.7,11.5L481.7,11.5L480.7,11.5L479.7,11.5L478.8,11.5L477.8,11.5L476.8,11.5L475.8,11.5L474.8,11.5L473.8,11.5L472.8,11.5L471.8,11.5L470.8,11.5L469.8,11.5L468.8,11.5L467.8,11.5L466.8,11.5L465.8,11.5L464.9,11.5L463.9,11.5L462.9,11.5L461.9,11.5L460.9,11.5L459.9,11.5L458.9,11.5L457.9,11.5L456.9,11.5L455.9,11.5L454.9,11.5L453.9,11.5L452.9,11.5L451.9,11.5L451.0,11.5L450.0,11.5L449.0,11.5L448.0,11.5L447.0,11.5L446.0,11.5L445.0,11.5L444.0,11.5L443.0,11.5L442.0,11.5L441.0,11.5L440.0,11.5L439.0,11.5L438.1,11.5L437.1,11.5L436.1,11.5L435.1,11.5L434.1,11.5L433.1,11.5L432.1,11.5L431.1,11.5L430.1,11.5L429.1,11.5L428.1,11.5L427.1,11.5L426.1,11.5L425.1,11.5L424.2,11.5L423.2,11.5L422.2,11.5L421.2,11.5L420.2,11.5L419.2,11.5L418.2,11.5L417.2,11.5L416.2,11.5L415.2,11.5L414.2,11.5L413.2,11.5L412.2,11.5L411.2,11.5L410.3,11.5L409.3,11.5L408.3,11.5L407.3,11.5L406.3,11.5L405.3,11.5L404.3,11.5L403.3,11.5L402.3,11.5L401.3,11.5L400.3,11.5L399.3,11.5L398.3,11.5L397.4,11.5L396.4,11.5L395.4,11.5L394.4,11.5L393.4,11.5L392.4,11.5L391.4,11.5L390.4,11.5L389.4,11.5L388.4,11.5L387.4,11.5L386.4,11.5L385.4,11.5L384.4,11.5L383.5,11.5L382.5,11.5L381.5,11.5L380.5,11.5L379.5,11.5L378.5,11.5L377.5,11.5L376.5,11.5L375.5,11.5L374.5,11.5L373.5,11.5L372.5,11.5L371.5,11.5L370.5,11.5L369.6,11.5L368.6,11.5L367.6,11.5L366.6,11.5L365.6,11.5L364.6,11.5L363.6,11.5L362.6,11.5L361.6,11.5L360.6,11.5L359.6,11.5L358.6,11.5L357.6,11.5L356.7,11.5L355.7,11.5L354.7,11.5L353.7,11.5L352.7,11.5L351.7,11.5L350.7,11.5L349.7,11.5L348.7,11.5L347.7,11.5L346.7,11.5L345.7,11.5L344.7,11.5L343.7,11.5L342.8,11.5L341.8,11.5L340.8,11.5L339.8,11.5L338.8,11.5L337.8,11.5L336.8,11.5L335.8,11.5L334.8,11.5L333.8,11.5L332.8,11.5L331.8,11.5L330.8,11.5L329.8,11.5L328.9,11.5L327.9,11.5L326.9,11.5L325.9,11.5L324.9,11.5L323.9,11.5L322.9,11.5L321.9,11.5L320.9,11.5L319.9,11.5L318.9,11.5L317.9,11.5L316.9,11.5L316.0,11.5L315.0,11.5L314.8,11.9L314.7,12.3L314.5,12.8L314.3,13.3L314.1,13.9L313.8,14.6L313.6,15.3L313.3,16.1L313.0,16.9Z" fill="none" stroke="#4a4a4a" stroke-width="0.42" clip-path="url(#eaclip)"/>
<path d="M170.2,36.8L172.4,38.2L170.8,39.6L173.0,40.8L171.2,42.3L173.6,43.4L171.6,44.9L174.0,46.1L172.0,47.6L174.3,48.8L172.4,50.2L174.6,51.5L172.8,53.0L174.8,54.2L173.4,55.8M169.4,44.0L170.3,46.5L169.6,48.6" fill="none" stroke="#5e5e5e" stroke-width="0.7"/>
<circle cx="218.2" cy="182.8" r="3.2" fill="#ede257"/><circle cx="343.6" cy="61.8" r="3.2" fill="#ede257"/><circle cx="349.1" cy="77.0" r="3.2" fill="#ede257"/><circle cx="382.2" cy="36.1" r="3.2" fill="#ede257"/><circle cx="386.7" cy="69.1" r="3.2" fill="#ede257"/><circle cx="386.8" cy="68.9" r="3.2" fill="#ede257"/><circle cx="393.0" cy="91.3" r="3.2" fill="#ede257"/><circle cx="423.4" cy="85.9" r="3.2" fill="#ede257"/><circle cx="486.2" cy="91.8" r="3.2" fill="#ede257"/><circle cx="359.3" cy="91.4" r="3.2" fill="#ede257"/><circle cx="340.0" cy="119.7" r="3.2" fill="#ede257"/><circle cx="394.0" cy="156.1" r="3.2" fill="#ede257"/><circle cx="416.0" cy="122.2" r="3.2" fill="#ede257"/><circle cx="415.5" cy="124.9" r="3.2" fill="#ede257"/><circle cx="423.8" cy="121.3" r="3.2" fill="#ede257"/><circle cx="477.2" cy="143.5" r="3.2" fill="#ede257"/><circle cx="579.1" cy="218.1" r="3.2" fill="#ede257"/><circle cx="203.6" cy="37.9" r="2.7" fill="#c9e03c"/><circle cx="304.4" cy="74.3" r="2.7" fill="#c9e03c"/><circle cx="202.0" cy="118.6" r="2.7" fill="#c9e03c"/><circle cx="211.0" cy="107.1" r="2.7" fill="#c9e03c"/><circle cx="246.7" cy="127.8" r="2.7" fill="#c9e03c"/><circle cx="226.3" cy="185.5" r="2.7" fill="#c9e03c"/><circle cx="239.1" cy="199.1" r="2.7" fill="#c9e03c"/><circle cx="333.8" cy="40.1" r="2.7" fill="#c9e03c"/><circle cx="335.7" cy="69.8" r="2.7" fill="#c9e03c"/><circle cx="351.4" cy="36.4" r="2.7" fill="#c9e03c"/><circle cx="371.3" cy="35.0" r="2.7" fill="#c9e03c"/><circle cx="369.8" cy="47.7" r="2.7" fill="#c9e03c"/><circle cx="371.4" cy="57.0" r="2.7" fill="#c9e03c"/><circle cx="379.8" cy="60.0" r="2.7" fill="#c9e03c"/><circle cx="344.4" cy="66.9" r="2.7" fill="#c9e03c"/><circle cx="415.6" cy="31.6" r="2.7" fill="#c9e03c"/><circle cx="459.2" cy="88.2" r="2.7" fill="#c9e03c"/><circle cx="468.0" cy="90.4" r="2.7" fill="#c9e03c"/><circle cx="317.9" cy="95.4" r="2.7" fill="#c9e03c"/><circle cx="334.3" cy="89.5" r="2.7" fill="#c9e03c"/><circle cx="330.5" cy="139.7" r="2.7" fill="#c9e03c"/><circle cx="332.7" cy="144.1" r="2.7" fill="#c9e03c"/><circle cx="411.1" cy="189.4" r="2.7" fill="#c9e03c"/><circle cx="487.9" cy="107.8" r="2.7" fill="#c9e03c"/><circle cx="519.9" cy="119.9" r="2.7" fill="#c9e03c"/><circle cx="520.8" cy="78.7" r="2.7" fill="#c9e03c"/><circle cx="552.2" cy="64.1" r="2.7" fill="#c9e03c"/><circle cx="550.0" cy="70.7" r="2.7" fill="#c9e03c"/><circle cx="546.6" cy="90.8" r="2.7" fill="#c9e03c"/><circle cx="617.7" cy="195.7" r="2.7" fill="#c9e03c"/><circle cx="589.7" cy="224.9" r="2.7" fill="#c9e03c"/><circle cx="582.6" cy="251.2" r="2.7" fill="#c9e03c"/><circle cx="369.7" cy="47.7" r="2.7" fill="#c9e03c"/><circle cx="371.8" cy="56.9" r="2.7" fill="#c9e03c"/><circle cx="344.3" cy="66.2" r="2.7" fill="#c9e03c"/><circle cx="336.1" cy="69.2" r="2.7" fill="#c9e03c"/><circle cx="340.2" cy="77.4" r="2.7" fill="#c9e03c"/><circle cx="190.4" cy="34.5" r="2.6" fill="#3ebf62"/><circle cx="187.1" cy="50.2" r="2.6" fill="#3ebf62"/><circle cx="187.1" cy="55.0" r="2.6" fill="#98d84a"/><circle cx="215.7" cy="49.6" r="2.6" fill="#3ebf62"/><circle cx="227.9" cy="75.7" r="2.6" fill="#3ebf62"/><circle cx="265.7" cy="53.6" r="2.6" fill="#98d84a"/><circle cx="252.3" cy="64.3" r="2.6" fill="#3ebf62"/><circle cx="216.5" cy="100.5" r="2.6" fill="#3ebf62"/><circle cx="223.7" cy="112.1" r="2.6" fill="#3ebf62"/><circle cx="244.5" cy="122.6" r="2.6" fill="#98d84a"/><circle cx="204.3" cy="132.7" r="2.6" fill="#3ebf62"/><circle cx="213.6" cy="136.6" r="2.6" fill="#3ebf62"/><circle cx="231.6" cy="129.8" r="2.6" fill="#98d84a"/><circle cx="234.6" cy="133.4" r="2.6" fill="#3ebf62"/><circle cx="253.3" cy="143.6" r="2.6" fill="#3ebf62"/><circle cx="228.5" cy="192.3" r="2.6" fill="#3ebf62"/><circle cx="245.5" cy="187.7" r="2.6" fill="#3ebf62"/><circle cx="263.1" cy="191.4" r="2.6" fill="#98d84a"/><circle cx="281.0" cy="192.6" r="2.6" fill="#3ebf62"/><circle cx="259.0" cy="212.1" r="2.6" fill="#3ebf62"/><circle cx="252.3" cy="246.3" r="2.6" fill="#3ebf62"/><circle cx="75.2" cy="101.2" r="2.6" fill="#98d84a"/><circle cx="58.6" cy="165.5" r="2.6" fill="#3ebf62"/><circle cx="340.6" cy="43.0" r="2.6" fill="#3ebf62"/><circle cx="350.9" cy="54.2" r="2.6" fill="#3ebf62"/><circle cx="350.4" cy="64.5" r="2.6" fill="#98d84a"/><circle cx="357.1" cy="67.6" r="2.6" fill="#3ebf62"/><circle cx="333.0" cy="65.8" r="2.6" fill="#98d84a"/><circle cx="330.4" cy="73.8" r="2.6" fill="#98d84a"/><circle cx="342.0" cy="72.1" r="2.6" fill="#3ebf62"/><circle cx="370.9" cy="28.8" r="2.6" fill="#3ebf62"/><circle cx="367.6" cy="37.5" r="2.6" fill="#3ebf62"/><circle cx="368.5" cy="40.1" r="2.6" fill="#98d84a"/><circle cx="365.8" cy="42.5" r="2.6" fill="#3ebf62"/><circle cx="375.7" cy="41.2" r="2.6" fill="#3ebf62"/><circle cx="378.6" cy="45.2" r="2.6" fill="#3ebf62"/><circle cx="372.0" cy="44.5" r="2.6" fill="#98d84a"/><circle cx="377.1" cy="52.1" r="2.6" fill="#98d84a"/><circle cx="384.4" cy="39.0" r="2.6" fill="#3ebf62"/><circle cx="393.9" cy="42.6" r="2.6" fill="#3ebf62"/><circle cx="386.6" cy="52.1" r="2.6" fill="#98d84a"/><circle cx="370.7" cy="52.3" r="2.6" fill="#98d84a"/><circle cx="377.6" cy="53.0" r="2.6" fill="#98d84a"/><circle cx="386.0" cy="52.3" r="2.6" fill="#98d84a"/><circle cx="348.8" cy="54.5" r="2.6" fill="#3ebf62"/><circle cx="353.1" cy="55.2" r="2.6" fill="#3ebf62"/><circle cx="364.1" cy="55.2" r="2.6" fill="#3ebf62"/><circle cx="367.7" cy="64.3" r="2.6" fill="#3ebf62"/><circle cx="372.8" cy="64.7" r="2.6" fill="#98d84a"/><circle cx="363.4" cy="68.4" r="2.6" fill="#3ebf62"/><circle cx="370.7" cy="68.4" r="2.6" fill="#98d84a"/><circle cx="378.7" cy="69.8" r="2.6" fill="#3ebf62"/><circle cx="379.4" cy="74.2" r="2.6" fill="#3ebf62"/><circle cx="383.8" cy="75.3" r="2.6" fill="#98d84a"/><circle cx="359.7" cy="77.1" r="2.6" fill="#3ebf62"/><circle cx="367.4" cy="77.1" r="2.6" fill="#3ebf62"/><circle cx="387.4" cy="77.1" r="2.6" fill="#98d84a"/><circle cx="393.5" cy="43.2" r="2.6" fill="#98d84a"/><circle cx="397.1" cy="42.8" r="2.6" fill="#3ebf62"/><circle cx="488.4" cy="47.3" r="2.6" fill="#3ebf62"/><circle cx="392.1" cy="68.9" r="2.6" fill="#98d84a"/><circle cx="386.8" cy="77.9" r="2.6" fill="#98d84a"/><circle cx="393.5" cy="81.4" r="2.6" fill="#98d84a"/><circle cx="398.8" cy="82.3" r="2.6" fill="#3ebf62"/><circle cx="404.2" cy="75.6" r="2.6" fill="#3ebf62"/><circle cx="432.3" cy="68.9" r="2.6" fill="#3ebf62"/><circle cx="439.0" cy="71.6" r="2.6" fill="#3ebf62"/><circle cx="443.5" cy="73.4" r="2.6" fill="#98d84a"/><circle cx="476.8" cy="96.2" r="2.6" fill="#98d84a"/><circle cx="478.9" cy="96.2" r="2.6" fill="#3ebf62"/><circle cx="488.4" cy="97.7" r="2.6" fill="#98d84a"/><circle cx="318.5" cy="85.5" r="2.6" fill="#3ebf62"/><circle cx="337.6" cy="83.5" r="2.6" fill="#3ebf62"/><circle cx="359.9" cy="78.9" r="2.6" fill="#3ebf62"/><circle cx="394.1" cy="81.6" r="2.6" fill="#98d84a"/><circle cx="318.5" cy="112.5" r="2.6" fill="#3ebf62"/><circle cx="317.9" cy="121.0" r="2.6" fill="#3ebf62"/><circle cx="337.3" cy="126.0" r="2.6" fill="#98d84a"/><circle cx="338.3" cy="136.5" r="2.6" fill="#98d84a"/><circle cx="346.5" cy="134.4" r="2.6" fill="#3ebf62"/><circle cx="367.2" cy="132.8" r="2.6" fill="#3ebf62"/><circle cx="366.3" cy="150.0" r="2.6" fill="#98d84a"/><circle cx="379.1" cy="161.1" r="2.6" fill="#3ebf62"/><circle cx="407.4" cy="125.7" r="2.6" fill="#98d84a"/><circle cx="417.3" cy="113.3" r="2.6" fill="#3ebf62"/><circle cx="421.7" cy="197.8" r="2.6" fill="#3ebf62"/><circle cx="376.7" cy="212.7" r="2.6" fill="#98d84a"/><circle cx="395.6" cy="217.1" r="2.6" fill="#98d84a"/><circle cx="488.3" cy="106.4" r="2.6" fill="#3ebf62"/><circle cx="477.5" cy="140.0" r="2.6" fill="#3ebf62"/><circle cx="525.0" cy="92.8" r="2.6" fill="#3ebf62"/><circle cx="509.4" cy="112.9" r="2.6" fill="#98d84a"/><circle cx="506.4" cy="122.6" r="2.6" fill="#3ebf62"/><circle cx="516.8" cy="153.9" r="2.6" fill="#3ebf62"/><circle cx="524.0" cy="68.0" r="2.6" fill="#98d84a"/><circle cx="516.0" cy="71.4" r="2.6" fill="#3ebf62"/><circle cx="503.6" cy="85.3" r="2.6" fill="#98d84a"/><circle cx="548.8" cy="82.3" r="2.6" fill="#98d84a"/><circle cx="541.3" cy="119.1" r="2.6" fill="#3ebf62"/><circle cx="540.5" cy="133.9" r="2.6" fill="#3ebf62"/><circle cx="534.9" cy="147.4" r="2.6" fill="#3ebf62"/><circle cx="519.0" cy="171.5" r="2.6" fill="#98d84a"/><circle cx="541.6" cy="174.4" r="2.6" fill="#3ebf62"/><circle cx="608.1" cy="182.4" r="2.6" fill="#3ebf62"/><circle cx="583.6" cy="197.1" r="2.6" fill="#98d84a"/><circle cx="526.8" cy="205.9" r="2.6" fill="#3ebf62"/><circle cx="524.3" cy="212.4" r="2.6" fill="#3ebf62"/><circle cx="551.9" cy="212.0" r="2.6" fill="#3ebf62"/><circle cx="604.0" cy="240.6" r="2.6" fill="#3ebf62"/><circle cx="442.7" cy="265.6" r="2.6" fill="#3ebf62"/><circle cx="349.4" cy="53.3" r="2.6" fill="#3ebf62"/><circle cx="360.7" cy="48.2" r="2.6" fill="#3ebf62"/><circle cx="353.0" cy="54.9" r="2.6" fill="#3ebf62"/><circle cx="362.7" cy="57.4" r="2.6" fill="#3ebf62"/><circle cx="364.7" cy="41.1" r="2.6" fill="#3ebf62"/><circle cx="364.3" cy="42.3" r="2.6" fill="#3ebf62"/><circle cx="384.5" cy="39.3" r="2.6" fill="#3ebf62"/><circle cx="368.7" cy="40.0" r="2.6" fill="#98d84a"/><circle cx="378.4" cy="45.7" r="2.6" fill="#3ebf62"/><circle cx="372.3" cy="44.1" r="2.6" fill="#98d84a"/><circle cx="377.9" cy="52.8" r="2.6" fill="#98d84a"/><circle cx="386.1" cy="52.3" r="2.6" fill="#98d84a"/><circle cx="393.2" cy="43.1" r="2.6" fill="#98d84a"/><circle cx="370.7" cy="54.4" r="2.6" fill="#3ebf62"/><circle cx="380.4" cy="59.5" r="2.6" fill="#98d84a"/><circle cx="351.5" cy="64.1" r="2.6" fill="#98d84a"/><circle cx="363.7" cy="67.7" r="2.6" fill="#98d84a"/><circle cx="341.8" cy="71.3" r="2.6" fill="#3ebf62"/><circle cx="338.2" cy="81.8" r="2.6" fill="#3ebf62"/><circle cx="379.9" cy="60.0" r="2.6" fill="#98d84a"/><circle cx="367.7" cy="65.2" r="2.6" fill="#3ebf62"/><circle cx="391.7" cy="69.0" r="2.6" fill="#98d84a"/><circle cx="370.7" cy="70.0" r="2.6" fill="#3ebf62"/><circle cx="378.4" cy="70.3" r="2.6" fill="#3ebf62"/><circle cx="379.4" cy="75.4" r="2.6" fill="#98d84a"/><circle cx="384.0" cy="75.9" r="2.6" fill="#98d84a"/><circle cx="387.1" cy="77.9" r="2.6" fill="#98d84a"/><circle cx="367.7" cy="76.9" r="2.6" fill="#3ebf62"/><circle cx="361.0" cy="77.9" r="2.6" fill="#3ebf62"/><circle cx="393.2" cy="81.0" r="2.6" fill="#98d84a"/><circle cx="553.6" cy="268.3" r="2.6" fill="#3ebf62"/><circle cx="172.9" cy="57.3" r="2.5" fill="#2aa09d"/><circle cx="186.4" cy="63.0" r="2.5" fill="#2aa09d"/><circle cx="166.4" cy="76.1" r="2.5" fill="#2aa09d"/><circle cx="186.4" cy="78.2" r="2.5" fill="#2aa09d"/><circle cx="218.4" cy="80.2" r="2.5" fill="#2aa09d"/><circle cx="244.3" cy="58.6" r="2.5" fill="#2aa09d"/><circle cx="245.2" cy="86.4" r="2.5" fill="#2aa09d"/><circle cx="186.3" cy="113.9" r="2.5" fill="#2aa09d"/><circle cx="190.2" cy="115.6" r="2.5" fill="#2aa09d"/><circle cx="266.7" cy="187.0" r="2.5" fill="#2aa09d"/><circle cx="266.9" cy="191.4" r="2.5" fill="#2aa09d"/><circle cx="337.5" cy="52.4" r="2.5" fill="#2aa09d"/><circle cx="342.0" cy="52.9" r="2.5" fill="#2aa09d"/><circle cx="348.2" cy="52.0" r="2.5" fill="#2aa09d"/><circle cx="347.3" cy="64.0" r="2.5" fill="#2aa09d"/><circle cx="345.1" cy="73.0" r="2.5" fill="#2aa09d"/><circle cx="348.6" cy="51.4" r="2.5" fill="#2aa09d"/><circle cx="349.5" cy="50.8" r="2.5" fill="#2aa09d"/><circle cx="355.7" cy="59.6" r="2.5" fill="#2aa09d"/><circle cx="365.5" cy="60.0" r="2.5" fill="#2aa09d"/><circle cx="358.2" cy="61.8" r="2.5" fill="#2aa09d"/><circle cx="384.5" cy="66.2" r="2.5" fill="#2aa09d"/><circle cx="367.7" cy="70.5" r="2.5" fill="#2aa09d"/><circle cx="375.0" cy="71.6" r="2.5" fill="#2aa09d"/><circle cx="488.4" cy="57.5" r="2.5" fill="#2aa09d"/><circle cx="401.1" cy="82.8" r="2.5" fill="#2aa09d"/><circle cx="398.4" cy="85.9" r="2.5" fill="#2aa09d"/><circle cx="398.4" cy="90.8" r="2.5" fill="#2aa09d"/><circle cx="409.1" cy="68.0" r="2.5" fill="#2aa09d"/><circle cx="416.3" cy="70.3" r="2.5" fill="#2aa09d"/><circle cx="435.4" cy="93.5" r="2.5" fill="#2aa09d"/><circle cx="418.5" cy="102.4" r="2.5" fill="#2aa09d"/><circle cx="319.9" cy="95.4" r="2.5" fill="#2aa09d"/><circle cx="350.3" cy="86.6" r="2.5" fill="#2aa09d"/><circle cx="315.9" cy="124.3" r="2.5" fill="#2aa09d"/><circle cx="379.6" cy="119.0" r="2.5" fill="#2aa09d"/><circle cx="391.6" cy="151.9" r="2.5" fill="#2aa09d"/><circle cx="391.6" cy="161.8" r="2.5" fill="#2aa09d"/><circle cx="393.3" cy="160.5" r="2.5" fill="#2aa09d"/><circle cx="408.0" cy="142.7" r="2.5" fill="#2aa09d"/><circle cx="408.7" cy="170.3" r="2.5" fill="#2aa09d"/><circle cx="404.6" cy="113.3" r="2.5" fill="#2aa09d"/><circle cx="407.9" cy="122.7" r="2.5" fill="#2aa09d"/><circle cx="437.0" cy="166.3" r="2.5" fill="#2aa09d"/><circle cx="468.5" cy="106.4" r="2.5" fill="#2aa09d"/><circle cx="506.4" cy="92.5" r="2.5" fill="#2aa09d"/><circle cx="515.0" cy="112.2" r="2.5" fill="#2aa09d"/><circle cx="511.5" cy="124.7" r="2.5" fill="#2aa09d"/><circle cx="534.2" cy="76.5" r="2.5" fill="#2aa09d"/><circle cx="550.3" cy="78.2" r="2.5" fill="#2aa09d"/><circle cx="542.1" cy="137.1" r="2.5" fill="#2aa09d"/><circle cx="527.0" cy="173.1" r="2.5" fill="#2aa09d"/><circle cx="534.9" cy="174.4" r="2.5" fill="#2aa09d"/><circle cx="566.7" cy="140.6" r="2.5" fill="#2aa09d"/><circle cx="572.7" cy="167.2" r="2.5" fill="#2aa09d"/><circle cx="555.4" cy="237.6" r="2.5" fill="#2aa09d"/><circle cx="570.7" cy="261.1" r="2.5" fill="#2aa09d"/><circle cx="439.9" cy="259.1" r="2.5" fill="#2aa09d"/><circle cx="355.5" cy="48.7" r="2.5" fill="#2aa09d"/><circle cx="354.0" cy="59.5" r="2.5" fill="#2aa09d"/><circle cx="363.7" cy="60.0" r="2.5" fill="#2aa09d"/><circle cx="365.1" cy="60.0" r="2.5" fill="#2aa09d"/><circle cx="354.0" cy="60.0" r="2.5" fill="#2aa09d"/><circle cx="365.6" cy="60.6" r="2.5" fill="#2aa09d"/><circle cx="384.5" cy="65.7" r="2.5" fill="#2aa09d"/><circle cx="367.7" cy="70.8" r="2.5" fill="#2aa09d"/><circle cx="194.6" cy="157.9" r="2.5" fill="#2aa09d"/><circle cx="145.2" cy="22.5" r="2.4" fill="#2b7595"/><circle cx="170.7" cy="35.0" r="2.4" fill="#2b7595"/><circle cx="285.1" cy="27.1" r="2.4" fill="#2b7595"/><circle cx="288.3" cy="35.3" r="2.4" fill="#2b7595"/><circle cx="165.3" cy="115.4" r="2.4" fill="#2b7595"/><circle cx="183.7" cy="113.4" r="2.4" fill="#2b7595"/><circle cx="198.9" cy="113.0" r="2.4" fill="#2b7595"/><circle cx="206.9" cy="121.8" r="2.4" fill="#2b7595"/><circle cx="219.5" cy="109.7" r="2.4" fill="#2b7595"/><circle cx="220.2" cy="133.4" r="2.4" fill="#2b7595"/><circle cx="229.6" cy="131.8" r="2.4" fill="#2b7595"/><circle cx="241.7" cy="144.9" r="2.4" fill="#2b7595"/><circle cx="250.8" cy="147.6" r="2.4" fill="#2b7595"/><circle cx="233.3" cy="192.8" r="2.4" fill="#2b7595"/><circle cx="273.4" cy="206.9" r="2.4" fill="#2b7595"/><circle cx="98.3" cy="193.6" r="2.4" fill="#2b7595"/><circle cx="342.9" cy="46.2" r="2.4" fill="#2b7595"/><circle cx="344.2" cy="49.3" r="2.4" fill="#2b7595"/><circle cx="333.9" cy="73.4" r="2.4" fill="#2b7595"/><circle cx="342.2" cy="47.2" r="2.4" fill="#2b7595"/><circle cx="344.4" cy="51.6" r="2.4" fill="#2b7595"/><circle cx="375.0" cy="55.2" r="2.4" fill="#2b7595"/><circle cx="392.6" cy="62.4" r="2.4" fill="#2b7595"/><circle cx="399.3" cy="78.3" r="2.4" fill="#2b7595"/><circle cx="414.9" cy="81.0" r="2.4" fill="#2b7595"/><circle cx="423.4" cy="100.2" r="2.4" fill="#2b7595"/><circle cx="451.2" cy="70.4" r="2.4" fill="#2b7595"/><circle cx="329.7" cy="88.1" r="2.4" fill="#2b7595"/><circle cx="331.7" cy="84.9" r="2.4" fill="#2b7595"/><circle cx="334.3" cy="83.5" r="2.4" fill="#2b7595"/><circle cx="361.6" cy="83.5" r="2.4" fill="#2b7595"/><circle cx="323.1" cy="128.2" r="2.4" fill="#2b7595"/><circle cx="407.5" cy="109.3" r="2.4" fill="#2b7595"/><circle cx="421.4" cy="177.1" r="2.4" fill="#2b7595"/><circle cx="425.9" cy="188.6" r="2.4" fill="#2b7595"/><circle cx="460.6" cy="106.4" r="2.4" fill="#2b7595"/><circle cx="528.2" cy="92.8" r="2.4" fill="#2b7595"/><circle cx="517.8" cy="110.8" r="2.4" fill="#2b7595"/><circle cx="517.5" cy="123.8" r="2.4" fill="#2b7595"/><circle cx="511.9" cy="158.1" r="2.4" fill="#2b7595"/><circle cx="530.6" cy="88.2" r="2.4" fill="#2b7595"/><circle cx="537.3" cy="142.6" r="2.4" fill="#2b7595"/><circle cx="580.5" cy="191.0" r="2.4" fill="#2b7595"/><circle cx="609.5" cy="201.8" r="2.4" fill="#2b7595"/><circle cx="560.5" cy="236.9" r="2.4" fill="#2b7595"/><circle cx="366.1" cy="53.3" r="2.4" fill="#2b7595"/><circle cx="374.8" cy="55.4" r="2.4" fill="#2b7595"/><circle cx="346.1" cy="73.3" r="2.4" fill="#2b7595"/><circle cx="333.8" cy="82.0" r="2.4" fill="#2b7595"/><circle cx="361.2" cy="82.0" r="2.4" fill="#2b7595"/><circle cx="392.2" cy="62.6" r="2.4" fill="#2b7595"/><circle cx="374.8" cy="71.3" r="2.4" fill="#2b7595"/><circle cx="366.6" cy="79.5" r="2.4" fill="#2b7595"/><circle cx="319.3" cy="30.8" r="2.0" fill="#2d3a8c"/><circle cx="215.8" cy="108.1" r="2.0" fill="#2d3a8c"/><circle cx="214.2" cy="157.1" r="2.0" fill="#2d3a8c"/><circle cx="213.4" cy="162.9" r="2.0" fill="#2d3a8c"/><circle cx="241.9" cy="161.9" r="2.0" fill="#2d3a8c"/><circle cx="290.9" cy="165.3" r="2.0" fill="#2d3a8c"/><circle cx="283.6" cy="180.9" r="2.0" fill="#2d3a8c"/><circle cx="251.7" cy="195.2" r="2.0" fill="#2d3a8c"/><circle cx="274.2" cy="196.2" r="2.0" fill="#2d3a8c"/><circle cx="240.7" cy="207.1" r="2.0" fill="#2d3a8c"/><circle cx="268.7" cy="209.3" r="2.0" fill="#2d3a8c"/><circle cx="275.8" cy="206.9" r="2.0" fill="#2d3a8c"/><circle cx="235.3" cy="227.9" r="2.0" fill="#2d3a8c"/><circle cx="256.7" cy="230.7" r="2.0" fill="#2d3a8c"/><circle cx="260.4" cy="231.3" r="2.0" fill="#2d3a8c"/><circle cx="345.1" cy="53.8" r="2.0" fill="#2d3a8c"/><circle cx="346.0" cy="57.3" r="2.0" fill="#2d3a8c"/><circle cx="332.6" cy="68.9" r="2.0" fill="#2d3a8c"/><circle cx="339.3" cy="71.2" r="2.0" fill="#2d3a8c"/><circle cx="358.5" cy="29.1" r="2.0" fill="#2d3a8c"/><circle cx="353.6" cy="33.5" r="2.0" fill="#2d3a8c"/><circle cx="358.5" cy="33.3" r="2.0" fill="#2d3a8c"/><circle cx="366.2" cy="42.3" r="2.0" fill="#2d3a8c"/><circle cx="372.7" cy="41.5" r="2.0" fill="#2d3a8c"/><circle cx="376.4" cy="44.8" r="2.0" fill="#2d3a8c"/><circle cx="354.5" cy="47.7" r="2.0" fill="#2d3a8c"/><circle cx="352.3" cy="50.7" r="2.0" fill="#2d3a8c"/><circle cx="360.3" cy="51.4" r="2.0" fill="#2d3a8c"/><circle cx="350.9" cy="47.9" r="2.0" fill="#2d3a8c"/><circle cx="374.3" cy="45.7" r="2.0" fill="#2d3a8c"/><circle cx="352.4" cy="52.3" r="2.0" fill="#2d3a8c"/><circle cx="359.0" cy="50.8" r="2.0" fill="#2d3a8c"/><circle cx="367.0" cy="53.8" r="2.0" fill="#2d3a8c"/><circle cx="373.6" cy="51.2" r="2.0" fill="#2d3a8c"/><circle cx="345.8" cy="57.8" r="2.0" fill="#2d3a8c"/><circle cx="352.0" cy="58.5" r="2.0" fill="#2d3a8c"/><circle cx="367.7" cy="56.7" r="2.0" fill="#2d3a8c"/><circle cx="370.7" cy="60.3" r="2.0" fill="#2d3a8c"/><circle cx="376.9" cy="59.6" r="2.0" fill="#2d3a8c"/><circle cx="370.7" cy="65.4" r="2.0" fill="#2d3a8c"/><circle cx="389.6" cy="73.8" r="2.0" fill="#2d3a8c"/><circle cx="374.3" cy="69.8" r="2.0" fill="#2d3a8c"/><circle cx="408.5" cy="43.4" r="2.0" fill="#2d3a8c"/><circle cx="389.9" cy="73.8" r="2.0" fill="#2d3a8c"/><circle cx="409.6" cy="71.2" r="2.0" fill="#2d3a8c"/><circle cx="414.5" cy="67.6" r="2.0" fill="#2d3a8c"/><circle cx="417.9" cy="78.6" r="2.0" fill="#2d3a8c"/><circle cx="426.8" cy="76.8" r="2.0" fill="#2d3a8c"/><circle cx="428.1" cy="87.5" r="2.0" fill="#2d3a8c"/><circle cx="453.1" cy="64.1" r="2.0" fill="#2d3a8c"/><circle cx="447.6" cy="81.6" r="2.0" fill="#2d3a8c"/><circle cx="463.6" cy="97.7" r="2.0" fill="#2d3a8c"/><circle cx="317.9" cy="126.2" r="2.0" fill="#2d3a8c"/><circle cx="357.7" cy="119.3" r="2.0" fill="#2d3a8c"/><circle cx="352.2" cy="139.2" r="2.0" fill="#2d3a8c"/><circle cx="406.1" cy="145.0" r="2.0" fill="#2d3a8c"/><circle cx="432.9" cy="128.9" r="2.0" fill="#2d3a8c"/><circle cx="390.5" cy="201.6" r="2.0" fill="#2d3a8c"/><circle cx="391.6" cy="205.2" r="2.0" fill="#2d3a8c"/><circle cx="528.9" cy="96.3" r="2.0" fill="#2d3a8c"/><circle cx="508.8" cy="106.0" r="2.0" fill="#2d3a8c"/><circle cx="510.8" cy="117.5" r="2.0" fill="#2d3a8c"/><circle cx="510.8" cy="144.6" r="2.0" fill="#2d3a8c"/><circle cx="512.8" cy="73.6" r="2.0" fill="#2d3a8c"/><circle cx="551.5" cy="83.5" r="2.0" fill="#2d3a8c"/><circle cx="545.9" cy="99.1" r="2.0" fill="#2d3a8c"/><circle cx="567.1" cy="96.2" r="2.0" fill="#2d3a8c"/><circle cx="539.7" cy="117.5" r="2.0" fill="#2d3a8c"/><circle cx="583.3" cy="169.3" r="2.0" fill="#2d3a8c"/><circle cx="634.7" cy="195.7" r="2.0" fill="#2d3a8c"/><circle cx="352.0" cy="52.3" r="2.0" fill="#2d3a8c"/><circle cx="358.6" cy="50.8" r="2.0" fill="#2d3a8c"/><circle cx="351.5" cy="58.4" r="2.0" fill="#2d3a8c"/><circle cx="366.1" cy="42.6" r="2.0" fill="#2d3a8c"/><circle cx="372.8" cy="41.3" r="2.0" fill="#2d3a8c"/><circle cx="376.4" cy="44.9" r="2.0" fill="#2d3a8c"/><circle cx="373.8" cy="51.3" r="2.0" fill="#2d3a8c"/><circle cx="361.0" cy="51.3" r="2.0" fill="#2d3a8c"/><circle cx="368.2" cy="56.4" r="2.0" fill="#2d3a8c"/><circle cx="370.7" cy="60.0" r="2.0" fill="#2d3a8c"/><circle cx="376.9" cy="59.5" r="2.0" fill="#2d3a8c"/><circle cx="339.5" cy="70.8" r="2.0" fill="#2d3a8c"/><circle cx="370.7" cy="65.2" r="2.0" fill="#2d3a8c"/><circle cx="389.6" cy="73.8" r="2.0" fill="#2d3a8c"/><circle cx="306.2" cy="123.8" r="2.0" fill="#2d3a8c"/><circle cx="191.1" cy="54.6" r="1.8" fill="#440f5c"/><circle cx="227.3" cy="71.6" r="1.8" fill="#440f5c"/><circle cx="167.5" cy="96.6" r="1.8" fill="#440f5c"/><circle cx="168.9" cy="96.6" r="1.8" fill="#440f5c"/><circle cx="319.7" cy="32.0" r="1.8" fill="#440f5c"/><circle cx="302.5" cy="74.3" r="1.8" fill="#440f5c"/><circle cx="183.4" cy="110.4" r="1.8" fill="#440f5c"/><circle cx="188.3" cy="119.2" r="1.8" fill="#440f5c"/><circle cx="231.6" cy="115.9" r="1.8" fill="#440f5c"/><circle cx="209.9" cy="139.9" r="1.8" fill="#440f5c"/><circle cx="216.9" cy="139.5" r="1.8" fill="#440f5c"/><circle cx="219.1" cy="145.8" r="1.8" fill="#440f5c"/><circle cx="209.9" cy="147.6" r="1.8" fill="#440f5c"/><circle cx="274.2" cy="199.9" r="1.8" fill="#440f5c"/><circle cx="339.3" cy="47.9" r="1.8" fill="#440f5c"/><circle cx="344.2" cy="62.2" r="1.8" fill="#440f5c"/><circle cx="346.9" cy="67.1" r="1.8" fill="#440f5c"/><circle cx="355.4" cy="64.5" r="1.8" fill="#440f5c"/><circle cx="339.7" cy="75.2" r="1.8" fill="#440f5c"/><circle cx="335.7" cy="77.0" r="1.8" fill="#440f5c"/><circle cx="348.7" cy="72.1" r="1.8" fill="#440f5c"/><circle cx="370.9" cy="32.0" r="1.8" fill="#440f5c"/><circle cx="375.3" cy="37.5" r="1.8" fill="#440f5c"/><circle cx="373.8" cy="51.2" r="1.8" fill="#440f5c"/><circle cx="380.8" cy="40.4" r="1.8" fill="#440f5c"/><circle cx="391.4" cy="33.9" r="1.8" fill="#440f5c"/><circle cx="361.4" cy="43.7" r="1.8" fill="#440f5c"/><circle cx="358.1" cy="47.0" r="1.8" fill="#440f5c"/><circle cx="362.5" cy="45.5" r="1.8" fill="#440f5c"/><circle cx="356.7" cy="50.7" r="1.8" fill="#440f5c"/><circle cx="364.7" cy="50.7" r="1.8" fill="#440f5c"/><circle cx="354.6" cy="47.9" r="1.8" fill="#440f5c"/><circle cx="356.1" cy="53.0" r="1.8" fill="#440f5c"/><circle cx="361.9" cy="52.3" r="1.8" fill="#440f5c"/><circle cx="364.8" cy="50.1" r="1.8" fill="#440f5c"/><circle cx="357.9" cy="56.7" r="1.8" fill="#440f5c"/><circle cx="361.2" cy="56.0" r="1.8" fill="#440f5c"/><circle cx="387.4" cy="59.2" r="1.8" fill="#440f5c"/><circle cx="361.2" cy="61.1" r="1.8" fill="#440f5c"/><circle cx="361.2" cy="64.0" r="1.8" fill="#440f5c"/><circle cx="361.9" cy="65.4" r="1.8" fill="#440f5c"/><circle cx="395.5" cy="40.4" r="1.8" fill="#440f5c"/><circle cx="398.4" cy="88.4" r="1.8" fill="#440f5c"/><circle cx="426.5" cy="91.3" r="1.8" fill="#440f5c"/><circle cx="430.1" cy="91.3" r="1.8" fill="#440f5c"/><circle cx="334.0" cy="133.5" r="1.8" fill="#440f5c"/><circle cx="338.7" cy="145.1" r="1.8" fill="#440f5c"/><circle cx="363.6" cy="157.6" r="1.8" fill="#440f5c"/><circle cx="409.4" cy="165.7" r="1.8" fill="#440f5c"/><circle cx="413.9" cy="136.1" r="1.8" fill="#440f5c"/><circle cx="412.4" cy="161.6" r="1.8" fill="#440f5c"/><circle cx="436.5" cy="201.6" r="1.8" fill="#440f5c"/><circle cx="504.6" cy="90.0" r="1.8" fill="#440f5c"/><circle cx="505.0" cy="107.8" r="1.8" fill="#440f5c"/><circle cx="515.7" cy="107.8" r="1.8" fill="#440f5c"/><circle cx="524.7" cy="107.8" r="1.8" fill="#440f5c"/><circle cx="526.8" cy="107.8" r="1.8" fill="#440f5c"/><circle cx="521.3" cy="121.7" r="1.8" fill="#440f5c"/><circle cx="531.3" cy="90.8" r="1.8" fill="#440f5c"/><circle cx="544.9" cy="81.2" r="1.8" fill="#440f5c"/><circle cx="550.7" cy="82.3" r="1.8" fill="#440f5c"/><circle cx="532.5" cy="102.6" r="1.8" fill="#440f5c"/><circle cx="513.5" cy="162.5" r="1.8" fill="#440f5c"/><circle cx="352.0" cy="47.2" r="1.8" fill="#440f5c"/><circle cx="356.6" cy="46.7" r="1.8" fill="#440f5c"/><circle cx="360.7" cy="43.6" r="1.8" fill="#440f5c"/><circle cx="362.7" cy="46.2" r="1.8" fill="#440f5c"/><circle cx="362.7" cy="51.8" r="1.8" fill="#440f5c"/><circle cx="358.6" cy="54.9" r="1.8" fill="#440f5c"/><circle cx="361.7" cy="55.9" r="1.8" fill="#440f5c"/><circle cx="356.6" cy="58.4" r="1.8" fill="#440f5c"/><circle cx="360.7" cy="59.5" r="1.8" fill="#440f5c"/><circle cx="380.7" cy="40.3" r="1.8" fill="#440f5c"/><circle cx="375.3" cy="38.5" r="1.8" fill="#440f5c"/><circle cx="361.5" cy="43.6" r="1.8" fill="#440f5c"/><circle cx="362.0" cy="46.7" r="1.8" fill="#440f5c"/><circle cx="365.1" cy="50.3" r="1.8" fill="#440f5c"/><circle cx="361.0" cy="55.4" r="1.8" fill="#440f5c"/><circle cx="387.6" cy="59.2" r="1.8" fill="#440f5c"/><circle cx="361.0" cy="60.5" r="1.8" fill="#440f5c"/><circle cx="348.9" cy="71.8" r="1.8" fill="#440f5c"/><circle cx="336.6" cy="80.0" r="1.8" fill="#440f5c"/><circle cx="361.5" cy="61.1" r="1.8" fill="#440f5c"/><circle cx="362.0" cy="65.2" r="1.8" fill="#440f5c"/><circle cx="181.0" cy="106.8" r="1.3" fill="#440f5c"/><circle cx="178.4" cy="110.8" r="1.3" fill="#440f5c"/><circle cx="203.1" cy="114.0" r="1.3" fill="#440f5c"/><circle cx="208.4" cy="136.0" r="1.3" fill="#440f5c"/><circle cx="163.9" cy="68.6" r="0.9" fill="#440f5c"/><circle cx="199.2" cy="118.3" r="0.9" fill="#440f5c"/><circle cx="196.8" cy="124.4" r="0.9" fill="#440f5c"/><circle cx="213.6" cy="106.4" r="0.9" fill="#440f5c"/><circle cx="222.2" cy="136.0" r="0.9" fill="#440f5c"/><circle cx="200.7" cy="144.3" r="0.9" fill="#440f5c"/><circle cx="217.5" cy="140.0" r="0.9" fill="#440f5c"/><circle cx="214.6" cy="160.9" r="0.9" fill="#440f5c"/><circle cx="271.1" cy="162.3" r="0.9" fill="#440f5c"/><circle cx="217.2" cy="173.6" r="0.9" fill="#440f5c"/><circle cx="287.3" cy="174.0" r="0.9" fill="#440f5c"/><circle cx="281.8" cy="184.8" r="0.9" fill="#440f5c"/><circle cx="227.0" cy="183.4" r="0.9" fill="#440f5c"/><circle cx="239.1" cy="198.4" r="0.9" fill="#440f5c"/><circle cx="256.0" cy="228.0" r="0.9" fill="#440f5c"/><circle cx="326.0" cy="110.7" r="0.9" fill="#440f5c"/><circle cx="406.3" cy="156.9" r="0.9" fill="#440f5c"/><circle cx="371.4" cy="218.7" r="0.9" fill="#440f5c"/><circle cx="253.1" cy="62.1" r="3.2" fill="#ede257"/><text x="0.4" y="7.9" font-size="14.6" text-anchor="start" fill="#000" font-weight="bold" stroke="#000" stroke-width="0.5">a</text><text x="24.2" y="12.1" font-size="10.3" text-anchor="start" fill="#231f20" textLength="90" lengthAdjust="spacingAndGlyphs" >Climate awareness</text><text x="24.2" y="22.0" font-size="10.3" text-anchor="start" fill="#231f20" >(<tspan font-style="italic">n</tspan> = 535)</text><circle cx="28.2" cy="33" r="0.9" fill="#737373"/><text x="36.6" y="36.2" font-size="9.2" text-anchor="start" fill="#231f20" >&lt;20</text><circle cx="28.2" cy="49.5" r="1.9" fill="#737373"/><text x="36.6" y="52.7" font-size="9.2" text-anchor="start" fill="#231f20" >(20–40]</text><circle cx="28.2" cy="65.7" r="2.8" fill="#737373"/><text x="36.6" y="68.9" font-size="9.2" text-anchor="start" fill="#231f20" >(40–60]</text><circle cx="28.2" cy="81.6" r="4.0" fill="#737373"/><text x="36.6" y="84.8" font-size="9.2" text-anchor="start" fill="#231f20" >&gt;60</text><defs><linearGradient id="vir" x1="0" y1="0" x2="0" y2="1"><stop offset="0.000" stop-color="#440154"/><stop offset="0.125" stop-color="#472d7b"/><stop offset="0.250" stop-color="#3b528b"/><stop offset="0.375" stop-color="#2c728e"/><stop offset="0.500" stop-color="#21918c"/><stop offset="0.625" stop-color="#28ae80"/><stop offset="0.750" stop-color="#5ec962"/><stop offset="0.875" stop-color="#addc30"/><stop offset="1.000" stop-color="#fde725"/></linearGradient></defs><rect x="77.1" y="28.2" width="10" height="57.5" fill="url(#vir)"/><rect x="24.4" y="239.4" width="9.1" height="9" fill="#bee6fc" stroke="#6a6a6a" stroke-width="0.7"/><rect x="24.4" y="256.5" width="9.1" height="9" fill="#fdbbbc" stroke="#6a6a6a" stroke-width="0.7"/><text x="37.2" y="246.9" font-size="9.3" text-anchor="start" fill="#231f20" >Global north</text><text x="37.2" y="264.0" font-size="9.3" text-anchor="start" fill="#231f20" >Global south</text><text x="0.6" y="294.3" font-size="14.6" text-anchor="start" fill="#000" font-weight="bold" stroke="#000" stroke-width="0.5">b</text><path d="M65.45,320.00L65.45,320.88L65.45,321.76L65.45,322.64L65.45,323.52L65.45,324.40L65.45,325.28L65.45,326.16L65.48,327.05L65.51,327.93L65.55,328.81L65.59,329.69L65.62,330.57L65.66,331.45L65.69,332.33L65.72,333.21L65.75,334.09L65.78,334.97L65.82,335.85L65.86,336.73L65.92,337.61L65.98,338.49L66.06,339.37L66.18,340.26L66.34,341.14L66.54,342.02L66.77,342.90L67.07,343.78L67.47,344.66L67.94,345.54L68.45,346.42L69.01,347.30L69.64,348.18L70.32,349.06L71.05,349.94L71.81,350.82L72.65,351.70L73.57,352.58L74.55,353.47L75.56,354.35L76.58,355.23L77.56,356.11L78.51,356.99L79.48,357.87L80.47,358.75L81.46,359.63L82.39,360.51L83.24,361.39L83.97,362.27L84.56,363.15L85.11,364.03L85.62,364.91L86.08,365.79L86.50,366.68L86.85,367.56L87.15,368.44L87.40,369.32L87.61,370.20L87.80,371.08L87.97,371.96L88.13,372.84L88.27,373.72L88.42,374.60L88.57,375.48L88.73,376.36L88.89,377.24L89.04,378.12L89.17,379.01L89.28,379.89L89.36,380.77L89.40,381.65L89.39,382.53L89.36,383.41L89.31,384.29L89.23,385.17L89.09,386.05L88.73,386.93L88.25,387.81L87.59,388.69L86.68,389.57L85.75,390.45L84.88,391.33L84.00,392.22L83.11,393.10L82.22,393.98L81.31,394.86L80.40,395.74L79.47,396.62L78.55,397.50L77.64,398.38L76.74,399.26L75.86,400.14L74.97,401.02L74.07,401.90L73.18,402.78L72.33,403.66L71.53,404.54L70.81,405.43L70.15,406.31L69.49,407.19L68.86,408.07L68.27,408.95L67.75,409.83L67.33,410.71L67.03,411.59L66.83,412.47L66.67,413.35L66.53,414.23L66.41,415.11L66.30,415.99L66.20,416.87L66.08,417.75L65.96,418.64L65.84,419.52L65.73,420.40L65.62,421.28L65.51,422.16L65.45,423.04L65.45,423.92L65.45,424.80L64.95,424.80L64.95,423.92L64.95,423.04L64.89,422.16L64.78,421.28L64.67,420.40L64.56,419.52L64.44,418.64L64.32,417.75L64.20,416.87L64.10,415.99L63.99,415.11L63.87,414.23L63.73,413.35L63.57,412.47L63.37,411.59L63.07,410.71L62.65,409.83L62.13,408.95L61.54,408.07L60.91,407.19L60.25,406.31L59.59,405.43L58.87,404.54L58.07,403.66L57.22,402.78L56.33,401.90L55.43,401.02L54.54,400.14L53.66,399.26L52.76,398.38L51.85,397.50L50.93,396.62L50.00,395.74L49.09,394.86L48.18,393.98L47.29,393.10L46.40,392.22L45.52,391.33L44.65,390.45L43.72,389.57L42.81,388.69L42.15,387.81L41.67,386.93L41.31,386.05L41.17,385.17L41.09,384.29L41.04,383.41L41.01,382.53L41.00,381.65L41.04,380.77L41.12,379.89L41.23,379.01L41.36,378.12L41.51,377.24L41.67,376.36L41.83,375.48L41.98,374.60L42.13,373.72L42.27,372.84L42.43,371.96L42.60,371.08L42.79,370.20L43.00,369.32L43.25,368.44L43.55,367.56L43.90,366.68L44.32,365.79L44.78,364.91L45.29,364.03L45.84,363.15L46.43,362.27L47.16,361.39L48.01,360.51L48.94,359.63L49.93,358.75L50.92,357.87L51.89,356.99L52.84,356.11L53.82,355.23L54.84,354.35L55.85,353.47L56.83,352.58L57.75,351.70L58.59,350.82L59.35,349.94L60.08,349.06L60.76,348.18L61.39,347.30L61.95,346.42L62.46,345.54L62.93,344.66L63.33,343.78L63.63,342.90L63.86,342.02L64.06,341.14L64.22,340.26L64.34,339.37L64.42,338.49L64.48,337.61L64.54,336.73L64.58,335.85L64.62,334.97L64.65,334.09L64.68,333.21L64.71,332.33L64.74,331.45L64.78,330.57L64.81,329.69L64.85,328.81L64.89,327.93L64.92,327.05L64.95,326.16L64.95,325.28L64.95,324.40L64.95,323.52L64.95,322.64L64.95,321.76L64.95,320.88L64.95,320.00Z" fill="#f0edb6" stroke="#6e6e6e" stroke-width="0.5"/><path d="M125.75,321.00L125.75,321.88L125.75,322.75L125.75,323.63L125.75,324.51L125.75,325.39L125.75,326.26L125.75,327.14L125.75,328.02L125.75,328.90L125.75,329.77L125.75,330.65L125.75,331.53L125.75,332.41L125.75,333.28L125.77,334.16L125.79,335.04L125.81,335.91L125.83,336.79L125.85,337.67L125.87,338.55L125.89,339.42L125.91,340.30L125.93,341.18L125.94,342.06L125.96,342.93L125.97,343.81L125.99,344.69L126.00,345.56L126.02,346.44L126.04,347.32L126.06,348.20L126.09,349.07L126.11,349.95L126.15,350.83L126.19,351.71L126.24,352.58L126.34,353.46L126.47,354.34L126.64,355.22L126.85,356.09L127.16,356.97L127.55,357.85L127.97,358.72L128.41,359.60L128.90,360.48L129.45,361.36L130.04,362.23L130.67,363.11L131.34,363.99L132.06,364.87L132.82,365.74L133.61,366.62L134.43,367.50L135.28,368.37L136.15,369.25L137.08,370.13L138.04,371.01L139.04,371.88L140.06,372.76L141.11,373.64L142.16,374.52L143.27,375.39L144.57,376.27L145.90,377.15L147.12,378.03L148.08,378.90L148.64,379.78L149.07,380.66L149.41,381.53L149.64,382.41L149.69,383.29L149.51,384.17L149.16,385.04L148.74,385.92L148.14,386.80L147.33,387.68L146.67,388.55L146.23,389.43L145.87,390.31L145.55,391.18L145.24,392.06L144.90,392.94L144.49,393.82L144.01,394.69L143.47,395.57L142.88,396.45L142.26,397.33L141.61,398.20L140.95,399.08L140.28,399.96L139.57,400.84L138.83,401.71L138.06,402.59L137.27,403.47L136.48,404.34L135.71,405.22L134.96,406.10L134.18,406.98L133.39,407.85L132.61,408.73L131.86,409.61L131.15,410.49L130.52,411.36L129.96,412.24L129.43,413.12L128.93,413.99L128.46,414.87L128.03,415.75L127.65,416.63L127.33,417.50L127.05,418.38L126.78,419.26L126.52,420.14L126.28,421.01L126.06,421.89L125.87,422.77L125.75,423.65L125.75,424.52L125.75,425.40L125.25,425.40L125.25,424.52L125.25,423.65L125.13,422.77L124.94,421.89L124.72,421.01L124.48,420.14L124.22,419.26L123.95,418.38L123.67,417.50L123.35,416.63L122.97,415.75L122.54,414.87L122.07,413.99L121.57,413.12L121.04,412.24L120.48,411.36L119.85,410.49L119.14,409.61L118.39,408.73L117.61,407.85L116.82,406.98L116.04,406.10L115.29,405.22L114.52,404.34L113.73,403.47L112.94,402.59L112.17,401.71L111.43,400.84L110.72,399.96L110.05,399.08L109.39,398.20L108.74,397.33L108.12,396.45L107.53,395.57L106.99,394.69L106.51,393.82L106.10,392.94L105.76,392.06L105.45,391.18L105.13,390.31L104.77,389.43L104.33,388.55L103.67,387.68L102.86,386.80L102.26,385.92L101.84,385.04L101.49,384.17L101.31,383.29L101.36,382.41L101.59,381.53L101.93,380.66L102.36,379.78L102.92,378.90L103.88,378.03L105.10,377.15L106.43,376.27L107.73,375.39L108.84,374.52L109.89,373.64L110.94,372.76L111.96,371.88L112.96,371.01L113.92,370.13L114.85,369.25L115.72,368.37L116.57,367.50L117.39,366.62L118.18,365.74L118.94,364.87L119.66,363.99L120.33,363.11L120.96,362.23L121.55,361.36L122.10,360.48L122.59,359.60L123.03,358.72L123.45,357.85L123.84,356.97L124.15,356.09L124.36,355.22L124.53,354.34L124.66,353.46L124.76,352.58L124.81,351.71L124.85,350.83L124.89,349.95L124.91,349.07L124.94,348.20L124.96,347.32L124.98,346.44L125.00,345.56L125.01,344.69L125.03,343.81L125.04,342.93L125.06,342.06L125.07,341.18L125.09,340.30L125.11,339.42L125.13,338.55L125.15,337.67L125.17,336.79L125.19,335.91L125.21,335.04L125.23,334.16L125.25,333.28L125.25,332.41L125.25,331.53L125.25,330.65L125.25,329.77L125.25,328.90L125.25,328.02L125.25,327.14L125.25,326.26L125.25,325.39L125.25,324.51L125.25,323.63L125.25,322.75L125.25,321.88L125.25,321.00Z" fill="#84aac8" stroke="#6e6e6e" stroke-width="0.5"/><path d="M185.95,346.00L185.95,346.67L185.95,347.34L185.95,348.01L185.95,348.68L185.95,349.35L185.95,350.02L185.95,350.69L185.95,351.36L185.95,352.03L185.95,352.70L185.95,353.37L185.95,354.04L185.97,354.71L186.00,355.38L186.02,356.05L186.05,356.72L186.08,357.39L186.11,358.06L186.14,358.73L186.17,359.39L186.20,360.06L186.23,360.73L186.27,361.40L186.30,362.07L186.34,362.74L186.37,363.41L186.41,364.08L186.45,364.75L186.49,365.42L186.53,366.09L186.57,366.76L186.62,367.43L186.67,368.10L186.72,368.77L186.77,369.44L186.82,370.11L186.88,370.78L186.94,371.45L187.00,372.12L187.06,372.79L187.13,373.46L187.19,374.13L187.26,374.80L187.34,375.47L187.42,376.14L187.51,376.81L187.60,377.48L187.71,378.15L187.82,378.82L187.93,379.49L188.06,380.16L188.20,380.83L188.35,381.50L188.53,382.17L188.77,382.84L189.08,383.51L189.43,384.18L189.83,384.85L190.26,385.52L190.71,386.18L191.18,386.85L191.65,387.52L192.13,388.19L192.67,388.86L193.26,389.53L193.90,390.20L194.62,390.87L195.49,391.54L196.43,392.21L197.35,392.88L198.15,393.55L198.79,394.22L199.34,394.89L199.90,395.56L200.53,396.23L201.21,396.90L201.92,397.57L202.67,398.24L203.47,398.91L204.30,399.58L205.34,400.25L206.46,400.92L207.40,401.59L207.97,402.26L208.46,402.93L208.90,403.60L209.29,404.27L209.61,404.94L209.84,405.61L209.98,406.28L209.99,406.95L209.90,407.62L209.74,408.29L209.51,408.96L209.24,409.63L208.79,410.30L208.16,410.97L207.44,411.64L206.56,412.31L205.53,412.97L204.39,413.64L203.18,414.31L201.93,414.98L200.69,415.65L199.48,416.32L198.22,416.99L196.87,417.66L195.50,418.33L194.15,419.00L192.86,419.67L191.69,420.34L190.68,421.01L189.80,421.68L188.95,422.35L188.16,423.02L187.43,423.69L186.77,424.36L186.19,425.03L185.95,425.70L185.45,425.70L185.21,425.03L184.63,424.36L183.97,423.69L183.24,423.02L182.45,422.35L181.60,421.68L180.72,421.01L179.71,420.34L178.54,419.67L177.25,419.00L175.90,418.33L174.53,417.66L173.18,416.99L171.92,416.32L170.71,415.65L169.47,414.98L168.22,414.31L167.01,413.64L165.87,412.97L164.84,412.31L163.96,411.64L163.24,410.97L162.61,410.30L162.16,409.63L161.89,408.96L161.66,408.29L161.50,407.62L161.41,406.95L161.42,406.28L161.56,405.61L161.79,404.94L162.11,404.27L162.50,403.60L162.94,402.93L163.43,402.26L164.00,401.59L164.94,400.92L166.06,400.25L167.10,399.58L167.93,398.91L168.73,398.24L169.48,397.57L170.19,396.90L170.87,396.23L171.50,395.56L172.06,394.89L172.61,394.22L173.25,393.55L174.05,392.88L174.97,392.21L175.91,391.54L176.78,390.87L177.50,390.20L178.14,389.53L178.73,388.86L179.27,388.19L179.75,387.52L180.22,386.85L180.69,386.18L181.14,385.52L181.57,384.85L181.97,384.18L182.32,383.51L182.63,382.84L182.87,382.17L183.05,381.50L183.20,380.83L183.34,380.16L183.47,379.49L183.58,378.82L183.69,378.15L183.80,377.48L183.89,376.81L183.98,376.14L184.06,375.47L184.14,374.80L184.21,374.13L184.27,373.46L184.34,372.79L184.40,372.12L184.46,371.45L184.52,370.78L184.58,370.11L184.63,369.44L184.68,368.77L184.73,368.10L184.78,367.43L184.83,366.76L184.87,366.09L184.91,365.42L184.95,364.75L184.99,364.08L185.03,363.41L185.06,362.74L185.10,362.07L185.13,361.40L185.17,360.73L185.20,360.06L185.23,359.39L185.26,358.73L185.29,358.06L185.32,357.39L185.35,356.72L185.38,356.05L185.40,355.38L185.43,354.71L185.45,354.04L185.45,353.37L185.45,352.70L185.45,352.03L185.45,351.36L185.45,350.69L185.45,350.02L185.45,349.35L185.45,348.68L185.45,348.01L185.45,347.34L185.45,346.67L185.45,346.00Z" fill="#8ec6bd" stroke="#6e6e6e" stroke-width="0.5"/><line x1="65.2" y1="320" x2="65.2" y2="424.8" stroke="#7a7a7a" stroke-width="0.6"/><line x1="65.2" y1="345" x2="65.2" y2="418" stroke="#666" stroke-width="1.1"/><line x1="125.5" y1="321" x2="125.5" y2="425.4" stroke="#7a7a7a" stroke-width="0.6"/><line x1="125.5" y1="356" x2="125.5" y2="418" stroke="#666" stroke-width="1.1"/><line x1="185.7" y1="346" x2="185.7" y2="421.5" stroke="#7a7a7a" stroke-width="0.6"/><line x1="185.7" y1="374" x2="185.7" y2="421" stroke="#666" stroke-width="1.1"/><path d="M34.6,295.2H215.6V439.1H34.6Z" fill="none" stroke="#7a7a7a" stroke-width="0.9"/><line x1="31.2" y1="425.0" x2="34.6" y2="425.0" stroke="#7a7a7a" stroke-width="0.9"/><text x="27.0" y="428.1" font-size="8.8" text-anchor="end" fill="#231f20" >0</text><line x1="31.2" y1="401.8" x2="34.6" y2="401.8" stroke="#7a7a7a" stroke-width="0.9"/><text x="27.0" y="404.9" font-size="8.8" text-anchor="end" fill="#231f20" >10</text><line x1="31.2" y1="378.7" x2="34.6" y2="378.7" stroke="#7a7a7a" stroke-width="0.9"/><text x="27.0" y="381.8" font-size="8.8" text-anchor="end" fill="#231f20" >20</text><line x1="31.2" y1="355.5" x2="34.6" y2="355.5" stroke="#7a7a7a" stroke-width="0.9"/><text x="27.0" y="358.6" font-size="8.8" text-anchor="end" fill="#231f20" >30</text><line x1="31.2" y1="332.4" x2="34.6" y2="332.4" stroke="#7a7a7a" stroke-width="0.9"/><text x="27.0" y="335.5" font-size="8.8" text-anchor="end" fill="#231f20" >40</text><line x1="31.2" y1="309.2" x2="34.6" y2="309.2" stroke="#7a7a7a" stroke-width="0.9"/><text x="27.0" y="312.3" font-size="8.8" text-anchor="end" fill="#231f20" >50</text><line x1="65.3" y1="439.1" x2="65.3" y2="442.4" stroke="#7a7a7a" stroke-width="0.9"/><line x1="125.9" y1="439.1" x2="125.9" y2="442.4" stroke="#7a7a7a" stroke-width="0.9"/><line x1="186.4" y1="439.1" x2="186.4" y2="442.4" stroke="#7a7a7a" stroke-width="0.9"/><text transform="translate(71.3,449.3) rotate(-45)" font-size="9.5" text-anchor="end" fill="#231f20">Vulnerability</text><text transform="translate(132.2,449.2) rotate(-45)" font-size="9.6" text-anchor="end" fill="#231f20">Adaptation</text><text transform="translate(193.0,449.4) rotate(-45)" font-size="9.4" text-anchor="end" fill="#231f20">Resilience</text><text transform="translate(8.7,367.0) rotate(-90)" font-size="10.5" text-anchor="middle" fill="#231f20" textLength="139" lengthAdjust="spacingAndGlyphs">Score of awareness (<tspan font-style="italic">n</tspan> = 535)</text><text x="227.8" y="294.3" font-size="14.6" text-anchor="start" fill="#000" font-weight="bold" stroke="#000" stroke-width="0.5">c</text><path d="M295.05,319.80L295.05,320.58L295.05,321.36L295.05,322.15L295.05,322.93L295.05,323.71L295.05,324.49L295.06,325.28L295.10,326.06L295.14,326.84L295.18,327.62L295.22,328.41L295.26,329.19L295.30,329.97L295.34,330.75L295.37,331.54L295.41,332.32L295.44,333.10L295.47,333.88L295.51,334.66L295.55,335.45L295.59,336.23L295.65,337.01L295.71,337.79L295.78,338.58L295.89,339.36L296.09,340.14L296.36,340.92L296.65,341.71L296.92,342.49L297.14,343.27L297.27,344.05L297.36,344.84L297.43,345.62L297.52,346.40L297.63,347.18L297.78,347.96L297.96,348.75L298.16,349.53L298.39,350.31L298.64,351.09L298.94,351.88L299.35,352.66L300.04,353.44L301.28,354.22L302.69,355.01L304.33,355.79L306.20,356.57L308.04,357.35L309.66,358.14L311.19,358.92L312.62,359.70L313.86,360.48L314.84,361.26L315.80,362.05L316.60,362.83L317.06,363.61L317.05,364.39L316.81,365.18L316.44,365.96L315.93,366.74L314.91,367.52L313.76,368.31L312.94,369.09L312.23,369.87L311.62,370.65L311.25,371.44L311.20,372.22L311.20,373.00L311.20,373.78L311.20,374.56L311.24,375.35L311.41,376.13L311.59,376.91L311.70,377.69L311.62,378.48L311.37,379.26L311.02,380.04L310.64,380.82L310.11,381.61L309.42,382.39L308.62,383.17L307.78,383.95L306.96,384.74L306.13,385.52L305.25,386.30L304.34,387.08L303.43,387.86L302.56,388.65L301.69,389.43L300.80,390.21L299.93,390.99L299.12,391.78L298.41,392.56L297.79,393.34L297.21,394.12L296.83,394.91L296.64,395.69L296.50,396.47L296.38,397.25L296.29,398.04L296.21,398.82L296.12,399.60L296.03,400.38L295.95,401.16L295.88,401.95L295.81,402.73L295.74,403.51L295.67,404.29L295.59,405.08L295.52,405.86L295.44,406.64L295.36,407.42L295.28,408.21L295.20,408.99L295.12,409.77L295.05,410.55L295.05,411.34L295.05,412.12L295.05,412.90L294.55,412.90L294.55,412.12L294.55,411.34L294.55,410.55L294.48,409.77L294.40,408.99L294.32,408.21L294.24,407.42L294.16,406.64L294.08,405.86L294.01,405.08L293.93,404.29L293.86,403.51L293.79,402.73L293.72,401.95L293.65,401.16L293.57,400.38L293.48,399.60L293.39,398.82L293.31,398.04L293.22,397.25L293.10,396.47L292.96,395.69L292.77,394.91L292.39,394.12L291.81,393.34L291.19,392.56L290.48,391.78L289.67,390.99L288.80,390.21L287.91,389.43L287.04,388.65L286.17,387.86L285.26,387.08L284.35,386.30L283.47,385.52L282.64,384.74L281.82,383.95L280.98,383.17L280.18,382.39L279.49,381.61L278.96,380.82L278.58,380.04L278.23,379.26L277.98,378.48L277.90,377.69L278.01,376.91L278.19,376.13L278.36,375.35L278.40,374.56L278.40,373.78L278.40,373.00L278.40,372.22L278.35,371.44L277.98,370.65L277.37,369.87L276.66,369.09L275.84,368.31L274.69,367.52L273.67,366.74L273.16,365.96L272.79,365.18L272.55,364.39L272.54,363.61L273.00,362.83L273.80,362.05L274.76,361.26L275.74,360.48L276.98,359.70L278.41,358.92L279.94,358.14L281.56,357.35L283.40,356.57L285.27,355.79L286.91,355.01L288.32,354.22L289.56,353.44L290.25,352.66L290.66,351.88L290.96,351.09L291.21,350.31L291.44,349.53L291.64,348.75L291.82,347.96L291.97,347.18L292.08,346.40L292.17,345.62L292.24,344.84L292.33,344.05L292.46,343.27L292.68,342.49L292.95,341.71L293.24,340.92L293.51,340.14L293.71,339.36L293.82,338.58L293.89,337.79L293.95,337.01L294.01,336.23L294.05,335.45L294.09,334.66L294.13,333.88L294.16,333.10L294.19,332.32L294.23,331.54L294.26,330.75L294.30,329.97L294.34,329.19L294.38,328.41L294.42,327.62L294.46,326.84L294.50,326.06L294.54,325.28L294.55,324.49L294.55,323.71L294.55,322.93L294.55,322.15L294.55,321.36L294.55,320.58L294.55,319.80Z" fill="#e9b271" stroke="#6e6e6e" stroke-width="0.5"/><path d="M351.75,341.90L351.75,342.48L351.87,343.05L352.09,343.63L352.33,344.20L352.59,344.78L352.87,345.35L353.17,345.93L353.50,346.51L353.87,347.08L354.30,347.66L354.82,348.23L355.52,348.81L356.35,349.38L357.24,349.96L358.12,350.53L358.94,351.11L359.76,351.69L360.59,352.26L361.42,352.84L362.25,353.41L363.07,353.99L363.92,354.56L364.78,355.14L365.62,355.72L366.40,356.29L367.07,356.87L367.69,357.44L368.27,358.02L368.80,358.59L369.27,359.17L369.67,359.74L369.99,360.32L370.28,360.90L370.53,361.47L370.75,362.05L370.94,362.62L371.09,363.20L371.21,363.77L371.33,364.35L371.46,364.93L371.63,365.50L371.89,366.08L372.33,366.65L372.81,367.23L373.21,367.80L373.45,368.38L373.67,368.95L373.86,369.53L373.97,370.11L373.98,370.68L373.75,371.26L373.33,371.83L372.83,372.41L372.35,372.98L371.81,373.56L371.20,374.14L370.55,374.71L369.90,375.29L369.22,375.86L368.51,376.44L367.77,377.01L367.02,377.59L366.27,378.16L365.53,378.74L364.81,379.32L364.12,379.89L363.47,380.47L362.83,381.04L362.19,381.62L361.57,382.19L360.97,382.77L360.38,383.35L359.82,383.92L359.28,384.50L358.76,385.07L358.25,385.65L357.77,386.22L357.29,386.80L356.83,387.37L356.39,387.95L355.97,388.53L355.57,389.10L355.18,389.68L354.79,390.25L354.42,390.83L354.10,391.40L353.87,391.98L353.70,392.56L353.55,393.13L353.41,393.71L353.28,394.28L353.17,394.86L353.06,395.43L352.97,396.01L352.88,396.58L352.80,397.16L352.72,397.74L352.65,398.31L352.58,398.89L352.52,399.46L352.46,400.04L352.40,400.61L352.35,401.19L352.30,401.77L352.25,402.34L352.20,402.92L352.15,403.49L352.09,404.07L352.04,404.64L351.98,405.22L351.93,405.79L351.87,406.37L351.82,406.95L351.77,407.52L351.75,408.10L351.75,408.67L351.75,409.25L351.75,409.82L351.75,410.40L351.25,410.40L351.25,409.82L351.25,409.25L351.25,408.67L351.25,408.10L351.23,407.52L351.18,406.95L351.13,406.37L351.07,405.79L351.02,405.22L350.96,404.64L350.91,404.07L350.85,403.49L350.80,402.92L350.75,402.34L350.70,401.77L350.65,401.19L350.60,400.61L350.54,400.04L350.48,399.46L350.42,398.89L350.35,398.31L350.28,397.74L350.20,397.16L350.12,396.58L350.03,396.01L349.94,395.43L349.83,394.86L349.72,394.28L349.59,393.71L349.45,393.13L349.30,392.56L349.13,391.98L348.90,391.40L348.58,390.83L348.21,390.25L347.82,389.68L347.43,389.10L347.03,388.53L346.61,387.95L346.17,387.37L345.71,386.80L345.23,386.22L344.75,385.65L344.24,385.07L343.72,384.50L343.18,383.92L342.62,383.35L342.03,382.77L341.43,382.19L340.81,381.62L340.17,381.04L339.53,380.47L338.88,379.89L338.19,379.32L337.47,378.74L336.73,378.16L335.98,377.59L335.23,377.01L334.49,376.44L333.78,375.86L333.10,375.29L332.45,374.71L331.80,374.14L331.19,373.56L330.65,372.98L330.17,372.41L329.67,371.83L329.25,371.26L329.02,370.68L329.03,370.11L329.14,369.53L329.33,368.95L329.55,368.38L329.79,367.80L330.19,367.23L330.67,366.65L331.11,366.08L331.37,365.50L331.54,364.93L331.67,364.35L331.79,363.77L331.91,363.20L332.06,362.62L332.25,362.05L332.47,361.47L332.72,360.90L333.01,360.32L333.33,359.74L333.73,359.17L334.20,358.59L334.73,358.02L335.31,357.44L335.93,356.87L336.60,356.29L337.38,355.72L338.22,355.14L339.08,354.56L339.93,353.99L340.75,353.41L341.58,352.84L342.41,352.26L343.24,351.69L344.06,351.11L344.88,350.53L345.76,349.96L346.65,349.38L347.48,348.81L348.18,348.23L348.70,347.66L349.13,347.08L349.50,346.51L349.83,345.93L350.13,345.35L350.41,344.78L350.67,344.20L350.91,343.63L351.13,343.05L351.25,342.48L351.25,341.90Z" fill="#83adcb" stroke="#6e6e6e" stroke-width="0.5"/><path d="M407.95,349.60L408.24,350.01L408.77,350.42L409.32,350.83L409.86,351.24L410.41,351.65L410.95,352.07L411.51,352.48L412.06,352.89L412.62,353.30L413.18,353.71L413.74,354.12L414.32,354.53L414.91,354.94L415.50,355.35L416.09,355.76L416.69,356.17L417.29,356.59L417.89,357.00L418.48,357.41L419.06,357.82L419.64,358.23L420.20,358.64L420.75,359.05L421.28,359.46L421.79,359.87L422.30,360.28L422.81,360.69L423.33,361.11L423.84,361.52L424.35,361.93L424.84,362.34L425.33,362.75L425.80,363.16L426.25,363.57L426.68,363.98L427.09,364.39L427.47,364.80L427.83,365.22L428.15,365.63L428.45,366.04L428.76,366.45L429.07,366.86L429.37,367.27L429.64,367.68L429.87,368.09L430.05,368.50L430.16,368.91L430.20,369.32L430.12,369.74L429.94,370.15L429.68,370.56L429.38,370.97L429.08,371.38L428.78,371.79L428.42,372.20L428.03,372.61L427.61,373.02L427.20,373.43L426.83,373.84L426.50,374.26L426.18,374.67L425.87,375.08L425.57,375.49L425.28,375.90L425.01,376.31L424.76,376.72L424.53,377.13L424.32,377.54L424.14,377.95L423.97,378.36L423.79,378.78L423.62,379.19L423.42,379.60L423.20,380.01L422.94,380.42L422.66,380.83L422.35,381.24L422.02,381.65L421.68,382.06L421.32,382.47L420.95,382.88L420.57,383.30L420.20,383.71L419.82,384.12L419.44,384.53L419.08,384.94L418.70,385.35L418.33,385.76L417.94,386.17L417.56,386.58L417.17,386.99L416.77,387.41L416.37,387.82L415.97,388.23L415.56,388.64L415.15,389.05L414.74,389.46L414.32,389.87L413.88,390.28L413.43,390.69L412.99,391.10L412.57,391.51L412.18,391.93L411.81,392.34L411.45,392.75L411.10,393.16L410.76,393.57L410.44,393.98L410.13,394.39L409.84,394.80L409.56,395.21L409.29,395.62L409.03,396.03L408.78,396.45L408.54,396.86L408.31,397.27L408.09,397.68L407.95,398.09L407.95,398.50L407.45,398.50L407.45,398.09L407.31,397.68L407.09,397.27L406.86,396.86L406.62,396.45L406.37,396.03L406.11,395.62L405.84,395.21L405.56,394.80L405.27,394.39L404.96,393.98L404.64,393.57L404.30,393.16L403.95,392.75L403.59,392.34L403.22,391.93L402.83,391.51L402.41,391.10L401.97,390.69L401.52,390.28L401.08,389.87L400.66,389.46L400.25,389.05L399.84,388.64L399.43,388.23L399.03,387.82L398.63,387.41L398.23,386.99L397.84,386.58L397.46,386.17L397.07,385.76L396.70,385.35L396.32,384.94L395.96,384.53L395.58,384.12L395.20,383.71L394.83,383.30L394.45,382.88L394.08,382.47L393.72,382.06L393.38,381.65L393.05,381.24L392.74,380.83L392.46,380.42L392.20,380.01L391.98,379.60L391.78,379.19L391.61,378.78L391.43,378.36L391.26,377.95L391.08,377.54L390.87,377.13L390.64,376.72L390.39,376.31L390.12,375.90L389.83,375.49L389.53,375.08L389.22,374.67L388.90,374.26L388.57,373.84L388.20,373.43L387.79,373.02L387.37,372.61L386.98,372.20L386.62,371.79L386.32,371.38L386.02,370.97L385.72,370.56L385.46,370.15L385.28,369.74L385.20,369.32L385.24,368.91L385.35,368.50L385.53,368.09L385.76,367.68L386.03,367.27L386.33,366.86L386.64,366.45L386.95,366.04L387.25,365.63L387.57,365.22L387.93,364.80L388.31,364.39L388.72,363.98L389.15,363.57L389.60,363.16L390.07,362.75L390.56,362.34L391.05,361.93L391.56,361.52L392.07,361.11L392.59,360.69L393.10,360.28L393.61,359.87L394.12,359.46L394.65,359.05L395.20,358.64L395.76,358.23L396.34,357.82L396.92,357.41L397.51,357.00L398.11,356.59L398.71,356.17L399.31,355.76L399.90,355.35L400.49,354.94L401.08,354.53L401.66,354.12L402.22,353.71L402.78,353.30L403.34,352.89L403.89,352.48L404.45,352.07L404.99,351.65L405.54,351.24L406.08,350.83L406.63,350.42L407.16,350.01L407.45,349.60Z" fill="#e7877b" stroke="#6e6e6e" stroke-width="0.5"/><path d="M464.85,340.10L464.85,340.77L464.85,341.43L464.85,342.10L464.85,342.76L464.88,343.43L464.97,344.09L465.07,344.76L465.17,345.42L465.28,346.09L465.40,346.76L465.51,347.42L465.63,348.09L465.77,348.75L465.91,349.42L466.07,350.08L466.25,350.75L466.44,351.41L466.66,352.08L466.89,352.75L467.14,353.41L467.42,354.08L467.77,354.74L468.18,355.41L468.64,356.07L469.15,356.74L469.69,357.40L470.25,358.07L470.81,358.74L471.37,359.40L471.92,360.07L472.48,360.73L473.06,361.40L473.66,362.06L474.28,362.73L474.90,363.39L475.53,364.06L476.17,364.73L476.80,365.39L477.45,366.06L478.13,366.72L478.85,367.39L479.58,368.05L480.31,368.72L481.02,369.38L481.69,370.05L482.31,370.72L482.87,371.38L483.34,372.05L483.78,372.71L484.20,373.38L484.60,374.04L484.97,374.71L485.31,375.37L485.64,376.04L485.94,376.71L486.21,377.37L486.47,378.04L486.75,378.70L487.01,379.37L487.23,380.03L487.36,380.70L487.39,381.36L487.16,382.03L486.72,382.69L486.17,383.36L485.61,384.03L484.94,384.69L484.15,385.36L483.27,386.02L482.32,386.69L481.20,387.35L479.97,388.02L478.79,388.68L477.72,389.35L476.66,390.02L475.63,390.68L474.63,391.35L473.69,392.01L472.81,392.68L472.01,393.34L471.22,394.01L470.44,394.67L469.70,395.34L469.01,396.01L468.41,396.67L467.92,397.34L467.55,398.00L467.25,398.67L466.98,399.33L466.74,400.00L466.52,400.66L466.32,401.33L466.15,402.00L466.00,402.66L465.88,403.33L465.77,403.99L465.68,404.66L465.60,405.32L465.53,405.99L465.47,406.65L465.41,407.32L465.36,407.99L465.30,408.65L465.25,409.32L465.20,409.98L465.15,410.65L465.10,411.31L465.05,411.98L465.00,412.64L464.95,413.31L464.91,413.98L464.86,414.64L464.85,415.31L464.85,415.97L464.85,416.64L464.85,417.30L464.85,417.97L464.85,418.63L464.85,419.30L464.35,419.30L464.35,418.63L464.35,417.97L464.35,417.30L464.35,416.64L464.35,415.97L464.35,415.31L464.34,414.64L464.29,413.98L464.25,413.31L464.20,412.64L464.15,411.98L464.10,411.31L464.05,410.65L464.00,409.98L463.95,409.32L463.90,408.65L463.84,407.99L463.79,407.32L463.73,406.65L463.67,405.99L463.60,405.32L463.52,404.66L463.43,403.99L463.32,403.33L463.20,402.66L463.05,402.00L462.88,401.33L462.68,400.66L462.46,400.00L462.22,399.33L461.95,398.67L461.65,398.00L461.28,397.34L460.79,396.67L460.19,396.01L459.50,395.34L458.76,394.67L457.98,394.01L457.19,393.34L456.39,392.68L455.51,392.01L454.57,391.35L453.57,390.68L452.54,390.02L451.48,389.35L450.41,388.68L449.23,388.02L448.00,387.35L446.88,386.69L445.93,386.02L445.05,385.36L444.26,384.69L443.59,384.03L443.03,383.36L442.48,382.69L442.04,382.03L441.81,381.36L441.84,380.70L441.97,380.03L442.19,379.37L442.45,378.70L442.73,378.04L442.99,377.37L443.26,376.71L443.56,376.04L443.89,375.37L444.23,374.71L444.60,374.04L445.00,373.38L445.42,372.71L445.86,372.05L446.33,371.38L446.89,370.72L447.51,370.05L448.18,369.38L448.89,368.72L449.62,368.05L450.35,367.39L451.07,366.72L451.75,366.06L452.40,365.39L453.03,364.73L453.67,364.06L454.30,363.39L454.92,362.73L455.54,362.06L456.14,361.40L456.72,360.73L457.28,360.07L457.83,359.40L458.39,358.74L458.95,358.07L459.51,357.40L460.05,356.74L460.56,356.07L461.02,355.41L461.43,354.74L461.78,354.08L462.06,353.41L462.31,352.75L462.54,352.08L462.76,351.41L462.95,350.75L463.13,350.08L463.29,349.42L463.43,348.75L463.57,348.09L463.69,347.42L463.80,346.76L463.92,346.09L464.03,345.42L464.13,344.76L464.23,344.09L464.32,343.43L464.35,342.76L464.35,342.10L464.35,341.43L464.35,340.77L464.35,340.10Z" fill="#bebddb" stroke="#6e6e6e" stroke-width="0.5"/><line x1="294.8" y1="319.8" x2="294.8" y2="412.9" stroke="#7a7a7a" stroke-width="0.6"/><line x1="294.8" y1="338" x2="294.8" y2="405" stroke="#747474" stroke-width="1.0" stroke-dasharray="2.5 0.5"/><line x1="351.5" y1="347" x2="351.5" y2="405" stroke="#7a7a7a" stroke-width="0.6"/><line x1="351.5" y1="352" x2="351.5" y2="400" stroke="#747474" stroke-width="1.0" stroke-dasharray="1.1 1.3"/><line x1="407.7" y1="352" x2="407.7" y2="396" stroke="#7a7a7a" stroke-width="0.6"/><line x1="407.7" y1="355" x2="407.7" y2="392" stroke="#747474" stroke-width="1.0" stroke-dasharray="1.1 1.1"/><line x1="464.6" y1="340.1" x2="464.6" y2="419.3" stroke="#7a7a7a" stroke-width="0.6"/><line x1="464.6" y1="357" x2="464.6" y2="398" stroke="#747474" stroke-width="1.0" stroke-dasharray="1.4 1.0"/><path d="M267.4,295.5H492.4V439.1H267.4Z" fill="none" stroke="#7a7a7a" stroke-width="0.9"/><line x1="263.8" y1="425.2" x2="267.4" y2="425.2" stroke="#7a7a7a" stroke-width="0.9"/><text x="259.9" y="428.3" font-size="8.8" text-anchor="end" fill="#231f20" >0</text><line x1="263.8" y1="402.0" x2="267.4" y2="402.0" stroke="#7a7a7a" stroke-width="0.9"/><text x="259.9" y="405.1" font-size="8.8" text-anchor="end" fill="#231f20" >20</text><line x1="263.8" y1="378.9" x2="267.4" y2="378.9" stroke="#7a7a7a" stroke-width="0.9"/><text x="259.9" y="382.0" font-size="8.8" text-anchor="end" fill="#231f20" >40</text><line x1="263.8" y1="355.7" x2="267.4" y2="355.7" stroke="#7a7a7a" stroke-width="0.9"/><text x="259.9" y="358.8" font-size="8.8" text-anchor="end" fill="#231f20" >60</text><line x1="263.8" y1="332.6" x2="267.4" y2="332.6" stroke="#7a7a7a" stroke-width="0.9"/><text x="259.9" y="335.7" font-size="8.8" text-anchor="end" fill="#231f20" >80</text><line x1="263.8" y1="309.4" x2="267.4" y2="309.4" stroke="#7a7a7a" stroke-width="0.9"/><text x="259.9" y="312.5" font-size="8.8" text-anchor="end" fill="#231f20" >100</text><line x1="295.3" y1="439.1" x2="295.3" y2="442.4" stroke="#7a7a7a" stroke-width="0.9"/><line x1="351.5" y1="439.1" x2="351.5" y2="442.4" stroke="#7a7a7a" stroke-width="0.9"/><line x1="408.0" y1="439.1" x2="408.0" y2="442.4" stroke="#7a7a7a" stroke-width="0.9"/><line x1="464.6" y1="439.1" x2="464.6" y2="442.4" stroke="#7a7a7a" stroke-width="0.9"/><text transform="translate(301.0,449.1) rotate(-45)" font-size="9.7" text-anchor="end" fill="#231f20">Cities</text><text transform="translate(357.6,449.2) rotate(-45)" font-size="9.4" text-anchor="end" fill="#231f20">Forests</text><text transform="translate(414.2,449.1) rotate(-45)" font-size="9.5" text-anchor="end" fill="#231f20">Marine and Coastal</text><text transform="translate(470.8,449.1) rotate(-45)" font-size="9.5" text-anchor="end" fill="#231f20">Cultural landscapes</text><text transform="translate(237.1,366.8) rotate(-90)" font-size="10.5" text-anchor="middle" fill="#231f20" textLength="135" lengthAdjust="spacingAndGlyphs">Climate awareness (<tspan font-style="italic">n</tspan> = 562)</text><text x="296.6" y="317.3" font-size="8.9" text-anchor="middle" fill="#231f20" ><tspan font-style="italic">n</tspan> = 307</text><text x="351.4" y="339.6" font-size="8.9" text-anchor="middle" fill="#231f20" ><tspan font-style="italic">n</tspan> = 47</text><text x="408.8" y="347.2" font-size="8.9" text-anchor="middle" fill="#231f20" ><tspan font-style="italic">n</tspan> = 80</text><text x="465.8" y="338.5" font-size="8.9" text-anchor="middle" fill="#231f20" ><tspan font-style="italic">n</tspan> = 128</text><text x="506.0" y="294.3" font-size="14.6" text-anchor="start" fill="#000" font-weight="bold" stroke="#000" stroke-width="0.5">d</text><path d="M598.6,361.5L573.5,405.0L623.7,405.0Z" fill="none" stroke="#cdcdcd" stroke-width="0.55"/><path d="M598.6,347.0L560.9,412.2L636.3,412.2Z" fill="none" stroke="#cdcdcd" stroke-width="0.55"/><path d="M598.6,331.8L547.8,419.9L649.4,419.9Z" fill="none" stroke="#cdcdcd" stroke-width="0.55"/><path d="M598.6,319.9L537.5,425.8L659.7,425.8Z" fill="none" stroke="#cdcdcd" stroke-width="0.55"/><path d="M598.6,308.5L527.6,431.5L669.6,431.5Z" fill="none" stroke="#c4c4c4" stroke-width="0.6"/><path d="M598.6,316.3L569.2,407.3L658.3,424.2Z" fill="#3dbdb2" fill-opacity="0.24" stroke="#7fd3cb" stroke-width="0.5"/><path d="M598.6,356.3L542.4,422.7L645.4,416.9Z" fill="#2fb5a9" fill-opacity="0.42" stroke="#5cc4ba" stroke-width="0.5"/><line x1="598.6" y1="390.5" x2="598.6" y2="308.5" stroke="#8a8a8a" stroke-width="0.55"/><line x1="598.6" y1="390.5" x2="527.6" y2="431.5" stroke="#8a8a8a" stroke-width="0.55"/><line x1="598.6" y1="390.5" x2="669.6" y2="431.5" stroke="#8a8a8a" stroke-width="0.55"/><circle cx="598.6" cy="316.3" r="1.9" fill="#93dcd5"/><circle cx="569.2" cy="407.3" r="1.9" fill="#93dcd5"/><circle cx="658.3" cy="424.2" r="1.9" fill="#93dcd5"/><circle cx="598.6" cy="356.3" r="1.9" fill="#28b8ab"/><circle cx="542.4" cy="422.7" r="1.9" fill="#28b8ab"/><circle cx="645.4" cy="416.9" r="1.9" fill="#28b8ab"/><text x="602" y="319.3" font-size="8.6" text-anchor="start" fill="#231f20" >20.18</text><text x="602" y="359.3" font-size="8.6" text-anchor="start" fill="#231f20" >18.45</text><text x="547.3" y="418.4" font-size="8.6" text-anchor="end" fill="#231f20" >16.82</text><text x="572.3" y="403.8" font-size="8.6" text-anchor="end" fill="#231f20" >15.49</text><text x="643.8" y="413.9" font-size="8.6" text-anchor="start" fill="#231f20" >8.32</text><text x="657.4" y="421.7" font-size="8.6" text-anchor="start" fill="#231f20" >8.95</text><text x="592.6" y="303.9" font-size="11.1" text-anchor="start" fill="#231f20" >Vulnerability</text><text x="505.0" y="441.0" font-size="10.8" text-anchor="start" fill="#231f20" >Adaptation</text><text x="685.5" y="440.8" font-size="10.4" text-anchor="end" fill="#231f20" >Resilience</text><circle cx="518.6" cy="297.4" r="1.7" fill="#93dcd5"/><circle cx="518.6" cy="308.1" r="1.7" fill="#28b8ab"/><text x="522.1" y="300.4" font-size="8.8" text-anchor="start" fill="#231f20" textLength="66" lengthAdjust="spacingAndGlyphs" >English (<tspan font-style="italic">n</tspan> = 897)</text><text x="522.1" y="311.1" font-size="8.8" text-anchor="start" fill="#231f20" textLength="66" lengthAdjust="spacingAndGlyphs" >French (<tspan font-style="italic">n</tspan> = 200)</text>
</svg></body></html>
